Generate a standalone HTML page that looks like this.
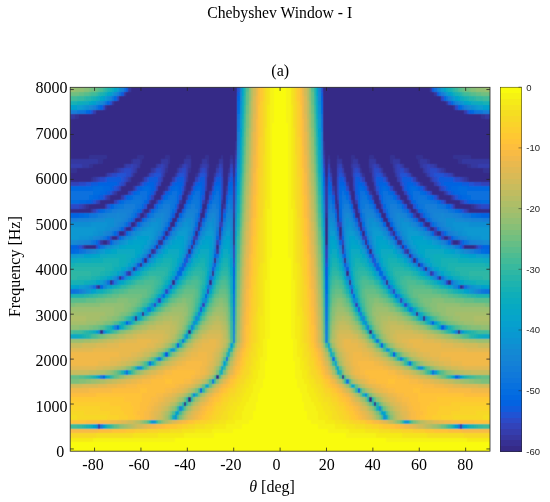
<!DOCTYPE html>
<html><head><meta charset="utf-8"><title>Chebyshev Window - I</title>
<style>
html,body{margin:0;padding:0;background:#fff;width:550px;height:502px;overflow:hidden}
svg{display:block}
.serif{font-family:"Liberation Serif","Times New Roman",serif;font-size:16px;fill:#000}
.sans{font-family:"Liberation Sans",Arial,sans-serif;font-size:9.5px;fill:#262626}
</style></head><body>
<svg width="550" height="502" viewBox="0 0 550 502">
<rect width="550" height="502" fill="#fff"/>
<defs><filter id="bl" x="-2%" y="-2%" width="104%" height="104%"><feConvolveMatrix order="3" kernelMatrix="9 42 9 42 196 42 9 42 9" divisor="400" edgeMode="duplicate" preserveAlpha="true"/></filter>
<clipPath id="axc"><rect x="70.2" y="87.3" width="419.80" height="363.90"/></clipPath></defs>
<g clip-path="url(#axc)"><g filter="url(#bl)">
<svg x="67.2" y="84.3" width="425.80" height="369.90" viewBox="-1.2935 -0.6678 183.5869 82.3355" preserveAspectRatio="none" shape-rendering="crispEdges">
<rect x="-2" y="-2" width="185" height="85" fill="#352a87"/>
<path fill="#363093" d="M15 4h1v1h-1zM165 4h1v1h-1zM2 6h2v1h-2zM177 6h2v1h-2zM71 12h1v1h-1zM109 12h1v1h-1zM71 13h1v1h-1zM109 13h1v1h-1zM8 15h8v1h-8zM29 15h3v1h-3zM41 15h2v1h-2zM50 15h2v1h-2zM58 15h2v1h-2zM65 15h1v1h-1zM69 15h1v1h-1zM111 15h1v1h-1zM115 15h1v1h-1zM121 15h2v1h-2zM129 15h2v1h-2zM138 15h2v1h-2zM149 15h3v1h-3zM165 15h8v1h-8zM12 16h2v1h-2zM26 16h1v1h-1zM30 16h1v1h-1zM42 16h1v1h-1zM59 16h1v1h-1zM121 16h1v1h-1zM138 16h1v1h-1zM150 16h1v1h-1zM154 16h1v1h-1zM167 16h2v1h-2zM8 17h2v1h-2zM47 17h1v1h-1zM63 17h1v1h-1zM117 17h1v1h-1zM133 17h1v1h-1zM171 17h2v1h-2zM-2 18h5v1h-5zM19 18h1v1h-1zM41 18h1v1h-1zM51 18h1v1h-1zM55 18h1v1h-1zM59 18h1v1h-1zM68 18h1v1h-1zM112 18h1v1h-1zM121 18h1v1h-1zM125 18h1v1h-1zM129 18h1v1h-1zM139 18h1v1h-1zM161 18h1v1h-1zM178 18h5v1h-5zM15 19h1v1h-1zM27 19h1v1h-1zM33 19h1v1h-1zM54 19h1v1h-1zM59 19h1v1h-1zM121 19h1v1h-1zM126 19h1v1h-1zM147 19h1v1h-1zM153 19h1v1h-1zM165 19h1v1h-1zM9 20h1v1h-1zM31 20h1v1h-1zM70 20h1v1h-1zM110 20h1v1h-1zM149 20h1v1h-1zM171 20h1v1h-1zM29 21h1v1h-1zM70 21h1v1h-1zM110 21h1v1h-1zM151 21h1v1h-1zM41 22h1v1h-1zM139 22h1v1h-1zM7 26h1v1h-1zM173 26h1v1h-1zM70 28h1v1h-1zM110 28h1v1h-1zM38 34h2v1h-2zM141 34h2v1h-2zM6 35h1v1h-1zM174 35h1v1h-1zM35 36h1v1h-1zM145 36h1v1h-1z"/>
<path fill="#3637a0" d="M25 -2h1v1h-1zM155 -2h1v1h-1zM25 -1h1v1h-1zM155 -1h1v1h-1zM25 0h1v1h-1zM155 0h1v1h-1zM23 1h1v1h-1zM157 1h1v1h-1zM18 3h1v1h-1zM162 3h1v1h-1zM-2 6h4v1h-4zM179 6h4v1h-4zM71 14h1v1h-1zM109 14h1v1h-1zM-2 16h14v1h-14zM27 16h3v1h-3zM39 16h3v1h-3zM49 16h3v1h-3zM57 16h2v1h-2zM64 16h2v1h-2zM69 16h1v1h-1zM111 16h1v1h-1zM115 16h2v1h-2zM122 16h2v1h-2zM129 16h3v1h-3zM139 16h3v1h-3zM151 16h3v1h-3zM169 16h14v1h-14zM5 17h3v1h-3zM23 17h1v1h-1zM29 17h1v1h-1zM37 17h1v1h-1zM41 17h1v1h-1zM51 17h1v1h-1zM56 17h1v1h-1zM59 17h1v1h-1zM121 17h1v1h-1zM124 17h1v1h-1zM129 17h1v1h-1zM139 17h1v1h-1zM143 17h1v1h-1zM151 17h1v1h-1zM157 17h1v1h-1zM173 17h3v1h-3zM20 18h1v1h-1zM28 18h1v1h-1zM35 18h1v1h-1zM46 18h1v1h-1zM134 18h1v1h-1zM145 18h1v1h-1zM152 18h1v1h-1zM160 18h1v1h-1zM40 19h1v1h-1zM45 19h1v1h-1zM62 19h1v1h-1zM118 19h1v1h-1zM135 19h1v1h-1zM140 19h1v1h-1zM10 20h1v1h-1zM25 20h1v1h-1zM50 20h1v1h-1zM130 20h1v1h-1zM155 20h1v1h-1zM170 20h1v1h-1zM61 21h1v1h-1zM119 21h1v1h-1zM27 22h1v1h-1zM49 22h1v1h-1zM67 22h1v1h-1zM70 22h1v1h-1zM110 22h1v1h-1zM113 22h1v1h-1zM131 22h1v1h-1zM153 22h1v1h-1zM19 23h1v1h-1zM51 23h1v1h-1zM70 23h1v1h-1zM110 23h1v1h-1zM129 23h1v1h-1zM161 23h1v1h-1zM16 24h1v1h-1zM50 24h1v1h-1zM70 24h1v1h-1zM110 24h1v1h-1zM130 24h1v1h-1zM164 24h1v1h-1zM34 25h1v1h-1zM47 25h1v1h-1zM65 25h1v1h-1zM70 25h1v1h-1zM110 25h1v1h-1zM115 25h1v1h-1zM133 25h1v1h-1zM146 25h1v1h-1zM6 26h1v1h-1zM66 26h1v1h-1zM70 26h1v1h-1zM110 26h1v1h-1zM114 26h1v1h-1zM174 26h1v1h-1zM9 27h1v1h-1zM70 27h1v1h-1zM110 27h1v1h-1zM171 27h1v1h-1zM30 29h1v1h-1zM150 29h1v1h-1zM43 31h1v1h-1zM137 31h1v1h-1zM64 33h1v1h-1zM116 33h1v1h-1zM13 34h1v1h-1zM167 34h1v1h-1zM63 36h1v1h-1zM117 36h1v1h-1zM25 41h1v1h-1zM155 41h1v1h-1z"/>
<path fill="#353dad" d="M10 5h1v1h-1zM170 5h1v1h-1zM71 15h1v1h-1zM109 15h1v1h-1zM-2 17h7v1h-7zM24 17h2v1h-2zM27 17h2v1h-2zM38 17h1v1h-1zM40 17h1v1h-1zM48 17h1v1h-1zM50 17h1v1h-1zM57 17h2v1h-2zM65 17h1v1h-1zM115 17h1v1h-1zM122 17h2v1h-2zM130 17h1v1h-1zM132 17h1v1h-1zM140 17h1v1h-1zM142 17h1v1h-1zM152 17h2v1h-2zM155 17h2v1h-2zM176 17h7v1h-7zM21 18h1v1h-1zM27 18h1v1h-1zM36 18h1v1h-1zM40 18h1v1h-1zM50 18h1v1h-1zM63 18h1v1h-1zM117 18h1v1h-1zM130 18h1v1h-1zM140 18h1v1h-1zM144 18h1v1h-1zM153 18h1v1h-1zM159 18h1v1h-1zM16 19h1v1h-1zM26 19h1v1h-1zM50 19h1v1h-1zM68 19h1v1h-1zM112 19h1v1h-1zM130 19h1v1h-1zM154 19h1v1h-1zM164 19h1v1h-1zM11 20h1v1h-1zM39 20h1v1h-1zM44 20h1v1h-1zM136 20h1v1h-1zM141 20h1v1h-1zM169 20h1v1h-1zM23 21h1v1h-1zM157 21h1v1h-1zM21 22h1v1h-1zM52 22h1v1h-1zM58 22h1v1h-1zM122 22h1v1h-1zM128 22h1v1h-1zM159 22h1v1h-1zM40 23h1v1h-1zM60 23h1v1h-1zM120 23h1v1h-1zM140 23h1v1h-1zM22 24h1v1h-1zM158 24h1v1h-1zM12 25h1v1h-1zM37 25h1v1h-1zM57 25h1v1h-1zM59 25h1v1h-1zM121 25h1v1h-1zM123 25h1v1h-1zM143 25h1v1h-1zM168 25h1v1h-1zM5 26h1v1h-1zM15 26h1v1h-1zM165 26h1v1h-1zM175 26h1v1h-1zM31 27h1v1h-1zM149 27h1v1h-1zM32 28h1v1h-1zM148 28h1v1h-1zM28 30h1v1h-1zM56 30h1v1h-1zM124 30h1v1h-1zM152 30h1v1h-1zM23 32h1v1h-1zM157 32h1v1h-1zM53 33h1v1h-1zM127 33h1v1h-1zM16 34h1v1h-1zM164 34h1v1h-1zM70 35h1v1h-1zM110 35h1v1h-1zM36 36h1v1h-1zM144 36h1v1h-1zM11 44h1v1h-1zM169 44h1v1h-1zM12 75h1v1h-1zM168 75h1v1h-1z"/>
<path fill="#3243ba" d="M71 16h1v1h-1zM109 16h1v1h-1zM26 17h1v1h-1zM39 17h1v1h-1zM49 17h1v1h-1zM64 17h1v1h-1zM69 17h1v1h-1zM111 17h1v1h-1zM116 17h1v1h-1zM131 17h1v1h-1zM141 17h1v1h-1zM154 17h1v1h-1zM22 18h1v1h-1zM26 18h1v1h-1zM39 18h1v1h-1zM47 18h1v1h-1zM56 18h1v1h-1zM58 18h1v1h-1zM65 18h1v1h-1zM115 18h1v1h-1zM122 18h1v1h-1zM124 18h1v1h-1zM133 18h1v1h-1zM141 18h1v1h-1zM154 18h1v1h-1zM158 18h1v1h-1zM17 19h1v1h-1zM34 19h1v1h-1zM39 19h1v1h-1zM55 19h1v1h-1zM65 19h1v1h-1zM115 19h1v1h-1zM125 19h1v1h-1zM141 19h1v1h-1zM146 19h1v1h-1zM163 19h1v1h-1zM12 20h1v1h-1zM24 20h1v1h-1zM32 20h1v1h-1zM54 20h1v1h-1zM58 20h1v1h-1zM122 20h1v1h-1zM126 20h1v1h-1zM148 20h1v1h-1zM156 20h1v1h-1zM168 20h1v1h-1zM-2 21h6v1h-6zM30 21h1v1h-1zM38 21h1v1h-1zM43 21h1v1h-1zM49 21h1v1h-1zM53 21h1v1h-1zM58 21h1v1h-1zM122 21h1v1h-1zM127 21h1v1h-1zM131 21h1v1h-1zM137 21h1v1h-1zM142 21h1v1h-1zM150 21h1v1h-1zM177 21h6v1h-6zM37 22h1v1h-1zM143 22h1v1h-1zM18 23h1v1h-1zM25 23h1v1h-1zM36 23h1v1h-1zM48 23h1v1h-1zM67 23h1v1h-1zM113 23h1v1h-1zM132 23h1v1h-1zM144 23h1v1h-1zM155 23h1v1h-1zM162 23h1v1h-1zM15 24h1v1h-1zM35 24h1v1h-1zM65 24h1v1h-1zM115 24h1v1h-1zM145 24h1v1h-1zM165 24h1v1h-1zM11 25h1v1h-1zM19 25h1v1h-1zM161 25h1v1h-1zM169 25h1v1h-1zM4 26h1v1h-1zM46 26h1v1h-1zM134 26h1v1h-1zM176 26h1v1h-1zM10 27h1v1h-1zM34 27h1v1h-1zM146 27h1v1h-1zM170 27h1v1h-1zM64 30h2v1h-2zM115 30h2v1h-2zM23 31h1v1h-1zM157 31h1v1h-1zM17 33h1v1h-1zM20 33h1v1h-1zM54 33h1v1h-1zM126 33h1v1h-1zM160 33h1v1h-1zM163 33h1v1h-1zM63 34h1v1h-1zM117 34h1v1h-1zM5 35h1v1h-1zM175 35h1v1h-1zM70 36h1v1h-1zM110 36h1v1h-1zM70 37h1v1h-1zM110 37h1v1h-1zM59 45h1v1h-1zM121 45h1v1h-1zM38 47h1v1h-1zM142 47h1v1h-1zM57 48h1v1h-1zM123 48h1v1h-1z"/>
<path fill="#2c4ac7" d="M20 2h1v1h-1zM160 2h1v1h-1zM14 4h1v1h-1zM166 4h1v1h-1zM71 17h1v1h-1zM109 17h1v1h-1zM23 18h3v1h-3zM37 18h2v1h-2zM48 18h2v1h-2zM57 18h1v1h-1zM64 18h1v1h-1zM69 18h1v1h-1zM111 18h1v1h-1zM116 18h1v1h-1zM123 18h1v1h-1zM131 18h2v1h-2zM142 18h2v1h-2zM155 18h3v1h-3zM18 19h2v1h-2zM24 19h2v1h-2zM35 19h1v1h-1zM46 19h1v1h-1zM49 19h1v1h-1zM58 19h1v1h-1zM63 19h1v1h-1zM117 19h1v1h-1zM122 19h1v1h-1zM131 19h1v1h-1zM134 19h1v1h-1zM145 19h1v1h-1zM155 19h2v1h-2zM161 19h2v1h-2zM13 20h2v1h-2zM23 20h1v1h-1zM38 20h1v1h-1zM49 20h1v1h-1zM62 20h1v1h-1zM65 20h1v1h-1zM68 20h1v1h-1zM112 20h1v1h-1zM115 20h1v1h-1zM118 20h1v1h-1zM131 20h1v1h-1zM142 20h1v1h-1zM157 20h1v1h-1zM166 20h2v1h-2zM4 21h3v1h-3zM22 21h1v1h-1zM65 21h1v1h-1zM115 21h1v1h-1zM158 21h1v1h-1zM174 21h3v1h-3zM20 22h1v1h-1zM28 22h1v1h-1zM42 22h1v1h-1zM61 22h1v1h-1zM65 22h1v1h-1zM115 22h1v1h-1zM119 22h1v1h-1zM138 22h1v1h-1zM152 22h1v1h-1zM160 22h1v1h-1zM65 23h1v1h-1zM115 23h1v1h-1zM39 24h1v1h-1zM141 24h1v1h-1zM-2 26h6v1h-6zM177 26h6v1h-6zM56 27h1v1h-1zM58 27h1v1h-1zM122 27h1v1h-1zM124 27h1v1h-1zM29 28h1v1h-1zM151 28h1v1h-1zM26 31h1v1h-1zM154 31h1v1h-1zM42 32h1v1h-1zM138 32h1v1h-1zM11 35h1v1h-1zM169 35h1v1h-1zM50 37h1v1h-1zM130 37h1v1h-1zM70 38h1v1h-1zM110 38h1v1h-1zM24 41h1v1h-1zM156 41h1v1h-1zM18 43h1v1h-1zM162 43h1v1h-1zM41 45h1v1h-1zM139 45h1v1h-1zM36 48h1v1h-1zM144 48h1v1h-1z"/>
<path fill="#2053d4" d="M72 -2h1v1h-1zM108 -2h1v1h-1zM72 -1h1v1h-1zM108 -1h1v1h-1zM72 0h1v1h-1zM108 0h1v1h-1zM17 3h1v1h-1zM163 3h1v1h-1zM9 5h1v1h-1zM171 5h1v1h-1zM71 18h1v1h-1zM109 18h1v1h-1zM20 19h4v1h-4zM36 19h3v1h-3zM47 19h2v1h-2zM56 19h2v1h-2zM64 19h1v1h-1zM69 19h1v1h-1zM111 19h1v1h-1zM116 19h1v1h-1zM123 19h2v1h-2zM132 19h2v1h-2zM142 19h3v1h-3zM157 19h4v1h-4zM15 20h1v1h-1zM22 20h1v1h-1zM33 20h1v1h-1zM45 20h1v1h-1zM55 20h1v1h-1zM125 20h1v1h-1zM135 20h1v1h-1zM147 20h1v1h-1zM158 20h1v1h-1zM165 20h1v1h-1zM7 21h2v1h-2zM21 21h1v1h-1zM31 21h1v1h-1zM37 21h1v1h-1zM143 21h1v1h-1zM149 21h1v1h-1zM159 21h1v1h-1zM172 21h2v1h-2zM19 22h1v1h-1zM48 22h1v1h-1zM132 22h1v1h-1zM161 22h1v1h-1zM17 23h1v1h-1zM26 23h1v1h-1zM154 23h1v1h-1zM163 23h1v1h-1zM14 24h1v1h-1zM23 24h1v1h-1zM47 24h1v1h-1zM57 24h1v1h-1zM60 24h1v1h-1zM120 24h1v1h-1zM123 24h1v1h-1zM133 24h1v1h-1zM157 24h1v1h-1zM166 24h1v1h-1zM10 25h1v1h-1zM20 25h1v1h-1zM160 25h1v1h-1zM170 25h1v1h-1zM16 26h1v1h-1zM32 26h1v1h-1zM36 26h1v1h-1zM144 26h1v1h-1zM148 26h1v1h-1zM164 26h1v1h-1zM11 27h1v1h-1zM45 27h1v1h-1zM66 27h1v1h-1zM114 27h1v1h-1zM135 27h1v1h-1zM169 27h1v1h-1zM27 29h1v1h-1zM55 29h1v1h-1zM125 29h1v1h-1zM153 29h1v1h-1zM25 30h1v1h-1zM155 30h1v1h-1zM54 31h1v1h-1zM126 31h1v1h-1zM20 32h1v1h-1zM160 32h1v1h-1zM39 33h1v1h-1zM141 33h1v1h-1zM12 34h1v1h-1zM168 34h1v1h-1zM4 35h1v1h-1zM176 35h1v1h-1zM33 37h1v1h-1zM147 37h1v1h-1zM50 38h1v1h-1zM130 38h1v1h-1zM49 39h1v1h-1zM70 39h1v1h-1zM110 39h1v1h-1zM131 39h1v1h-1zM22 42h1v1h-1zM158 42h1v1h-1zM43 44h1v1h-1zM137 44h1v1h-1zM56 49h1v1h-1zM124 49h1v1h-1z"/>
<path fill="#0f5cdd" d="M24 -2h1v1h-1zM156 -2h1v1h-1zM24 -1h1v1h-1zM156 -1h1v1h-1zM24 0h1v1h-1zM156 0h1v1h-1zM22 1h1v1h-1zM72 1h1v1h-1zM108 1h1v1h-1zM158 1h1v1h-1zM71 19h1v1h-1zM109 19h1v1h-1zM16 20h6v1h-6zM34 20h4v1h-4zM46 20h3v1h-3zM56 20h2v1h-2zM63 20h2v1h-2zM69 20h1v1h-1zM111 20h1v1h-1zM116 20h2v1h-2zM123 20h2v1h-2zM132 20h3v1h-3zM143 20h4v1h-4zM159 20h6v1h-6zM9 21h3v1h-3zM20 21h1v1h-1zM32 21h1v1h-1zM36 21h1v1h-1zM44 21h1v1h-1zM48 21h1v1h-1zM54 21h1v1h-1zM57 21h1v1h-1zM62 21h1v1h-1zM68 21h1v1h-1zM112 21h1v1h-1zM118 21h1v1h-1zM123 21h1v1h-1zM126 21h1v1h-1zM132 21h1v1h-1zM136 21h1v1h-1zM144 21h1v1h-1zM148 21h1v1h-1zM160 21h1v1h-1zM169 21h3v1h-3zM18 22h1v1h-1zM29 22h1v1h-1zM36 22h1v1h-1zM53 22h1v1h-1zM57 22h1v1h-1zM123 22h1v1h-1zM127 22h1v1h-1zM144 22h1v1h-1zM151 22h1v1h-1zM162 22h1v1h-1zM16 23h1v1h-1zM35 23h1v1h-1zM41 23h1v1h-1zM52 23h1v1h-1zM57 23h1v1h-1zM123 23h1v1h-1zM128 23h1v1h-1zM139 23h1v1h-1zM145 23h1v1h-1zM164 23h1v1h-1zM13 24h1v1h-1zM34 24h1v1h-1zM51 24h1v1h-1zM67 24h1v1h-1zM113 24h1v1h-1zM129 24h1v1h-1zM146 24h1v1h-1zM167 24h1v1h-1zM9 25h1v1h-1zM33 25h1v1h-1zM38 25h1v1h-1zM50 25h1v1h-1zM130 25h1v1h-1zM142 25h1v1h-1zM147 25h1v1h-1zM171 25h1v1h-1zM49 26h1v1h-1zM131 26h1v1h-1zM12 27h1v1h-1zM48 27h1v1h-1zM132 27h1v1h-1zM168 27h1v1h-1zM44 28h1v1h-1zM136 28h1v1h-1zM57 29h1v1h-1zM64 29h1v1h-1zM116 29h1v1h-1zM123 29h1v1h-1zM40 32h1v1h-1zM140 32h1v1h-1zM3 35h1v1h-1zM177 35h1v1h-1zM29 39h1v1h-1zM62 39h1v1h-1zM118 39h1v1h-1zM151 39h1v1h-1zM28 40h1v1h-1zM48 40h1v1h-1zM61 40h1v1h-1zM70 40h1v1h-1zM110 40h1v1h-1zM119 40h1v1h-1zM132 40h1v1h-1zM152 40h1v1h-1zM70 41h1v1h-1zM110 41h1v1h-1zM45 42h1v1h-1zM135 42h1v1h-1zM46 57h1v1h-1zM134 57h1v1h-1zM41 59h1v1h-1zM139 59h1v1h-1z"/>
<path fill="#0363e1" d="M72 2h1v1h-1zM108 2h1v1h-1zM13 4h1v1h-1zM167 4h1v1h-1zM8 5h1v1h-1zM172 5h1v1h-1zM12 21h8v1h-8zM33 21h3v1h-3zM45 21h3v1h-3zM55 21h2v1h-2zM63 21h2v1h-2zM69 21h1v1h-1zM111 21h1v1h-1zM116 21h2v1h-2zM124 21h2v1h-2zM133 21h3v1h-3zM145 21h3v1h-3zM161 21h8v1h-8zM17 22h1v1h-1zM30 22h1v1h-1zM35 22h1v1h-1zM43 22h1v1h-1zM47 22h1v1h-1zM68 22h1v1h-1zM112 22h1v1h-1zM133 22h1v1h-1zM137 22h1v1h-1zM145 22h1v1h-1zM150 22h1v1h-1zM163 22h1v1h-1zM15 23h1v1h-1zM27 23h1v1h-1zM47 23h1v1h-1zM61 23h1v1h-1zM119 23h1v1h-1zM133 23h1v1h-1zM153 23h1v1h-1zM165 23h1v1h-1zM12 24h1v1h-1zM24 24h1v1h-1zM40 24h1v1h-1zM140 24h1v1h-1zM156 24h1v1h-1zM168 24h1v1h-1zM7 25h2v1h-2zM21 25h1v1h-1zM46 25h1v1h-1zM134 25h1v1h-1zM159 25h1v1h-1zM172 25h2v1h-2zM17 26h1v1h-1zM56 26h1v1h-1zM59 26h1v1h-1zM121 26h1v1h-1zM124 26h1v1h-1zM163 26h1v1h-1zM30 27h1v1h-1zM150 27h1v1h-1zM-2 28h6v1h-6zM33 28h1v1h-1zM47 28h1v1h-1zM133 28h1v1h-1zM147 28h1v1h-1zM177 28h6v1h-6zM31 29h1v1h-1zM43 29h1v1h-1zM46 29h1v1h-1zM134 29h1v1h-1zM137 29h1v1h-1zM149 29h1v1h-1zM42 30h1v1h-1zM138 30h1v1h-1zM41 31h1v1h-1zM65 31h1v1h-1zM115 31h1v1h-1zM139 31h1v1h-1zM55 32h1v1h-1zM125 32h1v1h-1zM16 33h1v1h-1zM41 33h1v1h-1zM139 33h1v1h-1zM164 33h1v1h-1zM17 34h1v1h-1zM52 34h1v1h-1zM128 34h1v1h-1zM163 34h1v1h-1zM-2 35h5v1h-5zM12 35h1v1h-1zM36 35h1v1h-1zM38 35h1v1h-1zM142 35h1v1h-1zM144 35h1v1h-1zM168 35h1v1h-1zM178 35h5v1h-5zM51 37h1v1h-1zM62 37h1v1h-1zM118 37h1v1h-1zM129 37h1v1h-1zM31 38h1v1h-1zM49 38h1v1h-1zM131 38h1v1h-1zM149 38h1v1h-1zM70 42h1v1h-1zM110 42h1v1h-1zM20 53h1v1h-1zM160 53h1v1h-1zM56 67h1v1h-1zM124 67h1v1h-1z"/>
<path fill="#0268e1" d="M19 2h1v1h-1zM161 2h1v1h-1zM16 3h1v1h-1zM72 3h1v1h-1zM108 3h1v1h-1zM164 3h1v1h-1zM72 4h1v1h-1zM108 4h1v1h-1zM7 5h1v1h-1zM173 5h1v1h-1zM71 20h1v1h-1zM109 20h1v1h-1zM-2 22h12v1h-12zM14 22h3v1h-3zM31 22h1v1h-1zM34 22h1v1h-1zM44 22h1v1h-1zM46 22h1v1h-1zM54 22h1v1h-1zM56 22h1v1h-1zM62 22h1v1h-1zM64 22h1v1h-1zM69 22h1v1h-1zM111 22h1v1h-1zM116 22h1v1h-1zM118 22h1v1h-1zM124 22h1v1h-1zM126 22h1v1h-1zM134 22h1v1h-1zM136 22h1v1h-1zM146 22h1v1h-1zM149 22h1v1h-1zM164 22h3v1h-3zM171 22h12v1h-12zM13 23h2v1h-2zM28 23h1v1h-1zM34 23h1v1h-1zM42 23h1v1h-1zM56 23h1v1h-1zM64 23h1v1h-1zM116 23h1v1h-1zM124 23h1v1h-1zM138 23h1v1h-1zM146 23h1v1h-1zM152 23h1v1h-1zM166 23h2v1h-2zM10 24h2v1h-2zM25 24h1v1h-1zM33 24h1v1h-1zM46 24h1v1h-1zM56 24h1v1h-1zM124 24h1v1h-1zM134 24h1v1h-1zM147 24h1v1h-1zM155 24h1v1h-1zM169 24h2v1h-2zM4 25h3v1h-3zM32 25h1v1h-1zM56 25h1v1h-1zM60 25h1v1h-1zM67 25h1v1h-1zM113 25h1v1h-1zM120 25h1v1h-1zM124 25h1v1h-1zM148 25h1v1h-1zM174 25h3v1h-3zM18 26h1v1h-1zM31 26h1v1h-1zM37 26h1v1h-1zM45 26h1v1h-1zM135 26h1v1h-1zM143 26h1v1h-1zM149 26h1v1h-1zM162 26h1v1h-1zM13 27h1v1h-1zM35 27h1v1h-1zM64 27h1v1h-1zM116 27h1v1h-1zM145 27h1v1h-1zM167 27h1v1h-1zM4 28h2v1h-2zM28 28h1v1h-1zM55 28h1v1h-1zM58 28h1v1h-1zM64 28h1v1h-1zM66 28h1v1h-1zM114 28h1v1h-1zM116 28h1v1h-1zM122 28h1v1h-1zM125 28h1v1h-1zM152 28h1v1h-1zM175 28h2v1h-2zM29 30h1v1h-1zM45 30h1v1h-1zM135 30h1v1h-1zM151 30h1v1h-1zM22 31h1v1h-1zM158 31h1v1h-1zM19 32h1v1h-1zM24 32h1v1h-1zM156 32h1v1h-1zM161 32h1v1h-1zM21 33h1v1h-1zM63 33h1v1h-1zM117 33h1v1h-1zM159 33h1v1h-1zM11 34h1v1h-1zM64 34h1v1h-1zM116 34h1v1h-1zM169 34h1v1h-1zM-2 36h4v1h-4zM179 36h4v1h-4zM47 41h1v1h-1zM133 41h1v1h-1zM70 43h1v1h-1zM110 43h1v1h-1zM13 44h1v1h-1zM70 44h1v1h-1zM110 44h1v1h-1zM167 44h1v1h-1zM24 52h1v1h-1zM156 52h1v1h-1z"/>
<path fill="#046de0" d="M12 4h1v1h-1zM168 4h1v1h-1zM72 5h1v1h-1zM108 5h1v1h-1zM71 21h1v1h-1zM109 21h1v1h-1zM10 22h4v1h-4zM32 22h2v1h-2zM45 22h1v1h-1zM55 22h1v1h-1zM63 22h1v1h-1zM117 22h1v1h-1zM125 22h1v1h-1zM135 22h1v1h-1zM147 22h2v1h-2zM167 22h4v1h-4zM10 23h3v1h-3zM29 23h1v1h-1zM33 23h1v1h-1zM43 23h1v1h-1zM46 23h1v1h-1zM53 23h1v1h-1zM62 23h1v1h-1zM68 23h2v1h-2zM111 23h2v1h-2zM118 23h1v1h-1zM127 23h1v1h-1zM134 23h1v1h-1zM137 23h1v1h-1zM147 23h1v1h-1zM151 23h1v1h-1zM168 23h3v1h-3zM8 24h2v1h-2zM26 24h1v1h-1zM41 24h1v1h-1zM52 24h1v1h-1zM61 24h1v1h-1zM64 24h1v1h-1zM116 24h1v1h-1zM119 24h1v1h-1zM128 24h1v1h-1zM139 24h1v1h-1zM154 24h1v1h-1zM171 24h2v1h-2zM-2 25h6v1h-6zM22 25h1v1h-1zM39 25h1v1h-1zM51 25h1v1h-1zM64 25h1v1h-1zM116 25h1v1h-1zM129 25h1v1h-1zM141 25h1v1h-1zM158 25h1v1h-1zM177 25h6v1h-6zM64 26h1v1h-1zM116 26h1v1h-1zM14 27h1v1h-1zM29 27h1v1h-1zM44 27h1v1h-1zM136 27h1v1h-1zM151 27h1v1h-1zM166 27h1v1h-1zM6 28h2v1h-2zM173 28h2v1h-2zM26 29h1v1h-1zM154 29h1v1h-1zM24 30h1v1h-1zM54 30h1v1h-1zM126 30h1v1h-1zM156 30h1v1h-1zM27 31h1v1h-1zM56 31h1v1h-1zM124 31h1v1h-1zM153 31h1v1h-1zM53 32h1v1h-1zM127 32h1v1h-1zM2 36h2v1h-2zM52 36h1v1h-1zM128 36h1v1h-1zM177 36h2v1h-2zM48 39h1v1h-1zM132 39h1v1h-1zM47 40h1v1h-1zM133 40h1v1h-1zM46 41h1v1h-1zM134 41h1v1h-1zM70 45h1v1h-1zM110 45h1v1h-1zM40 46h1v1h-1zM58 46h1v1h-1zM122 46h1v1h-1zM140 46h1v1h-1zM14 64h1v1h-1zM166 64h1v1h-1z"/>
<path fill="#0871de" d="M23 -2h1v1h-1zM157 -2h1v1h-1zM23 -1h1v1h-1zM157 -1h1v1h-1zM23 0h1v1h-1zM157 0h1v1h-1zM21 1h1v1h-1zM159 1h1v1h-1zM6 5h1v1h-1zM174 5h1v1h-1zM72 6h1v1h-1zM108 6h1v1h-1zM71 22h1v1h-1zM109 22h1v1h-1zM-2 23h12v1h-12zM30 23h3v1h-3zM44 23h2v1h-2zM54 23h2v1h-2zM63 23h1v1h-1zM117 23h1v1h-1zM125 23h2v1h-2zM135 23h2v1h-2zM148 23h3v1h-3zM171 23h12v1h-12zM-2 24h10v1h-10zM27 24h1v1h-1zM31 24h2v1h-2zM42 24h1v1h-1zM45 24h1v1h-1zM55 24h1v1h-1zM68 24h2v1h-2zM111 24h2v1h-2zM125 24h1v1h-1zM135 24h1v1h-1zM138 24h1v1h-1zM148 24h2v1h-2zM153 24h1v1h-1zM173 24h10v1h-10zM23 25h1v1h-1zM31 25h1v1h-1zM45 25h1v1h-1zM135 25h1v1h-1zM149 25h1v1h-1zM157 25h1v1h-1zM19 26h1v1h-1zM30 26h1v1h-1zM50 26h1v1h-1zM67 26h1v1h-1zM113 26h1v1h-1zM130 26h1v1h-1zM150 26h1v1h-1zM161 26h1v1h-1zM15 27h1v1h-1zM36 27h1v1h-1zM49 27h1v1h-1zM55 27h1v1h-1zM59 27h1v1h-1zM121 27h1v1h-1zM125 27h1v1h-1zM131 27h1v1h-1zM144 27h1v1h-1zM165 27h1v1h-1zM8 28h1v1h-1zM27 28h1v1h-1zM34 28h1v1h-1zM43 28h1v1h-1zM137 28h1v1h-1zM146 28h1v1h-1zM153 28h1v1h-1zM172 28h1v1h-1zM32 29h1v1h-1zM66 29h1v1h-1zM114 29h1v1h-1zM148 29h1v1h-1zM44 31h1v1h-1zM136 31h1v1h-1zM63 32h1v1h-1zM117 32h1v1h-1zM15 33h1v1h-1zM165 33h1v1h-1zM10 34h1v1h-1zM37 34h1v1h-1zM40 34h1v1h-1zM140 34h1v1h-1zM143 34h1v1h-1zM170 34h1v1h-1zM13 35h1v1h-1zM51 35h1v1h-1zM53 35h1v1h-1zM127 35h1v1h-1zM129 35h1v1h-1zM167 35h1v1h-1zM4 36h1v1h-1zM176 36h1v1h-1zM63 37h1v1h-1zM117 37h1v1h-1zM33 38h1v1h-1zM147 38h1v1h-1zM16 43h1v1h-1zM164 43h1v1h-1zM10 44h1v1h-1zM170 44h1v1h-1zM-2 45h4v1h-4zM179 45h4v1h-4zM70 46h1v1h-1zM110 46h1v1h-1zM70 47h1v1h-1zM110 47h1v1h-1zM67 60h1v1h-1zM113 60h1v1h-1zM34 61h1v1h-1zM146 61h1v1h-1z"/>
<path fill="#0d75dc" d="M18 2h1v1h-1zM162 2h1v1h-1zM15 3h1v1h-1zM165 3h1v1h-1zM11 4h1v1h-1zM169 4h1v1h-1zM4 5h2v1h-2zM175 5h2v1h-2zM72 7h1v1h-1zM108 7h1v1h-1zM72 8h1v1h-1zM108 8h1v1h-1zM71 23h1v1h-1zM109 23h1v1h-1zM28 24h3v1h-3zM43 24h2v1h-2zM53 24h2v1h-2zM62 24h2v1h-2zM117 24h2v1h-2zM126 24h2v1h-2zM136 24h2v1h-2zM150 24h3v1h-3zM24 25h2v1h-2zM30 25h1v1h-1zM40 25h1v1h-1zM44 25h1v1h-1zM52 25h1v1h-1zM55 25h1v1h-1zM61 25h1v1h-1zM63 25h1v1h-1zM69 25h1v1h-1zM111 25h1v1h-1zM117 25h1v1h-1zM119 25h1v1h-1zM125 25h1v1h-1zM128 25h1v1h-1zM136 25h1v1h-1zM140 25h1v1h-1zM150 25h1v1h-1zM155 25h2v1h-2zM20 26h1v1h-1zM29 26h1v1h-1zM38 26h1v1h-1zM44 26h1v1h-1zM55 26h1v1h-1zM60 26h1v1h-1zM120 26h1v1h-1zM125 26h1v1h-1zM136 26h1v1h-1zM142 26h1v1h-1zM151 26h1v1h-1zM160 26h1v1h-1zM16 27h1v1h-1zM28 27h1v1h-1zM152 27h1v1h-1zM164 27h1v1h-1zM9 28h2v1h-2zM48 28h1v1h-1zM132 28h1v1h-1zM170 28h2v1h-2zM25 29h1v1h-1zM42 29h1v1h-1zM54 29h1v1h-1zM126 29h1v1h-1zM138 29h1v1h-1zM155 29h1v1h-1zM23 30h1v1h-1zM30 30h1v1h-1zM57 30h1v1h-1zM123 30h1v1h-1zM150 30h1v1h-1zM157 30h1v1h-1zM21 31h1v1h-1zM159 31h1v1h-1zM18 32h1v1h-1zM25 32h1v1h-1zM43 32h1v1h-1zM65 32h1v1h-1zM115 32h1v1h-1zM137 32h1v1h-1zM155 32h1v1h-1zM162 32h1v1h-1zM22 33h1v1h-1zM38 33h1v1h-1zM142 33h1v1h-1zM158 33h1v1h-1zM18 34h1v1h-1zM54 34h1v1h-1zM126 34h1v1h-1zM162 34h1v1h-1zM5 36h1v1h-1zM34 36h1v1h-1zM62 36h1v1h-1zM118 36h1v1h-1zM146 36h1v1h-1zM175 36h1v1h-1zM35 37h1v1h-1zM145 37h1v1h-1zM20 42h1v1h-1zM60 42h1v1h-1zM120 42h1v1h-1zM160 42h1v1h-1zM2 45h1v1h-1zM178 45h1v1h-1zM70 48h1v1h-1zM110 48h1v1h-1zM70 49h1v1h-1zM110 49h1v1h-1zM24 63h1v1h-1zM156 63h1v1h-1z"/>
<path fill="#1079da" d="M3 5h1v1h-1zM177 5h1v1h-1zM72 9h1v1h-1zM108 9h1v1h-1zM71 24h1v1h-1zM109 24h1v1h-1zM26 25h4v1h-4zM41 25h3v1h-3zM53 25h2v1h-2zM62 25h1v1h-1zM68 25h1v1h-1zM112 25h1v1h-1zM118 25h1v1h-1zM126 25h2v1h-2zM137 25h3v1h-3zM151 25h4v1h-4zM21 26h2v1h-2zM28 26h1v1h-1zM39 26h1v1h-1zM43 26h1v1h-1zM51 26h1v1h-1zM54 26h1v1h-1zM63 26h1v1h-1zM69 26h1v1h-1zM111 26h1v1h-1zM117 26h1v1h-1zM126 26h1v1h-1zM129 26h1v1h-1zM137 26h1v1h-1zM141 26h1v1h-1zM152 26h1v1h-1zM158 26h2v1h-2zM17 27h1v1h-1zM27 27h1v1h-1zM37 27h1v1h-1zM43 27h1v1h-1zM67 27h1v1h-1zM113 27h1v1h-1zM137 27h1v1h-1zM143 27h1v1h-1zM153 27h1v1h-1zM163 27h1v1h-1zM11 28h1v1h-1zM26 28h1v1h-1zM35 28h1v1h-1zM54 28h1v1h-1zM126 28h1v1h-1zM145 28h1v1h-1zM154 28h1v1h-1zM169 28h1v1h-1zM47 29h1v1h-1zM58 29h1v1h-1zM122 29h1v1h-1zM133 29h1v1h-1zM41 30h1v1h-1zM139 30h1v1h-1zM28 31h1v1h-1zM40 31h1v1h-1zM53 31h1v1h-1zM63 31h1v1h-1zM117 31h1v1h-1zM127 31h1v1h-1zM140 31h1v1h-1zM152 31h1v1h-1zM39 32h1v1h-1zM141 32h1v1h-1zM14 33h1v1h-1zM52 33h1v1h-1zM128 33h1v1h-1zM166 33h1v1h-1zM9 34h1v1h-1zM171 34h1v1h-1zM14 35h1v1h-1zM166 35h1v1h-1zM6 36h1v1h-1zM37 36h1v1h-1zM143 36h1v1h-1zM174 36h1v1h-1zM31 39h1v1h-1zM149 39h1v1h-1zM26 40h1v1h-1zM154 40h1v1h-1zM46 42h1v1h-1zM134 42h1v1h-1zM59 44h1v1h-1zM121 44h1v1h-1zM3 45h1v1h-1zM177 45h1v1h-1zM34 49h1v1h-1zM146 49h1v1h-1zM70 50h1v1h-1zM110 50h1v1h-1zM70 51h1v1h-1zM110 51h1v1h-1zM48 56h1v1h-1zM132 56h1v1h-1zM61 65h1v1h-1zM119 65h1v1h-1z"/>
<path fill="#127dd8" d="M20 1h1v1h-1zM160 1h1v1h-1zM10 4h1v1h-1zM170 4h1v1h-1zM-2 5h5v1h-5zM178 5h5v1h-5zM72 10h1v1h-1zM108 10h1v1h-1zM72 11h1v1h-1zM108 11h1v1h-1zM71 25h1v1h-1zM109 25h1v1h-1zM23 26h5v1h-5zM40 26h3v1h-3zM52 26h2v1h-2zM61 26h2v1h-2zM68 26h1v1h-1zM112 26h1v1h-1zM118 26h2v1h-2zM127 26h2v1h-2zM138 26h3v1h-3zM153 26h5v1h-5zM18 27h2v1h-2zM26 27h1v1h-1zM38 27h1v1h-1zM42 27h1v1h-1zM50 27h1v1h-1zM54 27h1v1h-1zM60 27h1v1h-1zM63 27h1v1h-1zM69 27h1v1h-1zM111 27h1v1h-1zM117 27h1v1h-1zM120 27h1v1h-1zM126 27h1v1h-1zM130 27h1v1h-1zM138 27h1v1h-1zM142 27h1v1h-1zM154 27h1v1h-1zM161 27h2v1h-2zM12 28h2v1h-2zM25 28h1v1h-1zM42 28h1v1h-1zM49 28h1v1h-1zM59 28h1v1h-1zM63 28h1v1h-1zM117 28h1v1h-1zM121 28h1v1h-1zM131 28h1v1h-1zM138 28h1v1h-1zM155 28h1v1h-1zM167 28h2v1h-2zM-2 29h5v1h-5zM24 29h1v1h-1zM33 29h1v1h-1zM63 29h1v1h-1zM117 29h1v1h-1zM147 29h1v1h-1zM156 29h1v1h-1zM178 29h5v1h-5zM22 30h1v1h-1zM31 30h1v1h-1zM46 30h1v1h-1zM63 30h1v1h-1zM66 30h1v1h-1zM114 30h1v1h-1zM117 30h1v1h-1zM134 30h1v1h-1zM149 30h1v1h-1zM158 30h1v1h-1zM20 31h1v1h-1zM160 31h1v1h-1zM17 32h1v1h-1zM163 32h1v1h-1zM13 33h1v1h-1zM42 33h1v1h-1zM55 33h1v1h-1zM125 33h1v1h-1zM138 33h1v1h-1zM167 33h1v1h-1zM8 34h1v1h-1zM19 34h1v1h-1zM161 34h1v1h-1zM172 34h1v1h-1zM35 35h1v1h-1zM39 35h1v1h-1zM62 35h1v1h-1zM64 35h1v1h-1zM116 35h1v1h-1zM118 35h1v1h-1zM141 35h1v1h-1zM145 35h1v1h-1zM7 36h1v1h-1zM50 36h1v1h-1zM130 36h1v1h-1zM173 36h1v1h-1zM32 37h1v1h-1zM148 37h1v1h-1zM61 39h1v1h-1zM119 39h1v1h-1zM23 41h1v1h-1zM26 41h1v1h-1zM154 41h1v1h-1zM157 41h1v1h-1zM19 43h1v1h-1zM161 43h1v1h-1zM9 44h1v1h-1zM171 44h1v1h-1zM4 45h1v1h-1zM176 45h1v1h-1zM39 46h1v1h-1zM141 46h1v1h-1zM33 49h1v1h-1zM147 49h1v1h-1zM55 50h1v1h-1zM125 50h1v1h-1zM70 52h1v1h-1zM110 52h1v1h-1zM38 60h1v1h-1zM142 60h1v1h-1zM13 64h1v1h-1zM167 64h1v1h-1zM13 75h1v1h-1zM167 75h1v1h-1z"/>
<path fill="#1481d6" d="M22 -2h1v1h-1zM158 -2h1v1h-1zM22 -1h1v1h-1zM158 -1h1v1h-1zM22 0h1v1h-1zM158 0h1v1h-1zM17 2h1v1h-1zM163 2h1v1h-1zM14 3h1v1h-1zM166 3h1v1h-1zM72 12h1v1h-1zM108 12h1v1h-1zM20 27h6v1h-6zM39 27h3v1h-3zM51 27h3v1h-3zM61 27h2v1h-2zM68 27h1v1h-1zM112 27h1v1h-1zM118 27h2v1h-2zM127 27h3v1h-3zM139 27h3v1h-3zM155 27h6v1h-6zM14 28h2v1h-2zM24 28h1v1h-1zM36 28h1v1h-1zM41 28h1v1h-1zM53 28h1v1h-1zM67 28h1v1h-1zM69 28h1v1h-1zM111 28h1v1h-1zM113 28h1v1h-1zM127 28h1v1h-1zM139 28h1v1h-1zM144 28h1v1h-1zM156 28h1v1h-1zM165 28h2v1h-2zM3 29h5v1h-5zM23 29h1v1h-1zM34 29h1v1h-1zM41 29h1v1h-1zM48 29h1v1h-1zM53 29h1v1h-1zM127 29h1v1h-1zM132 29h1v1h-1zM139 29h1v1h-1zM146 29h1v1h-1zM157 29h1v1h-1zM173 29h5v1h-5zM21 30h1v1h-1zM40 30h1v1h-1zM53 30h1v1h-1zM127 30h1v1h-1zM140 30h1v1h-1zM159 30h1v1h-1zM19 31h1v1h-1zM29 31h1v1h-1zM45 31h1v1h-1zM57 31h1v1h-1zM123 31h1v1h-1zM135 31h1v1h-1zM151 31h1v1h-1zM161 31h1v1h-1zM16 32h1v1h-1zM26 32h1v1h-1zM52 32h1v1h-1zM56 32h1v1h-1zM124 32h1v1h-1zM128 32h1v1h-1zM154 32h1v1h-1zM164 32h1v1h-1zM23 33h1v1h-1zM65 33h1v1h-1zM115 33h1v1h-1zM157 33h1v1h-1zM6 34h2v1h-2zM36 34h1v1h-1zM51 34h1v1h-1zM129 34h1v1h-1zM144 34h1v1h-1zM173 34h2v1h-2zM15 35h1v1h-1zM165 35h1v1h-1zM8 36h1v1h-1zM172 36h1v1h-1zM30 38h1v1h-1zM150 38h1v1h-1zM28 39h1v1h-1zM152 39h1v1h-1zM29 40h1v1h-1zM62 40h1v1h-1zM118 40h1v1h-1zM151 40h1v1h-1zM23 42h1v1h-1zM61 42h1v1h-1zM119 42h1v1h-1zM157 42h1v1h-1zM14 44h1v1h-1zM42 44h1v1h-1zM138 44h1v1h-1zM166 44h1v1h-1zM58 47h1v1h-1zM122 47h1v1h-1zM19 53h1v1h-1zM52 53h1v1h-1zM70 53h1v1h-1zM110 53h1v1h-1zM128 53h1v1h-1zM161 53h1v1h-1zM14 54h1v1h-1zM70 54h1v1h-1zM110 54h1v1h-1zM166 54h1v1h-1z"/>
<path fill="#1485d4" d="M73 -2h1v1h-1zM107 -2h1v1h-1zM73 -1h1v1h-1zM107 -1h1v1h-1zM73 0h1v1h-1zM107 0h1v1h-1zM9 4h1v1h-1zM171 4h1v1h-1zM72 13h1v1h-1zM108 13h1v1h-1zM72 14h1v1h-1zM108 14h1v1h-1zM71 26h1v1h-1zM109 26h1v1h-1zM16 28h4v1h-4zM21 28h3v1h-3zM37 28h2v1h-2zM40 28h1v1h-1zM50 28h3v1h-3zM60 28h1v1h-1zM62 28h1v1h-1zM68 28h1v1h-1zM112 28h1v1h-1zM118 28h1v1h-1zM120 28h1v1h-1zM128 28h3v1h-3zM140 28h1v1h-1zM142 28h2v1h-2zM157 28h3v1h-3zM161 28h4v1h-4zM8 29h3v1h-3zM22 29h1v1h-1zM40 29h1v1h-1zM59 29h1v1h-1zM67 29h1v1h-1zM69 29h1v1h-1zM111 29h1v1h-1zM113 29h1v1h-1zM121 29h1v1h-1zM140 29h1v1h-1zM158 29h1v1h-1zM170 29h3v1h-3zM20 30h1v1h-1zM32 30h1v1h-1zM47 30h1v1h-1zM58 30h1v1h-1zM69 30h1v1h-1zM111 30h1v1h-1zM122 30h1v1h-1zM133 30h1v1h-1zM148 30h1v1h-1zM160 30h1v1h-1zM18 31h1v1h-1zM39 31h1v1h-1zM66 31h1v1h-1zM114 31h1v1h-1zM141 31h1v1h-1zM162 31h1v1h-1zM15 32h1v1h-1zM38 32h1v1h-1zM44 32h1v1h-1zM136 32h1v1h-1zM142 32h1v1h-1zM165 32h1v1h-1zM11 33h2v1h-2zM37 33h1v1h-1zM143 33h1v1h-1zM168 33h2v1h-2zM3 34h3v1h-3zM20 34h1v1h-1zM41 34h1v1h-1zM62 34h1v1h-1zM118 34h1v1h-1zM139 34h1v1h-1zM160 34h1v1h-1zM175 34h3v1h-3zM9 36h1v1h-1zM33 36h1v1h-1zM147 36h1v1h-1zM171 36h1v1h-1zM49 37h1v1h-1zM131 37h1v1h-1zM63 38h1v1h-1zM117 38h1v1h-1zM15 43h1v1h-1zM45 43h1v1h-1zM135 43h1v1h-1zM165 43h1v1h-1zM60 44h1v1h-1zM120 44h1v1h-1zM5 45h1v1h-1zM42 45h1v1h-1zM138 45h1v1h-1zM175 45h1v1h-1zM70 55h1v1h-1zM110 55h1v1h-1zM70 56h1v1h-1zM110 56h1v1h-1zM47 71h1v1h-1zM133 71h1v1h-1z"/>
<path fill="#1389d3" d="M19 1h1v1h-1zM73 1h1v1h-1zM107 1h1v1h-1zM161 1h1v1h-1zM73 2h1v1h-1zM107 2h1v1h-1zM13 3h1v1h-1zM167 3h1v1h-1zM8 4h1v1h-1zM172 4h1v1h-1zM72 15h1v1h-1zM108 15h1v1h-1zM71 27h1v1h-1zM109 27h1v1h-1zM20 28h1v1h-1zM39 28h1v1h-1zM61 28h1v1h-1zM119 28h1v1h-1zM141 28h1v1h-1zM160 28h1v1h-1zM11 29h4v1h-4zM19 29h3v1h-3zM35 29h2v1h-2zM39 29h1v1h-1zM49 29h1v1h-1zM52 29h1v1h-1zM60 29h1v1h-1zM62 29h1v1h-1zM118 29h1v1h-1zM120 29h1v1h-1zM128 29h1v1h-1zM131 29h1v1h-1zM141 29h1v1h-1zM144 29h2v1h-2zM159 29h3v1h-3zM166 29h4v1h-4zM19 30h1v1h-1zM33 30h1v1h-1zM39 30h1v1h-1zM52 30h1v1h-1zM62 30h1v1h-1zM118 30h1v1h-1zM128 30h1v1h-1zM141 30h1v1h-1zM147 30h1v1h-1zM161 30h1v1h-1zM17 31h1v1h-1zM30 31h1v1h-1zM46 31h1v1h-1zM52 31h1v1h-1zM62 31h1v1h-1zM69 31h1v1h-1zM111 31h1v1h-1zM118 31h1v1h-1zM128 31h1v1h-1zM134 31h1v1h-1zM150 31h1v1h-1zM163 31h1v1h-1zM14 32h1v1h-1zM27 32h1v1h-1zM62 32h1v1h-1zM118 32h1v1h-1zM153 32h1v1h-1zM166 32h1v1h-1zM10 33h1v1h-1zM24 33h1v1h-1zM43 33h1v1h-1zM51 33h1v1h-1zM62 33h1v1h-1zM118 33h1v1h-1zM129 33h1v1h-1zM137 33h1v1h-1zM156 33h1v1h-1zM170 33h1v1h-1zM-2 34h5v1h-5zM178 34h5v1h-5zM16 35h1v1h-1zM50 35h1v1h-1zM54 35h1v1h-1zM126 35h1v1h-1zM130 35h1v1h-1zM164 35h1v1h-1zM10 36h1v1h-1zM38 36h1v1h-1zM53 36h1v1h-1zM64 36h1v1h-1zM116 36h1v1h-1zM127 36h1v1h-1zM142 36h1v1h-1zM170 36h1v1h-1zM36 37h1v1h-1zM52 37h1v1h-1zM128 37h1v1h-1zM144 37h1v1h-1zM34 38h1v1h-1zM48 38h1v1h-1zM51 38h1v1h-1zM61 38h1v1h-1zM119 38h1v1h-1zM129 38h1v1h-1zM132 38h1v1h-1zM146 38h1v1h-1zM19 42h1v1h-1zM161 42h1v1h-1zM8 44h1v1h-1zM172 44h1v1h-1zM6 45h1v1h-1zM174 45h1v1h-1zM37 47h1v1h-1zM143 47h1v1h-1zM54 51h1v1h-1zM126 51h1v1h-1zM25 52h1v1h-1zM155 52h1v1h-1zM12 54h1v1h-1zM168 54h1v1h-1z"/>
<path fill="#108ed2" d="M21 -2h1v1h-1zM159 -2h1v1h-1zM21 -1h1v1h-1zM159 -1h1v1h-1zM21 0h1v1h-1zM159 0h1v1h-1zM16 2h1v1h-1zM164 2h1v1h-1zM73 3h1v1h-1zM107 3h1v1h-1zM7 4h1v1h-1zM173 4h1v1h-1zM72 16h1v1h-1zM108 16h1v1h-1zM71 28h1v1h-1zM109 28h1v1h-1zM15 29h4v1h-4zM37 29h2v1h-2zM50 29h2v1h-2zM61 29h1v1h-1zM68 29h1v1h-1zM112 29h1v1h-1zM119 29h1v1h-1zM129 29h2v1h-2zM142 29h2v1h-2zM162 29h4v1h-4zM-2 30h11v1h-11zM16 30h3v1h-3zM34 30h1v1h-1zM38 30h1v1h-1zM48 30h1v1h-1zM51 30h1v1h-1zM59 30h1v1h-1zM61 30h1v1h-1zM67 30h1v1h-1zM113 30h1v1h-1zM119 30h1v1h-1zM121 30h1v1h-1zM129 30h1v1h-1zM132 30h1v1h-1zM142 30h1v1h-1zM146 30h1v1h-1zM162 30h3v1h-3zM172 30h11v1h-11zM15 31h2v1h-2zM31 31h1v1h-1zM38 31h1v1h-1zM58 31h1v1h-1zM122 31h1v1h-1zM142 31h1v1h-1zM149 31h1v1h-1zM164 31h2v1h-2zM12 32h2v1h-2zM28 32h1v1h-1zM37 32h1v1h-1zM45 32h1v1h-1zM51 32h1v1h-1zM57 32h1v1h-1zM66 32h1v1h-1zM69 32h1v1h-1zM111 32h1v1h-1zM114 32h1v1h-1zM123 32h1v1h-1zM129 32h1v1h-1zM135 32h1v1h-1zM143 32h1v1h-1zM152 32h1v1h-1zM167 32h2v1h-2zM8 33h2v1h-2zM25 33h1v1h-1zM36 33h1v1h-1zM56 33h1v1h-1zM69 33h1v1h-1zM111 33h1v1h-1zM124 33h1v1h-1zM144 33h1v1h-1zM155 33h1v1h-1zM171 33h2v1h-2zM21 34h1v1h-1zM35 34h1v1h-1zM55 34h1v1h-1zM65 34h1v1h-1zM115 34h1v1h-1zM125 34h1v1h-1zM145 34h1v1h-1zM159 34h1v1h-1zM17 35h1v1h-1zM34 35h1v1h-1zM40 35h1v1h-1zM140 35h1v1h-1zM146 35h1v1h-1zM163 35h1v1h-1zM11 36h1v1h-1zM169 36h1v1h-1zM31 37h1v1h-1zM149 37h1v1h-1zM32 39h1v1h-1zM47 39h1v1h-1zM50 39h1v1h-1zM130 39h1v1h-1zM133 39h1v1h-1zM148 39h1v1h-1zM25 40h1v1h-1zM49 40h1v1h-1zM131 40h1v1h-1zM155 40h1v1h-1zM60 41h1v1h-1zM120 41h1v1h-1zM43 43h1v1h-1zM137 43h1v1h-1zM15 44h1v1h-1zM165 44h1v1h-1zM35 48h1v1h-1zM145 48h1v1h-1zM53 52h1v1h-1zM127 52h1v1h-1zM50 55h1v1h-1zM130 55h1v1h-1zM53 68h1v1h-1zM127 68h1v1h-1zM11 75h1v1h-1zM169 75h1v1h-1z"/>
<path fill="#0c93d2" d="M12 3h1v1h-1zM168 3h1v1h-1zM6 4h1v1h-1zM73 4h1v1h-1zM107 4h1v1h-1zM174 4h1v1h-1zM73 5h1v1h-1zM107 5h1v1h-1zM72 17h1v1h-1zM108 17h1v1h-1zM71 29h1v1h-1zM109 29h1v1h-1zM9 30h7v1h-7zM35 30h3v1h-3zM49 30h2v1h-2zM60 30h1v1h-1zM68 30h1v1h-1zM112 30h1v1h-1zM120 30h1v1h-1zM130 30h2v1h-2zM143 30h3v1h-3zM165 30h7v1h-7zM11 31h4v1h-4zM32 31h1v1h-1zM36 31h2v1h-2zM47 31h1v1h-1zM51 31h1v1h-1zM59 31h1v1h-1zM61 31h1v1h-1zM67 31h1v1h-1zM113 31h1v1h-1zM119 31h1v1h-1zM121 31h1v1h-1zM129 31h1v1h-1zM133 31h1v1h-1zM143 31h2v1h-2zM148 31h1v1h-1zM166 31h4v1h-4zM10 32h2v1h-2zM29 32h1v1h-1zM36 32h1v1h-1zM144 32h1v1h-1zM151 32h1v1h-1zM169 32h2v1h-2zM4 33h4v1h-4zM26 33h1v1h-1zM44 33h1v1h-1zM136 33h1v1h-1zM154 33h1v1h-1zM173 33h4v1h-4zM22 34h1v1h-1zM42 34h1v1h-1zM50 34h1v1h-1zM69 34h1v1h-1zM111 34h1v1h-1zM130 34h1v1h-1zM138 34h1v1h-1zM158 34h1v1h-1zM18 35h1v1h-1zM69 35h1v1h-1zM111 35h1v1h-1zM162 35h1v1h-1zM12 36h1v1h-1zM32 36h1v1h-1zM49 36h1v1h-1zM61 36h1v1h-1zM119 36h1v1h-1zM131 36h1v1h-1zM148 36h1v1h-1zM168 36h1v1h-1zM61 37h1v1h-1zM119 37h1v1h-1zM29 38h1v1h-1zM151 38h1v1h-1zM27 39h1v1h-1zM153 39h1v1h-1zM46 40h1v1h-1zM134 40h1v1h-1zM22 41h1v1h-1zM27 41h1v1h-1zM45 41h1v1h-1zM135 41h1v1h-1zM153 41h1v1h-1zM158 41h1v1h-1zM24 42h1v1h-1zM44 42h1v1h-1zM136 42h1v1h-1zM156 42h1v1h-1zM14 43h1v1h-1zM20 43h1v1h-1zM160 43h1v1h-1zM166 43h1v1h-1zM7 44h1v1h-1zM173 44h1v1h-1zM7 45h1v1h-1zM173 45h1v1h-1zM57 47h1v1h-1zM123 47h1v1h-1zM27 51h1v1h-1zM153 51h1v1h-1zM29 62h2v1h-2zM150 62h2v1h-2zM45 73h1v1h-1zM135 73h1v1h-1z"/>
<path fill="#0998d1" d="M18 1h1v1h-1zM162 1h1v1h-1zM15 2h1v1h-1zM165 2h1v1h-1zM11 3h1v1h-1zM169 3h1v1h-1zM5 4h1v1h-1zM175 4h1v1h-1zM73 6h1v1h-1zM107 6h1v1h-1zM72 18h1v1h-1zM108 18h1v1h-1zM72 19h1v1h-1zM108 19h1v1h-1zM71 30h1v1h-1zM109 30h1v1h-1zM-2 31h13v1h-13zM33 31h3v1h-3zM48 31h3v1h-3zM60 31h1v1h-1zM68 31h1v1h-1zM112 31h1v1h-1zM120 31h1v1h-1zM130 31h3v1h-3zM145 31h3v1h-3zM170 31h13v1h-13zM-2 32h12v1h-12zM30 32h1v1h-1zM35 32h1v1h-1zM46 32h1v1h-1zM50 32h1v1h-1zM58 32h1v1h-1zM61 32h1v1h-1zM119 32h1v1h-1zM122 32h1v1h-1zM130 32h1v1h-1zM134 32h1v1h-1zM145 32h1v1h-1zM150 32h1v1h-1zM171 32h12v1h-12zM-2 33h6v1h-6zM27 33h1v1h-1zM35 33h1v1h-1zM50 33h1v1h-1zM57 33h1v1h-1zM61 33h1v1h-1zM66 33h1v1h-1zM114 33h1v1h-1zM119 33h1v1h-1zM123 33h1v1h-1zM130 33h1v1h-1zM145 33h1v1h-1zM153 33h1v1h-1zM177 33h6v1h-6zM23 34h1v1h-1zM34 34h1v1h-1zM61 34h1v1h-1zM119 34h1v1h-1zM146 34h1v1h-1zM157 34h1v1h-1zM19 35h1v1h-1zM33 35h1v1h-1zM49 35h1v1h-1zM61 35h1v1h-1zM65 35h1v1h-1zM115 35h1v1h-1zM119 35h1v1h-1zM131 35h1v1h-1zM147 35h1v1h-1zM161 35h1v1h-1zM13 36h1v1h-1zM39 36h1v1h-1zM69 36h1v1h-1zM111 36h1v1h-1zM141 36h1v1h-1zM167 36h1v1h-1zM-2 37h5v1h-5zM30 37h1v1h-1zM37 37h1v1h-1zM48 37h1v1h-1zM64 37h1v1h-1zM116 37h1v1h-1zM132 37h1v1h-1zM143 37h1v1h-1zM150 37h1v1h-1zM178 37h5v1h-5zM35 38h1v1h-1zM145 38h1v1h-1zM63 39h1v1h-1zM117 39h1v1h-1zM30 40h1v1h-1zM60 40h1v1h-1zM120 40h1v1h-1zM150 40h1v1h-1zM48 41h1v1h-1zM62 41h1v1h-1zM118 41h1v1h-1zM132 41h1v1h-1zM18 42h1v1h-1zM162 42h1v1h-1zM59 43h1v1h-1zM121 43h1v1h-1zM6 44h1v1h-1zM44 44h1v1h-1zM136 44h1v1h-1zM174 44h1v1h-1zM8 45h1v1h-1zM40 45h1v1h-1zM140 45h1v1h-1zM172 45h1v1h-1zM59 46h1v1h-1zM121 46h1v1h-1zM30 50h1v1h-1zM150 50h1v1h-1zM44 58h1v1h-1zM136 58h1v1h-1zM35 74h1v1h-1zM145 74h1v1h-1z"/>
<path fill="#079ccf" d="M20 -2h1v1h-1zM160 -2h1v1h-1zM20 -1h1v1h-1zM160 -1h1v1h-1zM20 0h1v1h-1zM160 0h1v1h-1zM3 4h2v1h-2zM176 4h2v1h-2zM73 7h1v1h-1zM107 7h1v1h-1zM73 8h1v1h-1zM107 8h1v1h-1zM72 20h1v1h-1zM108 20h1v1h-1zM71 31h1v1h-1zM109 31h1v1h-1zM31 32h4v1h-4zM47 32h3v1h-3zM59 32h2v1h-2zM67 32h2v1h-2zM112 32h2v1h-2zM120 32h2v1h-2zM131 32h3v1h-3zM146 32h4v1h-4zM28 33h1v1h-1zM34 33h1v1h-1zM45 33h1v1h-1zM49 33h1v1h-1zM131 33h1v1h-1zM135 33h1v1h-1zM146 33h1v1h-1zM152 33h1v1h-1zM24 34h1v1h-1zM33 34h1v1h-1zM43 34h1v1h-1zM49 34h1v1h-1zM56 34h1v1h-1zM124 34h1v1h-1zM131 34h1v1h-1zM137 34h1v1h-1zM147 34h1v1h-1zM156 34h1v1h-1zM20 35h1v1h-1zM32 35h1v1h-1zM41 35h1v1h-1zM55 35h1v1h-1zM125 35h1v1h-1zM139 35h1v1h-1zM148 35h1v1h-1zM160 35h1v1h-1zM14 36h1v1h-1zM31 36h1v1h-1zM54 36h1v1h-1zM126 36h1v1h-1zM149 36h1v1h-1zM166 36h1v1h-1zM3 37h3v1h-3zM53 37h1v1h-1zM69 37h1v1h-1zM111 37h1v1h-1zM127 37h1v1h-1zM175 37h3v1h-3zM28 38h1v1h-1zM152 38h1v1h-1zM26 39h1v1h-1zM33 39h1v1h-1zM147 39h1v1h-1zM154 39h1v1h-1zM24 40h1v1h-1zM156 40h1v1h-1zM21 41h1v1h-1zM159 41h1v1h-1zM47 42h1v1h-1zM133 42h1v1h-1zM13 43h1v1h-1zM61 43h1v1h-1zM119 43h1v1h-1zM167 43h1v1h-1zM4 44h2v1h-2zM16 44h1v1h-1zM164 44h1v1h-1zM175 44h2v1h-2zM58 45h1v1h-1zM122 45h1v1h-1zM39 47h1v1h-1zM141 47h1v1h-1zM32 50h1v1h-1zM148 50h1v1h-1zM29 51h1v1h-1zM151 51h1v1h-1zM23 63h1v1h-1zM157 63h1v1h-1zM36 74h1v1h-1zM144 74h1v1h-1z"/>
<path fill="#06a0cd" d="M17 1h1v1h-1zM163 1h1v1h-1zM14 2h1v1h-1zM166 2h1v1h-1zM10 3h1v1h-1zM170 3h1v1h-1zM-2 4h5v1h-5zM178 4h5v1h-5zM73 9h1v1h-1zM107 9h1v1h-1zM72 21h1v1h-1zM108 21h1v1h-1zM71 32h1v1h-1zM109 32h1v1h-1zM29 33h5v1h-5zM46 33h3v1h-3zM58 33h3v1h-3zM67 33h2v1h-2zM112 33h2v1h-2zM120 33h3v1h-3zM132 33h3v1h-3zM147 33h5v1h-5zM25 34h2v1h-2zM32 34h1v1h-1zM44 34h1v1h-1zM48 34h1v1h-1zM57 34h1v1h-1zM60 34h1v1h-1zM66 34h1v1h-1zM114 34h1v1h-1zM120 34h1v1h-1zM123 34h1v1h-1zM132 34h1v1h-1zM136 34h1v1h-1zM148 34h1v1h-1zM154 34h2v1h-2zM21 35h1v1h-1zM31 35h1v1h-1zM42 35h1v1h-1zM48 35h1v1h-1zM60 35h1v1h-1zM120 35h1v1h-1zM132 35h1v1h-1zM138 35h1v1h-1zM149 35h1v1h-1zM159 35h1v1h-1zM15 36h2v1h-2zM40 36h1v1h-1zM48 36h1v1h-1zM65 36h1v1h-1zM115 36h1v1h-1zM132 36h1v1h-1zM140 36h1v1h-1zM164 36h2v1h-2zM6 37h3v1h-3zM29 37h1v1h-1zM151 37h1v1h-1zM172 37h3v1h-3zM47 38h1v1h-1zM52 38h1v1h-1zM69 38h1v1h-1zM111 38h1v1h-1zM128 38h1v1h-1zM133 38h1v1h-1zM51 39h1v1h-1zM60 39h1v1h-1zM69 39h1v1h-1zM111 39h1v1h-1zM120 39h1v1h-1zM129 39h1v1h-1zM28 41h1v1h-1zM152 41h1v1h-1zM17 42h1v1h-1zM25 42h1v1h-1zM155 42h1v1h-1zM163 42h1v1h-1zM21 43h1v1h-1zM159 43h1v1h-1zM2 44h2v1h-2zM177 44h2v1h-2zM9 45h1v1h-1zM171 45h1v1h-1zM41 46h1v1h-1zM139 46h1v1h-1zM37 48h1v1h-1zM143 48h1v1h-1zM55 51h1v1h-1zM125 51h1v1h-1zM23 52h1v1h-1zM157 52h1v1h-1zM21 53h1v1h-1zM159 53h1v1h-1zM11 54h1v1h-1zM169 54h1v1h-1zM12 64h1v1h-1zM15 64h1v1h-1zM165 64h1v1h-1zM168 64h1v1h-1zM46 72h1v1h-1zM134 72h1v1h-1zM14 75h1v1h-1zM166 75h1v1h-1z"/>
<path fill="#06a4ca" d="M9 3h1v1h-1zM171 3h1v1h-1zM73 10h1v1h-1zM107 10h1v1h-1zM73 11h1v1h-1zM107 11h1v1h-1zM72 22h1v1h-1zM108 22h1v1h-1zM27 34h5v1h-5zM45 34h3v1h-3zM58 34h2v1h-2zM67 34h2v1h-2zM112 34h2v1h-2zM121 34h2v1h-2zM133 34h3v1h-3zM149 34h5v1h-5zM22 35h2v1h-2zM30 35h1v1h-1zM43 35h1v1h-1zM47 35h1v1h-1zM56 35h1v1h-1zM66 35h1v1h-1zM68 35h1v1h-1zM112 35h1v1h-1zM114 35h1v1h-1zM124 35h1v1h-1zM133 35h1v1h-1zM137 35h1v1h-1zM150 35h1v1h-1zM157 35h2v1h-2zM17 36h1v1h-1zM30 36h1v1h-1zM55 36h1v1h-1zM60 36h1v1h-1zM120 36h1v1h-1zM125 36h1v1h-1zM150 36h1v1h-1zM163 36h1v1h-1zM9 37h2v1h-2zM38 37h1v1h-1zM47 37h1v1h-1zM60 37h1v1h-1zM120 37h1v1h-1zM133 37h1v1h-1zM142 37h1v1h-1zM170 37h2v1h-2zM27 38h1v1h-1zM36 38h1v1h-1zM60 38h1v1h-1zM64 38h1v1h-1zM116 38h1v1h-1zM120 38h1v1h-1zM144 38h1v1h-1zM153 38h1v1h-1zM25 39h1v1h-1zM46 39h1v1h-1zM134 39h1v1h-1zM155 39h1v1h-1zM23 40h1v1h-1zM31 40h1v1h-1zM45 40h1v1h-1zM50 40h1v1h-1zM63 40h1v1h-1zM69 40h1v1h-1zM111 40h1v1h-1zM117 40h1v1h-1zM130 40h1v1h-1zM135 40h1v1h-1zM149 40h1v1h-1zM157 40h1v1h-1zM20 41h1v1h-1zM160 41h1v1h-1zM59 42h1v1h-1zM121 42h1v1h-1zM12 43h1v1h-1zM46 43h1v1h-1zM134 43h1v1h-1zM168 43h1v1h-1zM-2 44h4v1h-4zM17 44h1v1h-1zM41 44h1v1h-1zM139 44h1v1h-1zM163 44h1v1h-1zM179 44h4v1h-4zM10 45h1v1h-1zM60 45h1v1h-1zM120 45h1v1h-1zM170 45h1v1h-1zM38 46h1v1h-1zM142 46h1v1h-1zM56 48h1v1h-1zM124 48h1v1h-1zM56 50h1v1h-1zM124 50h1v1h-1zM54 52h1v1h-1zM126 52h1v1h-1zM18 53h1v1h-1zM162 53h1v1h-1zM15 54h1v1h-1zM165 54h1v1h-1zM69 57h1v1h-1zM111 57h1v1h-1zM66 61h1v1h-1zM114 61h1v1h-1zM65 62h1v1h-1zM115 62h1v1h-1zM10 75h1v1h-1zM170 75h1v1h-1z"/>
<path fill="#06a7c6" d="M19 -2h1v1h-1zM74 -2h1v1h-1zM106 -2h1v1h-1zM161 -2h1v1h-1zM19 -1h1v1h-1zM74 -1h1v1h-1zM106 -1h1v1h-1zM161 -1h1v1h-1zM19 0h1v1h-1zM74 0h1v1h-1zM106 0h1v1h-1zM161 0h1v1h-1zM16 1h1v1h-1zM74 1h1v1h-1zM106 1h1v1h-1zM164 1h1v1h-1zM13 2h1v1h-1zM167 2h1v1h-1zM8 3h1v1h-1zM172 3h1v1h-1zM73 12h1v1h-1zM107 12h1v1h-1zM73 13h1v1h-1zM107 13h1v1h-1zM72 23h1v1h-1zM108 23h1v1h-1zM71 33h1v1h-1zM109 33h1v1h-1zM24 35h6v1h-6zM44 35h3v1h-3zM57 35h3v1h-3zM67 35h1v1h-1zM113 35h1v1h-1zM121 35h3v1h-3zM134 35h3v1h-3zM151 35h6v1h-6zM18 36h2v1h-2zM28 36h2v1h-2zM41 36h1v1h-1zM47 36h1v1h-1zM68 36h1v1h-1zM112 36h1v1h-1zM133 36h1v1h-1zM139 36h1v1h-1zM151 36h2v1h-2zM161 36h2v1h-2zM11 37h2v1h-2zM28 37h1v1h-1zM39 37h1v1h-1zM54 37h1v1h-1zM65 37h1v1h-1zM115 37h1v1h-1zM126 37h1v1h-1zM141 37h1v1h-1zM152 37h1v1h-1zM168 37h2v1h-2zM26 38h1v1h-1zM46 38h1v1h-1zM134 38h1v1h-1zM154 38h1v1h-1zM34 39h1v1h-1zM146 39h1v1h-1zM22 40h1v1h-1zM158 40h1v1h-1zM29 41h1v1h-1zM44 41h1v1h-1zM49 41h1v1h-1zM59 41h1v1h-1zM69 41h1v1h-1zM111 41h1v1h-1zM121 41h1v1h-1zM131 41h1v1h-1zM136 41h1v1h-1zM151 41h1v1h-1zM16 42h1v1h-1zM43 42h1v1h-1zM62 42h1v1h-1zM118 42h1v1h-1zM137 42h1v1h-1zM164 42h1v1h-1zM11 43h1v1h-1zM22 43h1v1h-1zM42 43h1v1h-1zM138 43h1v1h-1zM158 43h1v1h-1zM169 43h1v1h-1zM58 44h1v1h-1zM122 44h1v1h-1zM43 45h1v1h-1zM137 45h1v1h-1zM32 49h1v1h-1zM35 49h1v1h-1zM57 49h1v1h-1zM123 49h1v1h-1zM145 49h1v1h-1zM148 49h1v1h-1zM43 58h1v1h-1zM137 58h1v1h-1zM45 72h1v1h-1zM135 72h1v1h-1z"/>
<path fill="#07a9c2" d="M12 2h1v1h-1zM74 2h1v1h-1zM106 2h1v1h-1zM168 2h1v1h-1zM7 3h1v1h-1zM74 3h1v1h-1zM106 3h1v1h-1zM173 3h1v1h-1zM73 14h1v1h-1zM107 14h1v1h-1zM73 15h1v1h-1zM107 15h1v1h-1zM72 24h1v1h-1zM108 24h1v1h-1zM72 25h1v1h-1zM108 25h1v1h-1zM71 34h1v1h-1zM109 34h1v1h-1zM20 36h8v1h-8zM42 36h5v1h-5zM56 36h4v1h-4zM66 36h2v1h-2zM113 36h2v1h-2zM121 36h4v1h-4zM134 36h5v1h-5zM153 36h8v1h-8zM13 37h3v1h-3zM26 37h2v1h-2zM40 37h1v1h-1zM46 37h1v1h-1zM59 37h1v1h-1zM68 37h1v1h-1zM112 37h1v1h-1zM121 37h1v1h-1zM134 37h1v1h-1zM140 37h1v1h-1zM153 37h2v1h-2zM165 37h3v1h-3zM-2 38h5v1h-5zM25 38h1v1h-1zM37 38h1v1h-1zM53 38h1v1h-1zM59 38h1v1h-1zM121 38h1v1h-1zM127 38h1v1h-1zM143 38h1v1h-1zM155 38h1v1h-1zM178 38h5v1h-5zM24 39h1v1h-1zM35 39h1v1h-1zM45 39h1v1h-1zM52 39h1v1h-1zM59 39h1v1h-1zM64 39h1v1h-1zM116 39h1v1h-1zM121 39h1v1h-1zM128 39h1v1h-1zM135 39h1v1h-1zM145 39h1v1h-1zM156 39h1v1h-1zM32 40h1v1h-1zM59 40h1v1h-1zM121 40h1v1h-1zM148 40h1v1h-1zM19 41h1v1h-1zM161 41h1v1h-1zM15 42h1v1h-1zM26 42h1v1h-1zM48 42h1v1h-1zM69 42h1v1h-1zM111 42h1v1h-1zM132 42h1v1h-1zM154 42h1v1h-1zM165 42h1v1h-1zM10 43h1v1h-1zM170 43h1v1h-1zM18 44h1v1h-1zM45 44h1v1h-1zM135 44h1v1h-1zM162 44h1v1h-1zM11 45h1v1h-1zM169 45h1v1h-1zM57 46h1v1h-1zM123 46h1v1h-1zM36 47h1v1h-1zM144 47h1v1h-1zM34 48h1v1h-1zM58 48h1v1h-1zM122 48h1v1h-1zM146 48h1v1h-1zM26 52h1v1h-1zM154 52h1v1h-1zM53 53h1v1h-1zM127 53h1v1h-1zM-2 55h5v1h-5zM49 55h1v1h-1zM131 55h1v1h-1zM178 55h5v1h-5zM68 59h1v1h-1zM112 59h1v1h-1zM37 60h1v1h-1zM143 60h1v1h-1zM35 61h1v1h-1zM145 61h1v1h-1zM59 66h1v1h-1zM121 66h1v1h-1z"/>
<path fill="#0aacbe" d="M18 -2h1v1h-1zM162 -2h1v1h-1zM18 -1h1v1h-1zM162 -1h1v1h-1zM18 0h1v1h-1zM162 0h1v1h-1zM15 1h1v1h-1zM165 1h1v1h-1zM5 3h2v1h-2zM174 3h2v1h-2zM74 4h1v1h-1zM106 4h1v1h-1zM74 5h1v1h-1zM106 5h1v1h-1zM73 16h1v1h-1zM107 16h1v1h-1zM72 26h1v1h-1zM108 26h1v1h-1zM71 35h1v1h-1zM109 35h1v1h-1zM71 36h1v1h-1zM109 36h1v1h-1zM16 37h4v1h-4zM24 37h2v1h-2zM41 37h1v1h-1zM44 37h2v1h-2zM55 37h2v1h-2zM58 37h1v1h-1zM66 37h1v1h-1zM114 37h1v1h-1zM122 37h1v1h-1zM124 37h2v1h-2zM135 37h2v1h-2zM139 37h1v1h-1zM155 37h2v1h-2zM161 37h4v1h-4zM3 38h6v1h-6zM24 38h1v1h-1zM38 38h1v1h-1zM45 38h1v1h-1zM54 38h1v1h-1zM65 38h1v1h-1zM68 38h1v1h-1zM112 38h1v1h-1zM115 38h1v1h-1zM126 38h1v1h-1zM135 38h1v1h-1zM142 38h1v1h-1zM156 38h1v1h-1zM172 38h6v1h-6zM23 39h1v1h-1zM157 39h1v1h-1zM21 40h1v1h-1zM33 40h1v1h-1zM44 40h1v1h-1zM51 40h1v1h-1zM129 40h1v1h-1zM136 40h1v1h-1zM147 40h1v1h-1zM159 40h1v1h-1zM18 41h1v1h-1zM30 41h1v1h-1zM63 41h1v1h-1zM117 41h1v1h-1zM150 41h1v1h-1zM162 41h1v1h-1zM14 42h1v1h-1zM166 42h1v1h-1zM8 43h2v1h-2zM23 43h1v1h-1zM58 43h1v1h-1zM69 43h1v1h-1zM111 43h1v1h-1zM122 43h1v1h-1zM157 43h1v1h-1zM171 43h2v1h-2zM61 44h1v1h-1zM69 44h1v1h-1zM111 44h1v1h-1zM119 44h1v1h-1zM12 45h1v1h-1zM39 45h1v1h-1zM141 45h1v1h-1zM168 45h1v1h-1zM55 49h1v1h-1zM125 49h1v1h-1zM29 50h1v1h-1zM151 50h1v1h-1zM26 51h1v1h-1zM154 51h1v1h-1zM10 54h1v1h-1zM170 54h1v1h-1zM3 55h1v1h-1zM177 55h1v1h-1zM25 63h1v1h-1zM65 63h1v1h-1zM115 63h1v1h-1zM155 63h1v1h-1zM11 64h1v1h-1zM169 64h1v1h-1zM58 66h1v1h-1zM122 66h1v1h-1zM44 73h1v1h-1zM136 73h1v1h-1zM9 75h1v1h-1zM15 75h1v1h-1zM165 75h1v1h-1zM171 75h1v1h-1z"/>
<path fill="#0faeb9" d="M11 2h1v1h-1zM169 2h1v1h-1zM3 3h2v1h-2zM176 3h2v1h-2zM74 6h1v1h-1zM106 6h1v1h-1zM73 17h1v1h-1zM107 17h1v1h-1zM73 18h1v1h-1zM107 18h1v1h-1zM72 27h1v1h-1zM108 27h1v1h-1zM20 37h4v1h-4zM42 37h2v1h-2zM57 37h1v1h-1zM67 37h1v1h-1zM71 37h1v1h-1zM109 37h1v1h-1zM113 37h1v1h-1zM123 37h1v1h-1zM137 37h2v1h-2zM157 37h4v1h-4zM9 38h5v1h-5zM21 38h3v1h-3zM39 38h1v1h-1zM44 38h1v1h-1zM55 38h1v1h-1zM58 38h1v1h-1zM122 38h1v1h-1zM125 38h1v1h-1zM136 38h1v1h-1zM141 38h1v1h-1zM157 38h3v1h-3zM167 38h5v1h-5zM21 39h2v1h-2zM36 39h1v1h-1zM44 39h1v1h-1zM53 39h1v1h-1zM58 39h1v1h-1zM68 39h1v1h-1zM112 39h1v1h-1zM122 39h1v1h-1zM127 39h1v1h-1zM136 39h1v1h-1zM144 39h1v1h-1zM158 39h2v1h-2zM19 40h2v1h-2zM64 40h1v1h-1zM116 40h1v1h-1zM160 40h2v1h-2zM17 41h1v1h-1zM43 41h1v1h-1zM50 41h1v1h-1zM130 41h1v1h-1zM137 41h1v1h-1zM163 41h1v1h-1zM13 42h1v1h-1zM27 42h1v1h-1zM42 42h1v1h-1zM58 42h1v1h-1zM122 42h1v1h-1zM138 42h1v1h-1zM153 42h1v1h-1zM167 42h1v1h-1zM6 43h2v1h-2zM41 43h1v1h-1zM47 43h1v1h-1zM62 43h1v1h-1zM118 43h1v1h-1zM133 43h1v1h-1zM139 43h1v1h-1zM173 43h2v1h-2zM19 44h1v1h-1zM40 44h1v1h-1zM140 44h1v1h-1zM161 44h1v1h-1zM13 45h1v1h-1zM57 45h1v1h-1zM69 45h1v1h-1zM111 45h1v1h-1zM123 45h1v1h-1zM167 45h1v1h-1zM37 46h1v1h-1zM42 46h1v1h-1zM138 46h1v1h-1zM143 46h1v1h-1zM40 47h1v1h-1zM59 47h1v1h-1zM121 47h1v1h-1zM140 47h1v1h-1zM38 48h1v1h-1zM142 48h1v1h-1zM33 50h1v1h-1zM147 50h1v1h-1zM30 51h1v1h-1zM150 51h1v1h-1zM22 52h1v1h-1zM158 52h1v1h-1zM22 53h1v1h-1zM158 53h1v1h-1zM16 54h1v1h-1zM164 54h1v1h-1zM4 55h1v1h-1zM176 55h1v1h-1zM68 58h1v1h-1zM112 58h1v1h-1zM40 59h1v1h-1zM140 59h1v1h-1zM16 64h1v1h-1zM164 64h1v1h-1zM48 71h1v1h-1zM132 71h1v1h-1z"/>
<path fill="#15b1b4" d="M17 -2h1v1h-1zM163 -2h1v1h-1zM17 -1h1v1h-1zM163 -1h1v1h-1zM17 0h1v1h-1zM163 0h1v1h-1zM14 1h1v1h-1zM166 1h1v1h-1zM10 2h1v1h-1zM170 2h1v1h-1zM-2 3h5v1h-5zM178 3h5v1h-5zM74 7h1v1h-1zM106 7h1v1h-1zM74 8h1v1h-1zM106 8h1v1h-1zM73 19h1v1h-1zM107 19h1v1h-1zM72 28h1v1h-1zM108 28h1v1h-1zM14 38h7v1h-7zM40 38h4v1h-4zM56 38h2v1h-2zM66 38h2v1h-2zM71 38h1v1h-1zM109 38h1v1h-1zM113 38h2v1h-2zM123 38h2v1h-2zM137 38h4v1h-4zM160 38h7v1h-7zM-2 39h4v1h-4zM18 39h3v1h-3zM37 39h2v1h-2zM43 39h1v1h-1zM54 39h1v1h-1zM65 39h1v1h-1zM71 39h1v1h-1zM109 39h1v1h-1zM115 39h1v1h-1zM126 39h1v1h-1zM137 39h1v1h-1zM142 39h2v1h-2zM160 39h3v1h-3zM179 39h4v1h-4zM18 40h1v1h-1zM34 40h1v1h-1zM43 40h1v1h-1zM52 40h1v1h-1zM58 40h1v1h-1zM68 40h1v1h-1zM112 40h1v1h-1zM122 40h1v1h-1zM128 40h1v1h-1zM137 40h1v1h-1zM146 40h1v1h-1zM162 40h1v1h-1zM15 41h2v1h-2zM31 41h1v1h-1zM42 41h1v1h-1zM58 41h1v1h-1zM122 41h1v1h-1zM138 41h1v1h-1zM149 41h1v1h-1zM164 41h2v1h-2zM11 42h2v1h-2zM28 42h1v1h-1zM49 42h1v1h-1zM63 42h1v1h-1zM117 42h1v1h-1zM131 42h1v1h-1zM152 42h1v1h-1zM168 42h2v1h-2zM-2 43h8v1h-8zM24 43h1v1h-1zM156 43h1v1h-1zM175 43h8v1h-8zM20 44h1v1h-1zM160 44h1v1h-1zM14 45h1v1h-1zM44 45h1v1h-1zM136 45h1v1h-1zM166 45h1v1h-1zM-2 46h3v1h-3zM60 46h1v1h-1zM69 46h1v1h-1zM111 46h1v1h-1zM120 46h1v1h-1zM180 46h3v1h-3zM56 47h1v1h-1zM69 47h1v1h-1zM111 47h1v1h-1zM124 47h1v1h-1zM31 49h1v1h-1zM149 49h1v1h-1zM54 50h1v1h-1zM126 50h1v1h-1zM17 53h1v1h-1zM163 53h1v1h-1zM9 54h1v1h-1zM52 54h1v1h-1zM128 54h1v1h-1zM171 54h1v1h-1zM5 55h1v1h-1zM175 55h1v1h-1zM49 56h1v1h-1zM131 56h1v1h-1zM47 57h1v1h-1zM133 57h1v1h-1zM33 61h1v1h-1zM147 61h1v1h-1zM54 68h1v1h-1zM126 68h1v1h-1zM8 75h1v1h-1zM172 75h1v1h-1z"/>
<path fill="#1db3af" d="M16 -2h1v1h-1zM164 -2h1v1h-1zM16 -1h1v1h-1zM164 -1h1v1h-1zM16 0h1v1h-1zM164 0h1v1h-1zM13 1h1v1h-1zM167 1h1v1h-1zM9 2h1v1h-1zM171 2h1v1h-1zM74 9h1v1h-1zM106 9h1v1h-1zM74 10h1v1h-1zM106 10h1v1h-1zM73 20h1v1h-1zM107 20h1v1h-1zM72 29h1v1h-1zM108 29h1v1h-1zM72 30h1v1h-1zM108 30h1v1h-1zM2 39h16v1h-16zM39 39h4v1h-4zM55 39h3v1h-3zM66 39h2v1h-2zM113 39h2v1h-2zM123 39h3v1h-3zM138 39h4v1h-4zM163 39h16v1h-16zM15 40h3v1h-3zM35 40h2v1h-2zM42 40h1v1h-1zM53 40h1v1h-1zM57 40h1v1h-1zM65 40h1v1h-1zM71 40h1v1h-1zM109 40h1v1h-1zM115 40h1v1h-1zM123 40h1v1h-1zM127 40h1v1h-1zM138 40h1v1h-1zM144 40h2v1h-2zM163 40h3v1h-3zM13 41h2v1h-2zM32 41h1v1h-1zM51 41h1v1h-1zM64 41h1v1h-1zM68 41h1v1h-1zM71 41h1v1h-1zM109 41h1v1h-1zM112 41h1v1h-1zM116 41h1v1h-1zM129 41h1v1h-1zM148 41h1v1h-1zM166 41h2v1h-2zM9 42h2v1h-2zM29 42h1v1h-1zM41 42h1v1h-1zM139 42h1v1h-1zM151 42h1v1h-1zM170 42h2v1h-2zM25 43h1v1h-1zM40 43h1v1h-1zM140 43h1v1h-1zM155 43h1v1h-1zM21 44h1v1h-1zM39 44h1v1h-1zM46 44h1v1h-1zM57 44h1v1h-1zM123 44h1v1h-1zM134 44h1v1h-1zM141 44h1v1h-1zM159 44h1v1h-1zM15 45h1v1h-1zM38 45h1v1h-1zM61 45h1v1h-1zM119 45h1v1h-1zM142 45h1v1h-1zM165 45h1v1h-1zM1 46h5v1h-5zM175 46h5v1h-5zM35 47h1v1h-1zM145 47h1v1h-1zM33 48h1v1h-1zM69 48h1v1h-1zM111 48h1v1h-1zM147 48h1v1h-1zM36 49h1v1h-1zM144 49h1v1h-1zM53 51h1v1h-1zM127 51h1v1h-1zM8 54h1v1h-1zM50 54h1v1h-1zM130 54h1v1h-1zM172 54h1v1h-1zM6 55h1v1h-1zM174 55h1v1h-1zM42 59h1v1h-1zM138 59h1v1h-1zM39 60h1v1h-1zM141 60h1v1h-1zM28 62h1v1h-1zM31 62h1v1h-1zM149 62h1v1h-1zM152 62h1v1h-1zM22 63h1v1h-1zM158 63h1v1h-1zM10 64h1v1h-1zM170 64h1v1h-1zM7 75h1v1h-1zM173 75h1v1h-1z"/>
<path fill="#25b5a9" d="M75 -2h1v1h-1zM105 -2h1v1h-1zM75 -1h1v1h-1zM105 -1h1v1h-1zM75 0h1v1h-1zM105 0h1v1h-1zM12 1h1v1h-1zM75 1h1v1h-1zM105 1h1v1h-1zM168 1h1v1h-1zM7 2h2v1h-2zM172 2h2v1h-2zM74 11h1v1h-1zM106 11h1v1h-1zM74 12h1v1h-1zM106 12h1v1h-1zM73 21h1v1h-1zM107 21h1v1h-1zM73 22h1v1h-1zM107 22h1v1h-1zM72 31h1v1h-1zM108 31h1v1h-1zM-2 40h17v1h-17zM37 40h5v1h-5zM54 40h3v1h-3zM66 40h2v1h-2zM113 40h2v1h-2zM124 40h3v1h-3zM139 40h5v1h-5zM166 40h17v1h-17zM9 41h4v1h-4zM33 41h1v1h-1zM41 41h1v1h-1zM52 41h1v1h-1zM57 41h1v1h-1zM123 41h1v1h-1zM128 41h1v1h-1zM139 41h1v1h-1zM147 41h1v1h-1zM168 41h4v1h-4zM3 42h6v1h-6zM30 42h1v1h-1zM40 42h1v1h-1zM50 42h1v1h-1zM57 42h1v1h-1zM68 42h1v1h-1zM71 42h1v1h-1zM109 42h1v1h-1zM112 42h1v1h-1zM123 42h1v1h-1zM130 42h1v1h-1zM140 42h1v1h-1zM150 42h1v1h-1zM172 42h6v1h-6zM26 43h1v1h-1zM48 43h1v1h-1zM57 43h1v1h-1zM123 43h1v1h-1zM132 43h1v1h-1zM154 43h1v1h-1zM62 44h1v1h-1zM118 44h1v1h-1zM16 45h1v1h-1zM164 45h1v1h-1zM6 46h2v1h-2zM36 46h1v1h-1zM43 46h1v1h-1zM56 46h1v1h-1zM124 46h1v1h-1zM137 46h1v1h-1zM144 46h1v1h-1zM173 46h2v1h-2zM41 47h1v1h-1zM139 47h1v1h-1zM55 48h1v1h-1zM125 48h1v1h-1zM69 49h1v1h-1zM111 49h1v1h-1zM28 50h1v1h-1zM69 50h1v1h-1zM111 50h1v1h-1zM152 50h1v1h-1zM25 51h1v1h-1zM155 51h1v1h-1zM21 52h1v1h-1zM27 52h1v1h-1zM52 52h1v1h-1zM128 52h1v1h-1zM153 52h1v1h-1zM159 52h1v1h-1zM16 53h1v1h-1zM51 53h1v1h-1zM129 53h1v1h-1zM164 53h1v1h-1zM7 54h1v1h-1zM17 54h1v1h-1zM163 54h1v1h-1zM173 54h1v1h-1zM7 55h1v1h-1zM173 55h1v1h-1zM45 57h1v1h-1zM135 57h1v1h-1zM69 58h1v1h-1zM111 58h1v1h-1zM64 63h1v1h-1zM116 63h1v1h-1zM50 69h1v1h-1zM52 69h1v1h-1zM128 69h1v1h-1zM130 69h1v1h-1zM48 70h1v1h-1zM50 70h1v1h-1zM130 70h1v1h-1zM132 70h1v1h-1zM34 74h1v1h-1zM146 74h1v1h-1zM6 75h1v1h-1zM16 75h1v1h-1zM164 75h1v1h-1zM174 75h1v1h-1z"/>
<path fill="#2eb7a4" d="M15 -2h1v1h-1zM165 -2h1v1h-1zM15 -1h1v1h-1zM165 -1h1v1h-1zM15 0h1v1h-1zM165 0h1v1h-1zM6 2h1v1h-1zM75 2h1v1h-1zM105 2h1v1h-1zM174 2h1v1h-1zM75 3h1v1h-1zM105 3h1v1h-1zM74 13h1v1h-1zM106 13h1v1h-1zM74 14h1v1h-1zM106 14h1v1h-1zM73 23h1v1h-1zM107 23h1v1h-1zM72 32h1v1h-1zM108 32h1v1h-1zM-2 41h11v1h-11zM34 41h7v1h-7zM53 41h4v1h-4zM65 41h3v1h-3zM113 41h3v1h-3zM124 41h4v1h-4zM140 41h7v1h-7zM172 41h11v1h-11zM-2 42h5v1h-5zM31 42h1v1h-1zM39 42h1v1h-1zM51 42h1v1h-1zM56 42h1v1h-1zM64 42h1v1h-1zM116 42h1v1h-1zM124 42h1v1h-1zM129 42h1v1h-1zM141 42h1v1h-1zM149 42h1v1h-1zM178 42h5v1h-5zM27 43h1v1h-1zM39 43h1v1h-1zM49 43h1v1h-1zM63 43h1v1h-1zM68 43h1v1h-1zM71 43h1v1h-1zM109 43h1v1h-1zM112 43h1v1h-1zM117 43h1v1h-1zM131 43h1v1h-1zM141 43h1v1h-1zM153 43h1v1h-1zM22 44h2v1h-2zM38 44h1v1h-1zM47 44h1v1h-1zM56 44h1v1h-1zM71 44h1v1h-1zM109 44h1v1h-1zM124 44h1v1h-1zM133 44h1v1h-1zM142 44h1v1h-1zM157 44h2v1h-2zM17 45h1v1h-1zM37 45h1v1h-1zM45 45h1v1h-1zM56 45h1v1h-1zM124 45h1v1h-1zM135 45h1v1h-1zM143 45h1v1h-1zM163 45h1v1h-1zM8 46h2v1h-2zM171 46h2v1h-2zM34 47h1v1h-1zM146 47h1v1h-1zM39 48h1v1h-1zM59 48h1v1h-1zM121 48h1v1h-1zM141 48h1v1h-1zM30 49h1v1h-1zM58 49h1v1h-1zM122 49h1v1h-1zM150 49h1v1h-1zM34 50h1v1h-1zM57 50h1v1h-1zM123 50h1v1h-1zM146 50h1v1h-1zM31 51h1v1h-1zM56 51h1v1h-1zM69 51h1v1h-1zM111 51h1v1h-1zM124 51h1v1h-1zM149 51h1v1h-1zM23 53h1v1h-1zM157 53h1v1h-1zM6 54h1v1h-1zM174 54h1v1h-1zM8 55h1v1h-1zM51 55h1v1h-1zM129 55h1v1h-1zM172 55h1v1h-1zM47 56h1v1h-1zM133 56h1v1h-1zM67 59h1v1h-1zM113 59h1v1h-1zM66 62h1v1h-1zM114 62h1v1h-1zM9 64h1v1h-1zM17 64h1v1h-1zM163 64h1v1h-1zM171 64h1v1h-1zM57 67h1v1h-1zM123 67h1v1h-1zM46 71h1v1h-1zM134 71h1v1h-1zM37 74h1v1h-1zM143 74h1v1h-1zM5 75h1v1h-1zM175 75h1v1h-1z"/>
<path fill="#38b99e" d="M14 -2h1v1h-1zM166 -2h1v1h-1zM14 -1h1v1h-1zM166 -1h1v1h-1zM14 0h1v1h-1zM166 0h1v1h-1zM11 1h1v1h-1zM169 1h1v1h-1zM3 2h3v1h-3zM175 2h3v1h-3zM75 4h1v1h-1zM105 4h1v1h-1zM75 5h1v1h-1zM105 5h1v1h-1zM74 15h1v1h-1zM106 15h1v1h-1zM74 16h1v1h-1zM106 16h1v1h-1zM73 24h1v1h-1zM107 24h1v1h-1zM73 25h1v1h-1zM107 25h1v1h-1zM72 33h1v1h-1zM108 33h1v1h-1zM32 42h2v1h-2zM37 42h2v1h-2zM52 42h1v1h-1zM55 42h1v1h-1zM65 42h1v1h-1zM67 42h1v1h-1zM113 42h1v1h-1zM115 42h1v1h-1zM125 42h1v1h-1zM128 42h1v1h-1zM142 42h2v1h-2zM147 42h2v1h-2zM28 43h1v1h-1zM38 43h1v1h-1zM56 43h1v1h-1zM124 43h1v1h-1zM142 43h1v1h-1zM152 43h1v1h-1zM24 44h1v1h-1zM37 44h1v1h-1zM68 44h1v1h-1zM112 44h1v1h-1zM143 44h1v1h-1zM156 44h1v1h-1zM18 45h1v1h-1zM36 45h1v1h-1zM62 45h1v1h-1zM71 45h1v1h-1zM109 45h1v1h-1zM118 45h1v1h-1zM144 45h1v1h-1zM162 45h1v1h-1zM10 46h2v1h-2zM35 46h1v1h-1zM61 46h1v1h-1zM71 46h1v1h-1zM109 46h1v1h-1zM119 46h1v1h-1zM145 46h1v1h-1zM169 46h2v1h-2zM55 47h1v1h-1zM60 47h1v1h-1zM120 47h1v1h-1zM125 47h1v1h-1zM32 48h1v1h-1zM148 48h1v1h-1zM37 49h1v1h-1zM54 49h1v1h-1zM126 49h1v1h-1zM143 49h1v1h-1zM27 50h1v1h-1zM153 50h1v1h-1zM24 51h1v1h-1zM156 51h1v1h-1zM55 52h1v1h-1zM69 52h1v1h-1zM111 52h1v1h-1zM125 52h1v1h-1zM15 53h1v1h-1zM69 53h1v1h-1zM111 53h1v1h-1zM165 53h1v1h-1zM5 54h1v1h-1zM18 54h1v1h-1zM162 54h1v1h-1zM175 54h1v1h-1zM45 58h1v1h-1zM135 58h1v1h-1zM36 60h1v1h-1zM144 60h1v1h-1zM36 61h1v1h-1zM67 61h1v1h-1zM113 61h1v1h-1zM144 61h1v1h-1zM26 63h1v1h-1zM154 63h1v1h-1zM8 64h1v1h-1zM172 64h1v1h-1zM62 65h1v1h-1zM118 65h1v1h-1zM55 67h1v1h-1zM125 67h1v1h-1zM52 68h1v1h-1zM128 68h1v1h-1zM3 75h2v1h-2zM17 75h1v1h-1zM163 75h1v1h-1zM176 75h2v1h-2z"/>
<path fill="#42bb98" d="M9 1h2v1h-2zM170 1h2v1h-2zM-2 2h5v1h-5zM178 2h5v1h-5zM75 6h1v1h-1zM105 6h1v1h-1zM75 7h1v1h-1zM105 7h1v1h-1zM74 17h1v1h-1zM106 17h1v1h-1zM74 18h1v1h-1zM106 18h1v1h-1zM73 26h1v1h-1zM107 26h1v1h-1zM73 27h1v1h-1zM107 27h1v1h-1zM72 34h1v1h-1zM108 34h1v1h-1zM72 35h1v1h-1zM108 35h1v1h-1zM34 42h3v1h-3zM53 42h2v1h-2zM66 42h1v1h-1zM114 42h1v1h-1zM126 42h2v1h-2zM144 42h3v1h-3zM29 43h3v1h-3zM36 43h2v1h-2zM50 43h2v1h-2zM55 43h1v1h-1zM64 43h1v1h-1zM67 43h1v1h-1zM113 43h1v1h-1zM116 43h1v1h-1zM125 43h1v1h-1zM129 43h2v1h-2zM143 43h2v1h-2zM149 43h3v1h-3zM25 44h1v1h-1zM36 44h1v1h-1zM48 44h1v1h-1zM55 44h1v1h-1zM63 44h1v1h-1zM117 44h1v1h-1zM125 44h1v1h-1zM132 44h1v1h-1zM144 44h1v1h-1zM155 44h1v1h-1zM19 45h2v1h-2zM46 45h1v1h-1zM55 45h1v1h-1zM68 45h1v1h-1zM112 45h1v1h-1zM125 45h1v1h-1zM134 45h1v1h-1zM160 45h2v1h-2zM12 46h2v1h-2zM44 46h1v1h-1zM55 46h1v1h-1zM125 46h1v1h-1zM136 46h1v1h-1zM167 46h2v1h-2zM33 47h1v1h-1zM42 47h1v1h-1zM71 47h1v1h-1zM109 47h1v1h-1zM138 47h1v1h-1zM147 47h1v1h-1zM31 48h1v1h-1zM40 48h1v1h-1zM54 48h1v1h-1zM71 48h1v1h-1zM109 48h1v1h-1zM126 48h1v1h-1zM140 48h1v1h-1zM149 48h1v1h-1zM29 49h1v1h-1zM151 49h1v1h-1zM53 50h1v1h-1zM127 50h1v1h-1zM20 52h1v1h-1zM28 52h1v1h-1zM152 52h1v1h-1zM160 52h1v1h-1zM24 53h1v1h-1zM54 53h1v1h-1zM126 53h1v1h-1zM156 53h1v1h-1zM1 54h4v1h-4zM69 54h1v1h-1zM111 54h1v1h-1zM176 54h4v1h-4zM9 55h1v1h-1zM69 55h1v1h-1zM111 55h1v1h-1zM171 55h1v1h-1zM70 57h1v1h-1zM110 57h1v1h-1zM42 58h1v1h-1zM138 58h1v1h-1zM21 63h1v1h-1zM159 63h1v1h-1zM7 64h1v1h-1zM18 64h1v1h-1zM162 64h1v1h-1zM173 64h1v1h-1zM47 72h1v1h-1zM133 72h1v1h-1zM46 73h1v1h-1zM134 73h1v1h-1zM-2 75h5v1h-5zM178 75h5v1h-5z"/>
<path fill="#4dbc92" d="M13 -2h1v1h-1zM167 -2h1v1h-1zM13 -1h1v1h-1zM167 -1h1v1h-1zM13 0h1v1h-1zM167 0h1v1h-1zM8 1h1v1h-1zM172 1h1v1h-1zM75 8h1v1h-1zM105 8h1v1h-1zM75 9h1v1h-1zM105 9h1v1h-1zM74 19h1v1h-1zM106 19h1v1h-1zM73 28h1v1h-1zM107 28h1v1h-1zM72 36h1v1h-1zM108 36h1v1h-1zM32 43h4v1h-4zM52 43h3v1h-3zM65 43h2v1h-2zM114 43h2v1h-2zM126 43h3v1h-3zM145 43h4v1h-4zM26 44h2v1h-2zM35 44h1v1h-1zM49 44h1v1h-1zM54 44h1v1h-1zM64 44h1v1h-1zM67 44h1v1h-1zM113 44h1v1h-1zM116 44h1v1h-1zM126 44h1v1h-1zM131 44h1v1h-1zM145 44h1v1h-1zM153 44h2v1h-2zM21 45h2v1h-2zM35 45h1v1h-1zM47 45h1v1h-1zM63 45h1v1h-1zM117 45h1v1h-1zM133 45h1v1h-1zM145 45h1v1h-1zM158 45h2v1h-2zM14 46h2v1h-2zM34 46h1v1h-1zM45 46h1v1h-1zM68 46h1v1h-1zM112 46h1v1h-1zM135 46h1v1h-1zM146 46h1v1h-1zM165 46h2v1h-2zM32 47h1v1h-1zM54 47h1v1h-1zM68 47h1v1h-1zM112 47h1v1h-1zM126 47h1v1h-1zM148 47h1v1h-1zM38 49h1v1h-1zM71 49h1v1h-1zM109 49h1v1h-1zM142 49h1v1h-1zM26 50h1v1h-1zM35 50h1v1h-1zM71 50h1v1h-1zM109 50h1v1h-1zM145 50h1v1h-1zM154 50h1v1h-1zM23 51h1v1h-1zM32 51h1v1h-1zM52 51h1v1h-1zM128 51h1v1h-1zM148 51h1v1h-1zM157 51h1v1h-1zM19 52h1v1h-1zM161 52h1v1h-1zM14 53h1v1h-1zM166 53h1v1h-1zM-2 54h3v1h-3zM19 54h1v1h-1zM161 54h1v1h-1zM180 54h3v1h-3zM10 55h1v1h-1zM48 55h1v1h-1zM132 55h1v1h-1zM170 55h1v1h-1zM69 56h1v1h-1zM111 56h1v1h-1zM39 59h1v1h-1zM141 59h1v1h-1zM66 60h1v1h-1zM114 60h1v1h-1zM32 61h1v1h-1zM148 61h1v1h-1zM27 62h1v1h-1zM32 62h1v1h-1zM148 62h1v1h-1zM153 62h1v1h-1zM6 64h1v1h-1zM62 64h1v1h-1zM64 64h1v1h-1zM116 64h1v1h-1zM118 64h1v1h-1zM174 64h1v1h-1zM60 65h1v1h-1zM120 65h1v1h-1zM44 72h1v1h-1zM136 72h1v1h-1zM18 75h1v1h-1zM162 75h1v1h-1z"/>
<path fill="#59bd8c" d="M12 -2h1v1h-1zM76 -2h1v1h-1zM104 -2h1v1h-1zM168 -2h1v1h-1zM12 -1h1v1h-1zM76 -1h1v1h-1zM104 -1h1v1h-1zM168 -1h1v1h-1zM12 0h1v1h-1zM76 0h1v1h-1zM104 0h1v1h-1zM168 0h1v1h-1zM6 1h2v1h-2zM173 1h2v1h-2zM75 10h1v1h-1zM105 10h1v1h-1zM75 11h1v1h-1zM105 11h1v1h-1zM75 12h1v1h-1zM105 12h1v1h-1zM74 20h1v1h-1zM106 20h1v1h-1zM74 21h1v1h-1zM106 21h1v1h-1zM73 29h1v1h-1zM107 29h1v1h-1zM73 30h1v1h-1zM107 30h1v1h-1zM72 37h1v1h-1zM108 37h1v1h-1zM72 38h1v1h-1zM108 38h1v1h-1zM28 44h7v1h-7zM50 44h4v1h-4zM65 44h2v1h-2zM114 44h2v1h-2zM127 44h4v1h-4zM146 44h7v1h-7zM23 45h2v1h-2zM33 45h2v1h-2zM48 45h1v1h-1zM54 45h1v1h-1zM67 45h1v1h-1zM113 45h1v1h-1zM126 45h1v1h-1zM132 45h1v1h-1zM146 45h2v1h-2zM156 45h2v1h-2zM16 46h2v1h-2zM33 46h1v1h-1zM46 46h1v1h-1zM54 46h1v1h-1zM62 46h1v1h-1zM118 46h1v1h-1zM126 46h1v1h-1zM134 46h1v1h-1zM147 46h1v1h-1zM163 46h2v1h-2zM-2 47h9v1h-9zM31 47h1v1h-1zM43 47h1v1h-1zM61 47h1v1h-1zM119 47h1v1h-1zM137 47h1v1h-1zM149 47h1v1h-1zM174 47h9v1h-9zM30 48h1v1h-1zM41 48h1v1h-1zM60 48h1v1h-1zM68 48h1v1h-1zM112 48h1v1h-1zM120 48h1v1h-1zM139 48h1v1h-1zM150 48h1v1h-1zM28 49h1v1h-1zM53 49h1v1h-1zM59 49h1v1h-1zM121 49h1v1h-1zM127 49h1v1h-1zM152 49h1v1h-1zM58 50h1v1h-1zM122 50h1v1h-1zM57 51h1v1h-1zM71 51h1v1h-1zM109 51h1v1h-1zM123 51h1v1h-1zM29 52h1v1h-1zM51 52h1v1h-1zM71 52h1v1h-1zM109 52h1v1h-1zM129 52h1v1h-1zM151 52h1v1h-1zM13 53h1v1h-1zM25 53h1v1h-1zM50 53h1v1h-1zM130 53h1v1h-1zM155 53h1v1h-1zM167 53h1v1h-1zM49 54h1v1h-1zM53 54h1v1h-1zM127 54h1v1h-1zM131 54h1v1h-1zM11 55h1v1h-1zM169 55h1v1h-1zM50 56h1v1h-1zM130 56h1v1h-1zM48 57h1v1h-1zM132 57h1v1h-1zM43 59h1v1h-1zM137 59h1v1h-1zM40 60h1v1h-1zM140 60h1v1h-1zM20 63h1v1h-1zM27 63h1v1h-1zM153 63h1v1h-1zM160 63h1v1h-1zM4 64h2v1h-2zM175 64h2v1h-2zM49 71h1v1h-1zM131 71h1v1h-1zM43 73h1v1h-1zM137 73h1v1h-1zM33 74h1v1h-1zM147 74h1v1h-1z"/>
<path fill="#65be86" d="M11 -2h1v1h-1zM169 -2h1v1h-1zM11 -1h1v1h-1zM169 -1h1v1h-1zM11 0h1v1h-1zM169 0h1v1h-1zM4 1h2v1h-2zM76 1h1v1h-1zM104 1h1v1h-1zM175 1h2v1h-2zM76 2h1v1h-1zM104 2h1v1h-1zM76 3h1v1h-1zM104 3h1v1h-1zM75 13h1v1h-1zM105 13h1v1h-1zM75 14h1v1h-1zM105 14h1v1h-1zM74 22h1v1h-1zM106 22h1v1h-1zM74 23h1v1h-1zM106 23h1v1h-1zM73 31h1v1h-1zM107 31h1v1h-1zM72 39h1v1h-1zM108 39h1v1h-1zM72 40h1v1h-1zM108 40h1v1h-1zM25 45h8v1h-8zM49 45h5v1h-5zM64 45h3v1h-3zM114 45h3v1h-3zM127 45h5v1h-5zM148 45h8v1h-8zM18 46h3v1h-3zM31 46h2v1h-2zM47 46h1v1h-1zM53 46h1v1h-1zM63 46h1v1h-1zM67 46h1v1h-1zM113 46h1v1h-1zM117 46h1v1h-1zM127 46h1v1h-1zM133 46h1v1h-1zM148 46h2v1h-2zM160 46h3v1h-3zM7 47h4v1h-4zM30 47h1v1h-1zM44 47h1v1h-1zM53 47h1v1h-1zM127 47h1v1h-1zM136 47h1v1h-1zM150 47h1v1h-1zM170 47h4v1h-4zM29 48h1v1h-1zM53 48h1v1h-1zM127 48h1v1h-1zM151 48h1v1h-1zM27 49h1v1h-1zM39 49h1v1h-1zM68 49h1v1h-1zM112 49h1v1h-1zM141 49h1v1h-1zM153 49h1v1h-1zM25 50h1v1h-1zM36 50h1v1h-1zM52 50h1v1h-1zM128 50h1v1h-1zM144 50h1v1h-1zM155 50h1v1h-1zM22 51h1v1h-1zM33 51h1v1h-1zM147 51h1v1h-1zM158 51h1v1h-1zM18 52h1v1h-1zM56 52h1v1h-1zM124 52h1v1h-1zM162 52h1v1h-1zM12 53h1v1h-1zM71 53h1v1h-1zM109 53h1v1h-1zM168 53h1v1h-1zM20 54h1v1h-1zM71 54h1v1h-1zM109 54h1v1h-1zM160 54h1v1h-1zM12 55h1v1h-1zM168 55h1v1h-1zM46 56h1v1h-1zM134 56h1v1h-1zM44 57h1v1h-1zM136 57h1v1h-1zM35 60h1v1h-1zM68 60h1v1h-1zM112 60h1v1h-1zM145 60h1v1h-1zM26 62h1v1h-1zM64 62h1v1h-1zM116 62h1v1h-1zM154 62h1v1h-1zM-2 64h6v1h-6zM19 64h1v1h-1zM161 64h1v1h-1zM177 64h6v1h-6zM57 66h1v1h-1zM60 66h1v1h-1zM120 66h1v1h-1zM123 66h1v1h-1zM55 68h1v1h-1zM125 68h1v1h-1zM49 69h1v1h-1zM131 69h1v1h-1zM47 70h1v1h-1zM51 70h1v1h-1zM129 70h1v1h-1zM133 70h1v1h-1zM38 74h1v1h-1zM142 74h1v1h-1zM19 75h1v1h-1zM161 75h1v1h-1z"/>
<path fill="#71bf80" d="M9 -2h2v1h-2zM170 -2h2v1h-2zM9 -1h2v1h-2zM170 -1h2v1h-2zM9 0h2v1h-2zM170 0h2v1h-2zM-2 1h6v1h-6zM177 1h6v1h-6zM76 4h1v1h-1zM104 4h1v1h-1zM76 5h1v1h-1zM104 5h1v1h-1zM75 15h1v1h-1zM105 15h1v1h-1zM75 16h1v1h-1zM105 16h1v1h-1zM74 24h1v1h-1zM106 24h1v1h-1zM74 25h1v1h-1zM106 25h1v1h-1zM73 32h1v1h-1zM107 32h1v1h-1zM73 33h1v1h-1zM107 33h1v1h-1zM72 41h1v1h-1zM108 41h1v1h-1zM72 42h1v1h-1zM108 42h1v1h-1zM21 46h10v1h-10zM48 46h5v1h-5zM64 46h3v1h-3zM114 46h3v1h-3zM128 46h5v1h-5zM150 46h10v1h-10zM11 47h4v1h-4zM29 47h1v1h-1zM45 47h1v1h-1zM52 47h1v1h-1zM62 47h1v1h-1zM67 47h1v1h-1zM113 47h1v1h-1zM118 47h1v1h-1zM128 47h1v1h-1zM135 47h1v1h-1zM151 47h1v1h-1zM166 47h4v1h-4zM28 48h1v1h-1zM42 48h1v1h-1zM52 48h1v1h-1zM61 48h1v1h-1zM119 48h1v1h-1zM128 48h1v1h-1zM138 48h1v1h-1zM152 48h1v1h-1zM26 49h1v1h-1zM40 49h1v1h-1zM52 49h1v1h-1zM60 49h1v1h-1zM120 49h1v1h-1zM128 49h1v1h-1zM140 49h1v1h-1zM154 49h1v1h-1zM24 50h1v1h-1zM37 50h1v1h-1zM68 50h1v1h-1zM112 50h1v1h-1zM143 50h1v1h-1zM156 50h1v1h-1zM21 51h1v1h-1zM51 51h1v1h-1zM68 51h1v1h-1zM112 51h1v1h-1zM129 51h1v1h-1zM159 51h1v1h-1zM17 52h1v1h-1zM30 52h1v1h-1zM150 52h1v1h-1zM163 52h1v1h-1zM10 53h2v1h-2zM26 53h1v1h-1zM55 53h1v1h-1zM125 53h1v1h-1zM154 53h1v1h-1zM169 53h2v1h-2zM13 55h1v1h-1zM52 55h1v1h-1zM71 55h1v1h-1zM109 55h1v1h-1zM128 55h1v1h-1zM167 55h1v1h-1zM71 56h1v1h-1zM109 56h1v1h-1zM68 57h1v1h-1zM112 57h1v1h-1zM41 58h1v1h-1zM46 58h1v1h-1zM134 58h1v1h-1zM139 58h1v1h-1zM38 59h1v1h-1zM142 59h1v1h-1zM31 61h1v1h-1zM37 61h1v1h-1zM65 61h1v1h-1zM115 61h1v1h-1zM143 61h1v1h-1zM149 61h1v1h-1zM33 62h1v1h-1zM147 62h1v1h-1zM19 63h1v1h-1zM161 63h1v1h-1zM20 64h1v1h-1zM160 64h1v1h-1zM53 69h1v1h-1zM127 69h1v1h-1zM45 71h1v1h-1zM135 71h1v1h-1zM20 75h1v1h-1zM160 75h1v1h-1z"/>
<path fill="#7cbf7b" d="M8 -2h1v1h-1zM172 -2h1v1h-1zM8 -1h1v1h-1zM172 -1h1v1h-1zM8 0h1v1h-1zM172 0h1v1h-1zM76 6h1v1h-1zM104 6h1v1h-1zM76 7h1v1h-1zM104 7h1v1h-1zM76 8h1v1h-1zM104 8h1v1h-1zM75 17h1v1h-1zM105 17h1v1h-1zM75 18h1v1h-1zM105 18h1v1h-1zM74 26h1v1h-1zM106 26h1v1h-1zM74 27h1v1h-1zM106 27h1v1h-1zM73 34h1v1h-1zM107 34h1v1h-1zM72 43h1v1h-1zM108 43h1v1h-1zM72 44h1v1h-1zM108 44h1v1h-1zM15 47h5v1h-5zM25 47h4v1h-4zM46 47h2v1h-2zM50 47h2v1h-2zM63 47h1v1h-1zM66 47h1v1h-1zM114 47h1v1h-1zM117 47h1v1h-1zM129 47h2v1h-2zM133 47h2v1h-2zM152 47h4v1h-4zM161 47h5v1h-5zM-2 48h4v1h-4zM26 48h2v1h-2zM43 48h1v1h-1zM51 48h1v1h-1zM62 48h1v1h-1zM67 48h1v1h-1zM113 48h1v1h-1zM118 48h1v1h-1zM129 48h1v1h-1zM137 48h1v1h-1zM153 48h2v1h-2zM179 48h4v1h-4zM25 49h1v1h-1zM51 49h1v1h-1zM129 49h1v1h-1zM155 49h1v1h-1zM22 50h2v1h-2zM51 50h1v1h-1zM59 50h1v1h-1zM121 50h1v1h-1zM129 50h1v1h-1zM157 50h2v1h-2zM20 51h1v1h-1zM34 51h1v1h-1zM58 51h1v1h-1zM122 51h1v1h-1zM146 51h1v1h-1zM160 51h1v1h-1zM15 52h2v1h-2zM31 52h1v1h-1zM50 52h1v1h-1zM68 52h1v1h-1zM112 52h1v1h-1zM130 52h1v1h-1zM149 52h1v1h-1zM164 52h2v1h-2zM8 53h2v1h-2zM49 53h1v1h-1zM131 53h1v1h-1zM171 53h2v1h-2zM21 54h1v1h-1zM48 54h1v1h-1zM54 54h1v1h-1zM126 54h1v1h-1zM132 54h1v1h-1zM159 54h1v1h-1zM14 55h1v1h-1zM47 55h1v1h-1zM133 55h1v1h-1zM166 55h1v1h-1zM67 58h1v1h-1zM113 58h1v1h-1zM69 59h1v1h-1zM111 59h1v1h-1zM41 60h1v1h-1zM139 60h1v1h-1zM28 63h1v1h-1zM63 63h1v1h-1zM66 63h1v1h-1zM114 63h1v1h-1zM117 63h1v1h-1zM152 63h1v1h-1zM-2 65h6v1h-6zM177 65h6v1h-6zM54 67h1v1h-1zM58 67h1v1h-1zM122 67h1v1h-1zM126 67h1v1h-1zM51 68h1v1h-1zM129 68h1v1h-1zM43 72h1v1h-1zM48 72h1v1h-1zM132 72h1v1h-1zM137 72h1v1h-1zM47 73h1v1h-1zM133 73h1v1h-1zM32 74h1v1h-1zM148 74h1v1h-1z"/>
<path fill="#87bf77" d="M6 -2h2v1h-2zM173 -2h2v1h-2zM6 -1h2v1h-2zM173 -1h2v1h-2zM6 0h2v1h-2zM173 0h2v1h-2zM76 9h1v1h-1zM104 9h1v1h-1zM76 10h1v1h-1zM104 10h1v1h-1zM75 19h1v1h-1zM105 19h1v1h-1zM75 20h1v1h-1zM105 20h1v1h-1zM74 28h1v1h-1zM106 28h1v1h-1zM74 29h1v1h-1zM106 29h1v1h-1zM73 35h1v1h-1zM107 35h1v1h-1zM73 36h1v1h-1zM107 36h1v1h-1zM72 45h1v1h-1zM108 45h1v1h-1zM72 46h1v1h-1zM108 46h1v1h-1zM20 47h5v1h-5zM48 47h2v1h-2zM64 47h2v1h-2zM115 47h2v1h-2zM131 47h2v1h-2zM156 47h5v1h-5zM2 48h11v1h-11zM23 48h3v1h-3zM44 48h2v1h-2zM50 48h1v1h-1zM63 48h1v1h-1zM66 48h1v1h-1zM114 48h1v1h-1zM117 48h1v1h-1zM130 48h1v1h-1zM135 48h2v1h-2zM155 48h3v1h-3zM168 48h11v1h-11zM23 49h2v1h-2zM41 49h2v1h-2zM61 49h1v1h-1zM67 49h1v1h-1zM113 49h1v1h-1zM119 49h1v1h-1zM138 49h2v1h-2zM156 49h2v1h-2zM21 50h1v1h-1zM38 50h1v1h-1zM60 50h1v1h-1zM67 50h1v1h-1zM113 50h1v1h-1zM120 50h1v1h-1zM142 50h1v1h-1zM159 50h1v1h-1zM18 51h2v1h-2zM35 51h1v1h-1zM50 51h1v1h-1zM130 51h1v1h-1zM145 51h1v1h-1zM161 51h2v1h-2zM14 52h1v1h-1zM57 52h1v1h-1zM123 52h1v1h-1zM166 52h1v1h-1zM4 53h4v1h-4zM27 53h1v1h-1zM68 53h1v1h-1zM112 53h1v1h-1zM153 53h1v1h-1zM173 53h4v1h-4zM22 54h1v1h-1zM68 54h1v1h-1zM112 54h1v1h-1zM158 54h1v1h-1zM15 55h1v1h-1zM165 55h1v1h-1zM51 56h1v1h-1zM129 56h1v1h-1zM43 57h1v1h-1zM49 57h1v1h-1zM131 57h1v1h-1zM137 57h1v1h-1zM44 59h1v1h-1zM66 59h1v1h-1zM114 59h1v1h-1zM136 59h1v1h-1zM34 60h1v1h-1zM146 60h1v1h-1zM30 61h1v1h-1zM38 61h1v1h-1zM142 61h1v1h-1zM150 61h1v1h-1zM25 62h1v1h-1zM155 62h1v1h-1zM18 63h1v1h-1zM162 63h1v1h-1zM21 64h1v1h-1zM159 64h1v1h-1zM4 65h3v1h-3zM63 65h1v1h-1zM117 65h1v1h-1zM174 65h3v1h-3zM46 70h1v1h-1zM134 70h1v1h-1zM50 71h1v1h-1zM130 71h1v1h-1zM42 73h1v1h-1zM138 73h1v1h-1zM39 74h1v1h-1zM141 74h1v1h-1zM21 75h1v1h-1zM159 75h1v1h-1z"/>
<path fill="#92bf73" d="M2 -2h4v1h-4zM77 -2h1v1h-1zM103 -2h1v1h-1zM175 -2h4v1h-4zM2 -1h4v1h-4zM77 -1h1v1h-1zM103 -1h1v1h-1zM175 -1h4v1h-4zM2 0h4v1h-4zM77 0h1v1h-1zM103 0h1v1h-1zM175 0h4v1h-4zM77 1h1v1h-1zM103 1h1v1h-1zM77 2h1v1h-1zM103 2h1v1h-1zM76 11h1v1h-1zM104 11h1v1h-1zM76 12h1v1h-1zM104 12h1v1h-1zM76 13h1v1h-1zM104 13h1v1h-1zM75 21h1v1h-1zM105 21h1v1h-1zM75 22h1v1h-1zM105 22h1v1h-1zM74 30h1v1h-1zM106 30h1v1h-1zM73 37h1v1h-1zM107 37h1v1h-1zM73 38h1v1h-1zM107 38h1v1h-1zM73 39h1v1h-1zM107 39h1v1h-1zM72 47h1v1h-1zM108 47h1v1h-1zM13 48h10v1h-10zM46 48h4v1h-4zM64 48h2v1h-2zM72 48h1v1h-1zM108 48h1v1h-1zM115 48h2v1h-2zM131 48h4v1h-4zM158 48h10v1h-10zM19 49h4v1h-4zM43 49h1v1h-1zM49 49h2v1h-2zM62 49h1v1h-1zM66 49h1v1h-1zM114 49h1v1h-1zM118 49h1v1h-1zM130 49h2v1h-2zM137 49h1v1h-1zM158 49h4v1h-4zM19 50h2v1h-2zM39 50h1v1h-1zM50 50h1v1h-1zM130 50h1v1h-1zM141 50h1v1h-1zM160 50h2v1h-2zM16 51h2v1h-2zM36 51h1v1h-1zM49 51h1v1h-1zM59 51h1v1h-1zM67 51h1v1h-1zM113 51h1v1h-1zM121 51h1v1h-1zM131 51h1v1h-1zM144 51h1v1h-1zM163 51h2v1h-2zM11 52h3v1h-3zM32 52h1v1h-1zM49 52h1v1h-1zM131 52h1v1h-1zM148 52h1v1h-1zM167 52h3v1h-3zM-2 53h6v1h-6zM28 53h1v1h-1zM48 53h1v1h-1zM56 53h1v1h-1zM124 53h1v1h-1zM132 53h1v1h-1zM152 53h1v1h-1zM177 53h6v1h-6zM23 54h1v1h-1zM47 54h1v1h-1zM133 54h1v1h-1zM157 54h1v1h-1zM16 55h1v1h-1zM46 55h1v1h-1zM53 55h1v1h-1zM68 55h1v1h-1zM112 55h1v1h-1zM127 55h1v1h-1zM134 55h1v1h-1zM164 55h1v1h-1zM45 56h1v1h-1zM135 56h1v1h-1zM40 58h1v1h-1zM47 58h1v1h-1zM70 58h1v1h-1zM110 58h1v1h-1zM133 58h1v1h-1zM140 58h1v1h-1zM37 59h1v1h-1zM143 59h1v1h-1zM65 60h1v1h-1zM115 60h1v1h-1zM68 61h1v1h-1zM112 61h1v1h-1zM24 62h1v1h-1zM34 62h1v1h-1zM67 62h1v1h-1zM113 62h1v1h-1zM146 62h1v1h-1zM156 62h1v1h-1zM17 63h1v1h-1zM29 63h1v1h-1zM151 63h1v1h-1zM163 63h1v1h-1zM22 64h1v1h-1zM61 64h1v1h-1zM119 64h1v1h-1zM158 64h1v1h-1zM7 65h2v1h-2zM59 65h1v1h-1zM121 65h1v1h-1zM172 65h2v1h-2zM56 66h1v1h-1zM124 66h1v1h-1zM56 68h1v1h-1zM124 68h1v1h-1zM48 69h1v1h-1zM132 69h1v1h-1zM52 70h1v1h-1zM128 70h1v1h-1zM44 71h1v1h-1zM136 71h1v1h-1zM31 74h1v1h-1zM149 74h1v1h-1zM22 75h1v1h-1zM158 75h1v1h-1z"/>
<path fill="#9cbf6f" d="M-2 -2h4v1h-4zM179 -2h4v1h-4zM-2 -1h4v1h-4zM179 -1h4v1h-4zM-2 0h4v1h-4zM179 0h4v1h-4zM77 3h1v1h-1zM103 3h1v1h-1zM77 4h1v1h-1zM103 4h1v1h-1zM77 5h1v1h-1zM103 5h1v1h-1zM76 14h1v1h-1zM104 14h1v1h-1zM76 15h1v1h-1zM104 15h1v1h-1zM76 16h1v1h-1zM104 16h1v1h-1zM75 23h1v1h-1zM105 23h1v1h-1zM75 24h1v1h-1zM105 24h1v1h-1zM75 25h1v1h-1zM105 25h1v1h-1zM74 31h1v1h-1zM106 31h1v1h-1zM74 32h1v1h-1zM106 32h1v1h-1zM73 40h1v1h-1zM107 40h1v1h-1zM73 41h1v1h-1zM107 41h1v1h-1zM-2 49h21v1h-21zM44 49h5v1h-5zM63 49h3v1h-3zM72 49h1v1h-1zM108 49h1v1h-1zM115 49h3v1h-3zM132 49h5v1h-5zM162 49h21v1h-21zM15 50h4v1h-4zM40 50h2v1h-2zM48 50h2v1h-2zM61 50h1v1h-1zM66 50h1v1h-1zM72 50h1v1h-1zM108 50h1v1h-1zM114 50h1v1h-1zM119 50h1v1h-1zM131 50h2v1h-2zM139 50h2v1h-2zM162 50h4v1h-4zM13 51h3v1h-3zM37 51h1v1h-1zM72 51h1v1h-1zM108 51h1v1h-1zM143 51h1v1h-1zM165 51h3v1h-3zM7 52h4v1h-4zM33 52h1v1h-1zM48 52h1v1h-1zM58 52h1v1h-1zM67 52h1v1h-1zM113 52h1v1h-1zM122 52h1v1h-1zM132 52h1v1h-1zM147 52h1v1h-1zM170 52h4v1h-4zM29 53h1v1h-1zM151 53h1v1h-1zM24 54h1v1h-1zM55 54h1v1h-1zM125 54h1v1h-1zM156 54h1v1h-1zM17 55h1v1h-1zM163 55h1v1h-1zM-2 56h8v1h-8zM68 56h1v1h-1zM112 56h1v1h-1zM175 56h8v1h-8zM42 57h1v1h-1zM71 57h1v1h-1zM109 57h1v1h-1zM138 57h1v1h-1zM45 59h1v1h-1zM135 59h1v1h-1zM33 60h1v1h-1zM42 60h1v1h-1zM138 60h1v1h-1zM147 60h1v1h-1zM29 61h1v1h-1zM151 61h1v1h-1zM63 62h1v1h-1zM117 62h1v1h-1zM16 63h1v1h-1zM164 63h1v1h-1zM65 64h1v1h-1zM115 64h1v1h-1zM9 65h2v1h-2zM170 65h2v1h-2zM61 66h1v1h-1zM119 66h1v1h-1zM53 67h1v1h-1zM127 67h1v1h-1zM50 68h1v1h-1zM130 68h1v1h-1zM54 69h1v1h-1zM126 69h1v1h-1zM42 72h1v1h-1zM49 72h1v1h-1zM131 72h1v1h-1zM138 72h1v1h-1zM48 73h1v1h-1zM132 73h1v1h-1zM40 74h1v1h-1zM140 74h1v1h-1zM23 75h1v1h-1zM157 75h1v1h-1z"/>
<path fill="#a5be6b" d="M77 6h1v1h-1zM103 6h1v1h-1zM77 7h1v1h-1zM103 7h1v1h-1zM77 8h1v1h-1zM103 8h1v1h-1zM76 17h1v1h-1zM104 17h1v1h-1zM76 18h1v1h-1zM104 18h1v1h-1zM75 26h1v1h-1zM105 26h1v1h-1zM75 27h1v1h-1zM105 27h1v1h-1zM74 33h1v1h-1zM106 33h1v1h-1zM74 34h1v1h-1zM106 34h1v1h-1zM73 42h1v1h-1zM107 42h1v1h-1zM73 43h1v1h-1zM107 43h1v1h-1zM-2 50h17v1h-17zM42 50h6v1h-6zM62 50h4v1h-4zM115 50h4v1h-4zM133 50h6v1h-6zM166 50h17v1h-17zM7 51h6v1h-6zM38 51h2v1h-2zM47 51h2v1h-2zM60 51h1v1h-1zM66 51h1v1h-1zM114 51h1v1h-1zM120 51h1v1h-1zM132 51h2v1h-2zM141 51h2v1h-2zM168 51h6v1h-6zM-2 52h9v1h-9zM34 52h2v1h-2zM47 52h1v1h-1zM59 52h1v1h-1zM72 52h1v1h-1zM108 52h1v1h-1zM121 52h1v1h-1zM133 52h1v1h-1zM145 52h2v1h-2zM174 52h9v1h-9zM30 53h1v1h-1zM47 53h1v1h-1zM57 53h1v1h-1zM67 53h1v1h-1zM72 53h1v1h-1zM108 53h1v1h-1zM113 53h1v1h-1zM123 53h1v1h-1zM133 53h1v1h-1zM150 53h1v1h-1zM25 54h1v1h-1zM46 54h1v1h-1zM134 54h1v1h-1zM155 54h1v1h-1zM18 55h2v1h-2zM45 55h1v1h-1zM54 55h1v1h-1zM126 55h1v1h-1zM135 55h1v1h-1zM161 55h2v1h-2zM6 56h3v1h-3zM44 56h1v1h-1zM52 56h1v1h-1zM128 56h1v1h-1zM136 56h1v1h-1zM172 56h3v1h-3zM50 57h1v1h-1zM67 57h1v1h-1zM113 57h1v1h-1zM130 57h1v1h-1zM39 58h1v1h-1zM48 58h1v1h-1zM66 58h1v1h-1zM114 58h1v1h-1zM132 58h1v1h-1zM141 58h1v1h-1zM36 59h1v1h-1zM144 59h1v1h-1zM69 60h1v1h-1zM111 60h1v1h-1zM39 61h1v1h-1zM64 61h1v1h-1zM116 61h1v1h-1zM141 61h1v1h-1zM23 62h1v1h-1zM35 62h1v1h-1zM145 62h1v1h-1zM157 62h1v1h-1zM15 63h1v1h-1zM30 63h1v1h-1zM150 63h1v1h-1zM165 63h1v1h-1zM23 64h1v1h-1zM157 64h1v1h-1zM11 65h2v1h-2zM168 65h2v1h-2zM59 67h1v1h-1zM121 67h1v1h-1zM47 69h1v1h-1zM133 69h1v1h-1zM45 70h1v1h-1zM135 70h1v1h-1zM43 71h1v1h-1zM51 71h1v1h-1zM129 71h1v1h-1zM137 71h1v1h-1zM41 73h1v1h-1zM139 73h1v1h-1zM30 74h1v1h-1zM150 74h1v1h-1zM24 75h1v1h-1zM156 75h1v1h-1z"/>
<path fill="#aebe67" d="M77 9h1v1h-1zM103 9h1v1h-1zM77 10h1v1h-1zM103 10h1v1h-1zM77 11h1v1h-1zM103 11h1v1h-1zM76 19h1v1h-1zM104 19h1v1h-1zM76 20h1v1h-1zM104 20h1v1h-1zM76 21h1v1h-1zM104 21h1v1h-1zM75 28h1v1h-1zM105 28h1v1h-1zM75 29h1v1h-1zM105 29h1v1h-1zM74 35h1v1h-1zM106 35h1v1h-1zM74 36h1v1h-1zM106 36h1v1h-1zM74 37h1v1h-1zM106 37h1v1h-1zM73 44h1v1h-1zM107 44h1v1h-1zM73 45h1v1h-1zM107 45h1v1h-1zM-2 51h9v1h-9zM40 51h3v1h-3zM44 51h3v1h-3zM61 51h2v1h-2zM64 51h2v1h-2zM115 51h2v1h-2zM118 51h2v1h-2zM134 51h3v1h-3zM138 51h3v1h-3zM174 51h9v1h-9zM36 52h1v1h-1zM46 52h1v1h-1zM60 52h1v1h-1zM66 52h1v1h-1zM114 52h1v1h-1zM120 52h1v1h-1zM134 52h1v1h-1zM144 52h1v1h-1zM31 53h2v1h-2zM46 53h1v1h-1zM58 53h1v1h-1zM122 53h1v1h-1zM134 53h1v1h-1zM148 53h2v1h-2zM26 54h1v1h-1zM56 54h1v1h-1zM67 54h1v1h-1zM72 54h1v1h-1zM108 54h1v1h-1zM113 54h1v1h-1zM124 54h1v1h-1zM154 54h1v1h-1zM20 55h1v1h-1zM67 55h1v1h-1zM72 55h1v1h-1zM108 55h1v1h-1zM113 55h1v1h-1zM160 55h1v1h-1zM9 56h3v1h-3zM72 56h1v1h-1zM108 56h1v1h-1zM169 56h3v1h-3zM41 57h1v1h-1zM139 57h1v1h-1zM38 58h1v1h-1zM142 58h1v1h-1zM35 59h1v1h-1zM46 59h1v1h-1zM65 59h1v1h-1zM115 59h1v1h-1zM134 59h1v1h-1zM145 59h1v1h-1zM32 60h1v1h-1zM43 60h1v1h-1zM137 60h1v1h-1zM148 60h1v1h-1zM28 61h1v1h-1zM40 61h1v1h-1zM140 61h1v1h-1zM152 61h1v1h-1zM22 62h1v1h-1zM36 62h1v1h-1zM144 62h1v1h-1zM158 62h1v1h-1zM13 63h2v1h-2zM31 63h1v1h-1zM62 63h1v1h-1zM67 63h1v1h-1zM113 63h1v1h-1zM118 63h1v1h-1zM149 63h1v1h-1zM166 63h2v1h-2zM24 64h1v1h-1zM60 64h1v1h-1zM120 64h1v1h-1zM156 64h1v1h-1zM13 65h2v1h-2zM58 65h1v1h-1zM122 65h1v1h-1zM166 65h2v1h-2zM55 66h1v1h-1zM125 66h1v1h-1zM52 67h1v1h-1zM128 67h1v1h-1zM49 68h1v1h-1zM57 68h1v1h-1zM123 68h1v1h-1zM131 68h1v1h-1zM55 69h1v1h-1zM125 69h1v1h-1zM53 70h1v1h-1zM127 70h1v1h-1zM41 72h1v1h-1zM139 72h1v1h-1zM41 74h1v1h-1zM139 74h1v1h-1zM25 75h1v1h-1zM155 75h1v1h-1z"/>
<path fill="#b7bd64" d="M78 -2h1v1h-1zM102 -2h1v1h-1zM78 -1h1v1h-1zM102 -1h1v1h-1zM78 0h1v1h-1zM102 0h1v1h-1zM78 1h1v1h-1zM102 1h1v1h-1zM78 2h1v1h-1zM102 2h1v1h-1zM77 12h1v1h-1zM103 12h1v1h-1zM77 13h1v1h-1zM103 13h1v1h-1zM77 14h1v1h-1zM103 14h1v1h-1zM76 22h1v1h-1zM104 22h1v1h-1zM76 23h1v1h-1zM104 23h1v1h-1zM75 30h1v1h-1zM105 30h1v1h-1zM75 31h1v1h-1zM105 31h1v1h-1zM74 38h1v1h-1zM106 38h1v1h-1zM74 39h1v1h-1zM106 39h1v1h-1zM73 46h1v1h-1zM107 46h1v1h-1zM73 47h1v1h-1zM107 47h1v1h-1zM73 48h1v1h-1zM107 48h1v1h-1zM43 51h1v1h-1zM63 51h1v1h-1zM117 51h1v1h-1zM137 51h1v1h-1zM37 52h3v1h-3zM44 52h2v1h-2zM61 52h1v1h-1zM65 52h1v1h-1zM115 52h1v1h-1zM119 52h1v1h-1zM135 52h2v1h-2zM141 52h3v1h-3zM33 53h1v1h-1zM45 53h1v1h-1zM59 53h1v1h-1zM66 53h1v1h-1zM114 53h1v1h-1zM121 53h1v1h-1zM135 53h1v1h-1zM147 53h1v1h-1zM27 54h2v1h-2zM45 54h1v1h-1zM57 54h1v1h-1zM123 54h1v1h-1zM135 54h1v1h-1zM152 54h2v1h-2zM21 55h2v1h-2zM44 55h1v1h-1zM55 55h1v1h-1zM125 55h1v1h-1zM136 55h1v1h-1zM158 55h2v1h-2zM12 56h2v1h-2zM43 56h1v1h-1zM53 56h1v1h-1zM67 56h1v1h-1zM113 56h1v1h-1zM127 56h1v1h-1zM137 56h1v1h-1zM167 56h2v1h-2zM51 57h1v1h-1zM129 57h1v1h-1zM49 58h1v1h-1zM131 58h1v1h-1zM70 59h1v1h-1zM110 59h1v1h-1zM31 60h1v1h-1zM64 60h1v1h-1zM116 60h1v1h-1zM149 60h1v1h-1zM27 61h1v1h-1zM153 61h1v1h-1zM20 62h2v1h-2zM62 62h1v1h-1zM68 62h1v1h-1zM112 62h1v1h-1zM118 62h1v1h-1zM159 62h2v1h-2zM11 63h2v1h-2zM168 63h2v1h-2zM25 64h1v1h-1zM155 64h1v1h-1zM15 65h1v1h-1zM64 65h1v1h-1zM116 65h1v1h-1zM165 65h1v1h-1zM62 66h1v1h-1zM118 66h1v1h-1zM46 69h1v1h-1zM134 69h1v1h-1zM44 70h1v1h-1zM136 70h1v1h-1zM42 71h1v1h-1zM138 71h1v1h-1zM50 72h1v1h-1zM130 72h1v1h-1zM40 73h1v1h-1zM49 73h1v1h-1zM131 73h1v1h-1zM140 73h1v1h-1zM29 74h1v1h-1zM151 74h1v1h-1zM26 75h1v1h-1zM154 75h1v1h-1z"/>
<path fill="#c0bc60" d="M78 3h1v1h-1zM102 3h1v1h-1zM78 4h1v1h-1zM102 4h1v1h-1zM78 5h1v1h-1zM102 5h1v1h-1zM78 6h1v1h-1zM102 6h1v1h-1zM77 15h1v1h-1zM103 15h1v1h-1zM77 16h1v1h-1zM103 16h1v1h-1zM77 17h1v1h-1zM103 17h1v1h-1zM76 24h1v1h-1zM104 24h1v1h-1zM76 25h1v1h-1zM104 25h1v1h-1zM76 26h1v1h-1zM104 26h1v1h-1zM75 32h1v1h-1zM105 32h1v1h-1zM75 33h1v1h-1zM105 33h1v1h-1zM75 34h1v1h-1zM105 34h1v1h-1zM74 40h1v1h-1zM106 40h1v1h-1zM74 41h1v1h-1zM106 41h1v1h-1zM74 42h1v1h-1zM106 42h1v1h-1zM73 49h1v1h-1zM107 49h1v1h-1zM73 50h1v1h-1zM107 50h1v1h-1zM40 52h4v1h-4zM62 52h3v1h-3zM116 52h3v1h-3zM137 52h4v1h-4zM34 53h3v1h-3zM43 53h2v1h-2zM60 53h1v1h-1zM65 53h1v1h-1zM115 53h1v1h-1zM120 53h1v1h-1zM136 53h2v1h-2zM144 53h3v1h-3zM29 54h2v1h-2zM43 54h2v1h-2zM58 54h1v1h-1zM66 54h1v1h-1zM114 54h1v1h-1zM122 54h1v1h-1zM136 54h2v1h-2zM150 54h2v1h-2zM23 55h1v1h-1zM43 55h1v1h-1zM56 55h1v1h-1zM66 55h1v1h-1zM114 55h1v1h-1zM124 55h1v1h-1zM137 55h1v1h-1zM157 55h1v1h-1zM14 56h2v1h-2zM42 56h1v1h-1zM138 56h1v1h-1zM165 56h2v1h-2zM40 57h1v1h-1zM52 57h1v1h-1zM66 57h1v1h-1zM114 57h1v1h-1zM128 57h1v1h-1zM140 57h1v1h-1zM37 58h1v1h-1zM65 58h1v1h-1zM71 58h1v1h-1zM109 58h1v1h-1zM115 58h1v1h-1zM143 58h1v1h-1zM34 59h1v1h-1zM47 59h1v1h-1zM64 59h1v1h-1zM116 59h1v1h-1zM133 59h1v1h-1zM146 59h1v1h-1zM30 60h1v1h-1zM44 60h1v1h-1zM136 60h1v1h-1zM150 60h1v1h-1zM26 61h1v1h-1zM41 61h1v1h-1zM63 61h1v1h-1zM69 61h1v1h-1zM111 61h1v1h-1zM117 61h1v1h-1zM139 61h1v1h-1zM154 61h1v1h-1zM19 62h1v1h-1zM37 62h1v1h-1zM143 62h1v1h-1zM161 62h1v1h-1zM8 63h3v1h-3zM32 63h1v1h-1zM61 63h1v1h-1zM119 63h1v1h-1zM148 63h1v1h-1zM170 63h3v1h-3zM26 64h1v1h-1zM66 64h1v1h-1zM114 64h1v1h-1zM154 64h1v1h-1zM16 65h2v1h-2zM57 65h1v1h-1zM123 65h1v1h-1zM163 65h2v1h-2zM54 66h1v1h-1zM126 66h1v1h-1zM51 67h1v1h-1zM60 67h1v1h-1zM120 67h1v1h-1zM129 67h1v1h-1zM48 68h1v1h-1zM132 68h1v1h-1zM43 70h1v1h-1zM54 70h1v1h-1zM126 70h1v1h-1zM137 70h1v1h-1zM52 71h1v1h-1zM128 71h1v1h-1zM40 72h1v1h-1zM140 72h1v1h-1zM28 74h1v1h-1zM42 74h1v1h-1zM138 74h1v1h-1zM152 74h1v1h-1zM27 75h1v1h-1zM153 75h1v1h-1z"/>
<path fill="#c8bc5d" d="M78 7h1v1h-1zM102 7h1v1h-1zM78 8h1v1h-1zM102 8h1v1h-1zM78 9h1v1h-1zM102 9h1v1h-1zM77 18h1v1h-1zM103 18h1v1h-1zM77 19h1v1h-1zM103 19h1v1h-1zM77 20h1v1h-1zM103 20h1v1h-1zM76 27h1v1h-1zM104 27h1v1h-1zM76 28h1v1h-1zM104 28h1v1h-1zM76 29h1v1h-1zM104 29h1v1h-1zM75 35h1v1h-1zM105 35h1v1h-1zM75 36h1v1h-1zM105 36h1v1h-1zM74 43h1v1h-1zM106 43h1v1h-1zM74 44h1v1h-1zM106 44h1v1h-1zM73 51h1v1h-1zM107 51h1v1h-1zM73 52h1v1h-1zM107 52h1v1h-1zM37 53h6v1h-6zM61 53h4v1h-4zM73 53h1v1h-1zM107 53h1v1h-1zM116 53h4v1h-4zM138 53h6v1h-6zM31 54h2v1h-2zM41 54h2v1h-2zM59 54h1v1h-1zM65 54h1v1h-1zM115 54h1v1h-1zM121 54h1v1h-1zM138 54h2v1h-2zM148 54h2v1h-2zM24 55h3v1h-3zM42 55h1v1h-1zM138 55h1v1h-1zM154 55h3v1h-3zM16 56h3v1h-3zM41 56h1v1h-1zM54 56h1v1h-1zM66 56h1v1h-1zM114 56h1v1h-1zM126 56h1v1h-1zM139 56h1v1h-1zM162 56h3v1h-3zM-2 57h7v1h-7zM39 57h1v1h-1zM72 57h1v1h-1zM108 57h1v1h-1zM141 57h1v1h-1zM176 57h7v1h-7zM36 58h1v1h-1zM50 58h1v1h-1zM130 58h1v1h-1zM144 58h1v1h-1zM32 59h2v1h-2zM48 59h1v1h-1zM132 59h1v1h-1zM147 59h2v1h-2zM29 60h1v1h-1zM45 60h1v1h-1zM63 60h1v1h-1zM70 60h1v1h-1zM110 60h1v1h-1zM117 60h1v1h-1zM135 60h1v1h-1zM151 60h1v1h-1zM24 61h2v1h-2zM42 61h1v1h-1zM138 61h1v1h-1zM155 61h2v1h-2zM17 62h2v1h-2zM38 62h1v1h-1zM142 62h1v1h-1zM162 62h2v1h-2zM-2 63h10v1h-10zM33 63h1v1h-1zM147 63h1v1h-1zM173 63h10v1h-10zM27 64h1v1h-1zM59 64h1v1h-1zM121 64h1v1h-1zM153 64h1v1h-1zM18 65h2v1h-2zM65 65h1v1h-1zM115 65h1v1h-1zM161 65h2v1h-2zM47 68h1v1h-1zM58 68h1v1h-1zM122 68h1v1h-1zM133 68h1v1h-1zM45 69h1v1h-1zM56 69h1v1h-1zM124 69h1v1h-1zM135 69h1v1h-1zM41 71h1v1h-1zM139 71h1v1h-1zM39 72h1v1h-1zM51 72h1v1h-1zM129 72h1v1h-1zM141 72h1v1h-1zM39 73h1v1h-1zM50 73h1v1h-1zM130 73h1v1h-1zM141 73h1v1h-1zM27 74h1v1h-1zM43 74h1v1h-1zM137 74h1v1h-1zM153 74h1v1h-1zM28 75h1v1h-1zM152 75h1v1h-1z"/>
<path fill="#d1bb59" d="M79 -2h1v1h-1zM101 -2h1v1h-1zM79 -1h1v1h-1zM101 -1h1v1h-1zM79 0h1v1h-1zM101 0h1v1h-1zM79 1h1v1h-1zM101 1h1v1h-1zM78 10h1v1h-1zM102 10h1v1h-1zM78 11h1v1h-1zM102 11h1v1h-1zM78 12h1v1h-1zM102 12h1v1h-1zM78 13h1v1h-1zM102 13h1v1h-1zM77 21h1v1h-1zM103 21h1v1h-1zM77 22h1v1h-1zM103 22h1v1h-1zM77 23h1v1h-1zM103 23h1v1h-1zM76 30h1v1h-1zM104 30h1v1h-1zM76 31h1v1h-1zM104 31h1v1h-1zM75 37h1v1h-1zM105 37h1v1h-1zM75 38h1v1h-1zM105 38h1v1h-1zM75 39h1v1h-1zM105 39h1v1h-1zM74 45h1v1h-1zM106 45h1v1h-1zM74 46h1v1h-1zM106 46h1v1h-1zM74 47h1v1h-1zM106 47h1v1h-1zM33 54h8v1h-8zM60 54h5v1h-5zM73 54h1v1h-1zM107 54h1v1h-1zM116 54h5v1h-5zM140 54h8v1h-8zM27 55h2v1h-2zM40 55h2v1h-2zM57 55h2v1h-2zM65 55h1v1h-1zM73 55h1v1h-1zM107 55h1v1h-1zM115 55h1v1h-1zM122 55h2v1h-2zM139 55h2v1h-2zM152 55h2v1h-2zM19 56h2v1h-2zM40 56h1v1h-1zM55 56h1v1h-1zM65 56h1v1h-1zM73 56h1v1h-1zM107 56h1v1h-1zM115 56h1v1h-1zM125 56h1v1h-1zM140 56h1v1h-1zM160 56h2v1h-2zM5 57h6v1h-6zM37 57h2v1h-2zM53 57h1v1h-1zM65 57h1v1h-1zM115 57h1v1h-1zM127 57h1v1h-1zM142 57h2v1h-2zM170 57h6v1h-6zM34 58h2v1h-2zM51 58h1v1h-1zM64 58h1v1h-1zM116 58h1v1h-1zM129 58h1v1h-1zM145 58h2v1h-2zM31 59h1v1h-1zM49 59h1v1h-1zM63 59h1v1h-1zM71 59h1v1h-1zM109 59h1v1h-1zM117 59h1v1h-1zM131 59h1v1h-1zM149 59h1v1h-1zM27 60h2v1h-2zM46 60h1v1h-1zM62 60h1v1h-1zM118 60h1v1h-1zM134 60h1v1h-1zM152 60h2v1h-2zM22 61h2v1h-2zM43 61h1v1h-1zM62 61h1v1h-1zM118 61h1v1h-1zM137 61h1v1h-1zM157 61h2v1h-2zM14 62h3v1h-3zM39 62h1v1h-1zM61 62h1v1h-1zM69 62h1v1h-1zM111 62h1v1h-1zM119 62h1v1h-1zM141 62h1v1h-1zM164 62h3v1h-3zM34 63h1v1h-1zM60 63h1v1h-1zM68 63h1v1h-1zM112 63h1v1h-1zM120 63h1v1h-1zM146 63h1v1h-1zM28 64h2v1h-2zM58 64h1v1h-1zM67 64h1v1h-1zM113 64h1v1h-1zM122 64h1v1h-1zM151 64h2v1h-2zM20 65h2v1h-2zM56 65h1v1h-1zM124 65h1v1h-1zM159 65h2v1h-2zM-2 66h7v1h-7zM53 66h1v1h-1zM63 66h1v1h-1zM117 66h1v1h-1zM127 66h1v1h-1zM176 66h7v1h-7zM50 67h1v1h-1zM61 67h1v1h-1zM119 67h1v1h-1zM130 67h1v1h-1zM46 68h1v1h-1zM134 68h1v1h-1zM44 69h1v1h-1zM57 69h1v1h-1zM123 69h1v1h-1zM136 69h1v1h-1zM42 70h1v1h-1zM55 70h1v1h-1zM125 70h1v1h-1zM138 70h1v1h-1zM40 71h1v1h-1zM53 71h1v1h-1zM127 71h1v1h-1zM140 71h1v1h-1zM38 73h1v1h-1zM142 73h1v1h-1zM25 74h2v1h-2zM154 74h2v1h-2zM29 75h2v1h-2zM150 75h2v1h-2z"/>
<path fill="#d9ba56" d="M79 2h1v1h-1zM101 2h1v1h-1zM79 3h1v1h-1zM101 3h1v1h-1zM79 4h1v1h-1zM101 4h1v1h-1zM79 5h1v1h-1zM101 5h1v1h-1zM78 14h1v1h-1zM102 14h1v1h-1zM78 15h1v1h-1zM102 15h1v1h-1zM78 16h1v1h-1zM102 16h1v1h-1zM78 17h1v1h-1zM102 17h1v1h-1zM77 24h1v1h-1zM103 24h1v1h-1zM77 25h1v1h-1zM103 25h1v1h-1zM77 26h1v1h-1zM103 26h1v1h-1zM76 32h1v1h-1zM104 32h1v1h-1zM76 33h1v1h-1zM104 33h1v1h-1zM76 34h1v1h-1zM104 34h1v1h-1zM75 40h1v1h-1zM105 40h1v1h-1zM75 41h1v1h-1zM105 41h1v1h-1zM75 42h1v1h-1zM105 42h1v1h-1zM74 48h1v1h-1zM106 48h1v1h-1zM74 49h1v1h-1zM106 49h1v1h-1zM74 50h1v1h-1zM106 50h1v1h-1zM29 55h11v1h-11zM59 55h6v1h-6zM116 55h6v1h-6zM141 55h11v1h-11zM21 56h3v1h-3zM38 56h2v1h-2zM56 56h1v1h-1zM64 56h1v1h-1zM116 56h1v1h-1zM124 56h1v1h-1zM141 56h2v1h-2zM157 56h3v1h-3zM11 57h5v1h-5zM36 57h1v1h-1zM54 57h1v1h-1zM64 57h1v1h-1zM116 57h1v1h-1zM126 57h1v1h-1zM144 57h1v1h-1zM165 57h5v1h-5zM32 58h2v1h-2zM52 58h1v1h-1zM63 58h1v1h-1zM72 58h1v1h-1zM108 58h1v1h-1zM117 58h1v1h-1zM128 58h1v1h-1zM147 58h2v1h-2zM29 59h2v1h-2zM50 59h1v1h-1zM62 59h1v1h-1zM118 59h1v1h-1zM130 59h1v1h-1zM150 59h2v1h-2zM25 60h2v1h-2zM47 60h1v1h-1zM133 60h1v1h-1zM154 60h2v1h-2zM20 61h2v1h-2zM44 61h1v1h-1zM61 61h1v1h-1zM70 61h1v1h-1zM110 61h1v1h-1zM119 61h1v1h-1zM136 61h1v1h-1zM159 61h2v1h-2zM11 62h3v1h-3zM40 62h1v1h-1zM60 62h1v1h-1zM120 62h1v1h-1zM140 62h1v1h-1zM167 62h3v1h-3zM35 63h2v1h-2zM144 63h2v1h-2zM30 64h1v1h-1zM150 64h1v1h-1zM22 65h2v1h-2zM55 65h1v1h-1zM125 65h1v1h-1zM157 65h2v1h-2zM5 66h7v1h-7zM52 66h1v1h-1zM128 66h1v1h-1zM169 66h7v1h-7zM49 67h1v1h-1zM131 67h1v1h-1zM45 68h1v1h-1zM59 68h1v1h-1zM121 68h1v1h-1zM135 68h1v1h-1zM43 69h1v1h-1zM137 69h1v1h-1zM41 70h1v1h-1zM139 70h1v1h-1zM39 71h1v1h-1zM54 71h1v1h-1zM126 71h1v1h-1zM141 71h1v1h-1zM38 72h1v1h-1zM52 72h1v1h-1zM128 72h1v1h-1zM142 72h1v1h-1zM37 73h1v1h-1zM51 73h1v1h-1zM129 73h1v1h-1zM143 73h1v1h-1zM24 74h1v1h-1zM44 74h1v1h-1zM136 74h1v1h-1zM156 74h1v1h-1zM31 75h1v1h-1zM149 75h1v1h-1z"/>
<path fill="#e1b952" d="M79 6h1v1h-1zM101 6h1v1h-1zM79 7h1v1h-1zM101 7h1v1h-1zM79 8h1v1h-1zM101 8h1v1h-1zM79 9h1v1h-1zM101 9h1v1h-1zM78 18h1v1h-1zM102 18h1v1h-1zM78 19h1v1h-1zM102 19h1v1h-1zM78 20h1v1h-1zM102 20h1v1h-1zM78 21h1v1h-1zM102 21h1v1h-1zM77 27h1v1h-1zM103 27h1v1h-1zM77 28h1v1h-1zM103 28h1v1h-1zM77 29h1v1h-1zM103 29h1v1h-1zM76 35h1v1h-1zM104 35h1v1h-1zM76 36h1v1h-1zM104 36h1v1h-1zM76 37h1v1h-1zM104 37h1v1h-1zM75 43h1v1h-1zM105 43h1v1h-1zM75 44h1v1h-1zM105 44h1v1h-1zM75 45h1v1h-1zM105 45h1v1h-1zM74 51h1v1h-1zM106 51h1v1h-1zM74 52h1v1h-1zM106 52h1v1h-1zM74 53h1v1h-1zM106 53h1v1h-1zM24 56h5v1h-5zM35 56h3v1h-3zM57 56h3v1h-3zM63 56h1v1h-1zM117 56h1v1h-1zM121 56h3v1h-3zM143 56h3v1h-3zM152 56h5v1h-5zM16 57h5v1h-5zM33 57h3v1h-3zM55 57h2v1h-2zM63 57h1v1h-1zM73 57h1v1h-1zM107 57h1v1h-1zM117 57h1v1h-1zM124 57h2v1h-2zM145 57h3v1h-3zM160 57h5v1h-5zM-2 58h12v1h-12zM30 58h2v1h-2zM53 58h2v1h-2zM62 58h1v1h-1zM118 58h1v1h-1zM126 58h2v1h-2zM149 58h2v1h-2zM171 58h12v1h-12zM26 59h3v1h-3zM51 59h1v1h-1zM61 59h1v1h-1zM119 59h1v1h-1zM129 59h1v1h-1zM152 59h3v1h-3zM22 60h3v1h-3zM48 60h2v1h-2zM61 60h1v1h-1zM71 60h1v1h-1zM109 60h1v1h-1zM119 60h1v1h-1zM131 60h2v1h-2zM156 60h3v1h-3zM17 61h3v1h-3zM45 61h1v1h-1zM60 61h1v1h-1zM120 61h1v1h-1zM135 61h1v1h-1zM161 61h3v1h-3zM-2 62h13v1h-13zM41 62h2v1h-2zM59 62h1v1h-1zM121 62h1v1h-1zM138 62h2v1h-2zM170 62h13v1h-13zM37 63h1v1h-1zM59 63h1v1h-1zM69 63h1v1h-1zM111 63h1v1h-1zM121 63h1v1h-1zM143 63h1v1h-1zM31 64h2v1h-2zM57 64h1v1h-1zM123 64h1v1h-1zM148 64h2v1h-2zM24 65h2v1h-2zM54 65h1v1h-1zM66 65h1v1h-1zM114 65h1v1h-1zM126 65h1v1h-1zM155 65h2v1h-2zM12 66h4v1h-4zM51 66h1v1h-1zM64 66h1v1h-1zM116 66h1v1h-1zM129 66h1v1h-1zM165 66h4v1h-4zM48 67h1v1h-1zM62 67h1v1h-1zM118 67h1v1h-1zM132 67h1v1h-1zM44 68h1v1h-1zM60 68h1v1h-1zM120 68h1v1h-1zM136 68h1v1h-1zM41 69h2v1h-2zM58 69h1v1h-1zM122 69h1v1h-1zM138 69h2v1h-2zM39 70h2v1h-2zM56 70h1v1h-1zM124 70h1v1h-1zM140 70h2v1h-2zM38 71h1v1h-1zM55 71h1v1h-1zM125 71h1v1h-1zM142 71h1v1h-1zM36 72h2v1h-2zM53 72h1v1h-1zM127 72h1v1h-1zM143 72h2v1h-2zM36 73h1v1h-1zM52 73h1v1h-1zM128 73h1v1h-1zM144 73h1v1h-1zM22 74h2v1h-2zM45 74h1v1h-1zM135 74h1v1h-1zM157 74h2v1h-2zM32 75h1v1h-1zM148 75h1v1h-1z"/>
<path fill="#e9b94e" d="M80 -2h1v1h-1zM100 -2h1v1h-1zM80 -1h1v1h-1zM100 -1h1v1h-1zM80 0h1v1h-1zM100 0h1v1h-1zM80 1h1v1h-1zM100 1h1v1h-1zM79 10h1v1h-1zM101 10h1v1h-1zM79 11h1v1h-1zM101 11h1v1h-1zM79 12h1v1h-1zM101 12h1v1h-1zM79 13h1v1h-1zM101 13h1v1h-1zM79 14h1v1h-1zM101 14h1v1h-1zM78 22h1v1h-1zM102 22h1v1h-1zM78 23h1v1h-1zM102 23h1v1h-1zM78 24h1v1h-1zM102 24h1v1h-1zM77 30h1v1h-1zM103 30h1v1h-1zM77 31h1v1h-1zM103 31h1v1h-1zM77 32h1v1h-1zM103 32h1v1h-1zM77 33h1v1h-1zM103 33h1v1h-1zM76 38h1v1h-1zM104 38h1v1h-1zM76 39h1v1h-1zM104 39h1v1h-1zM76 40h1v1h-1zM104 40h1v1h-1zM76 41h1v1h-1zM104 41h1v1h-1zM75 46h1v1h-1zM105 46h1v1h-1zM75 47h1v1h-1zM105 47h1v1h-1zM75 48h1v1h-1zM105 48h1v1h-1zM75 49h1v1h-1zM105 49h1v1h-1zM74 54h1v1h-1zM106 54h1v1h-1zM74 55h1v1h-1zM106 55h1v1h-1zM29 56h6v1h-6zM60 56h3v1h-3zM74 56h1v1h-1zM106 56h1v1h-1zM118 56h3v1h-3zM146 56h6v1h-6zM21 57h12v1h-12zM57 57h6v1h-6zM118 57h6v1h-6zM148 57h12v1h-12zM10 58h20v1h-20zM55 58h7v1h-7zM119 58h7v1h-7zM151 58h20v1h-20zM21 59h5v1h-5zM52 59h3v1h-3zM59 59h2v1h-2zM72 59h1v1h-1zM108 59h1v1h-1zM120 59h2v1h-2zM126 59h3v1h-3zM155 59h5v1h-5zM17 60h5v1h-5zM50 60h2v1h-2zM59 60h2v1h-2zM120 60h2v1h-2zM129 60h2v1h-2zM159 60h5v1h-5zM12 61h5v1h-5zM46 61h2v1h-2zM59 61h1v1h-1zM71 61h1v1h-1zM109 61h1v1h-1zM121 61h1v1h-1zM133 61h2v1h-2zM164 61h5v1h-5zM43 62h1v1h-1zM58 62h1v1h-1zM70 62h1v1h-1zM110 62h1v1h-1zM122 62h1v1h-1zM137 62h1v1h-1zM38 63h2v1h-2zM58 63h1v1h-1zM122 63h1v1h-1zM141 63h2v1h-2zM33 64h2v1h-2zM56 64h1v1h-1zM68 64h1v1h-1zM112 64h1v1h-1zM124 64h1v1h-1zM146 64h2v1h-2zM26 65h3v1h-3zM53 65h1v1h-1zM127 65h1v1h-1zM152 65h3v1h-3zM16 66h4v1h-4zM49 66h2v1h-2zM130 66h2v1h-2zM161 66h4v1h-4zM46 67h2v1h-2zM63 67h1v1h-1zM117 67h1v1h-1zM133 67h2v1h-2zM42 68h2v1h-2zM137 68h2v1h-2zM40 69h1v1h-1zM59 69h1v1h-1zM121 69h1v1h-1zM140 69h1v1h-1zM38 70h1v1h-1zM57 70h1v1h-1zM123 70h1v1h-1zM142 70h1v1h-1zM36 71h2v1h-2zM143 71h2v1h-2zM35 72h1v1h-1zM54 72h1v1h-1zM126 72h1v1h-1zM145 72h1v1h-1zM35 73h1v1h-1zM53 73h1v1h-1zM127 73h1v1h-1zM145 73h1v1h-1zM20 74h2v1h-2zM46 74h1v1h-1zM134 74h1v1h-1zM159 74h2v1h-2zM33 75h2v1h-2zM146 75h2v1h-2z"/>
<path fill="#f1b94a" d="M80 2h1v1h-1zM100 2h1v1h-1zM80 3h1v1h-1zM100 3h1v1h-1zM80 4h1v1h-1zM100 4h1v1h-1zM80 5h1v1h-1zM100 5h1v1h-1zM80 6h1v1h-1zM100 6h1v1h-1zM79 15h1v1h-1zM101 15h1v1h-1zM79 16h1v1h-1zM101 16h1v1h-1zM79 17h1v1h-1zM101 17h1v1h-1zM79 18h1v1h-1zM101 18h1v1h-1zM78 25h1v1h-1zM102 25h1v1h-1zM78 26h1v1h-1zM102 26h1v1h-1zM78 27h1v1h-1zM102 27h1v1h-1zM78 28h1v1h-1zM102 28h1v1h-1zM77 34h1v1h-1zM103 34h1v1h-1zM77 35h1v1h-1zM103 35h1v1h-1zM77 36h1v1h-1zM103 36h1v1h-1zM76 42h1v1h-1zM104 42h1v1h-1zM76 43h1v1h-1zM104 43h1v1h-1zM76 44h1v1h-1zM104 44h1v1h-1zM75 50h1v1h-1zM105 50h1v1h-1zM75 51h1v1h-1zM105 51h1v1h-1zM75 52h1v1h-1zM105 52h1v1h-1zM74 57h1v1h-1zM106 57h1v1h-1zM73 58h1v1h-1zM107 58h1v1h-1zM-2 59h23v1h-23zM55 59h4v1h-4zM122 59h4v1h-4zM160 59h23v1h-23zM-2 60h19v1h-19zM52 60h7v1h-7zM72 60h1v1h-1zM108 60h1v1h-1zM122 60h7v1h-7zM164 60h19v1h-19zM-2 61h14v1h-14zM48 61h2v1h-2zM57 61h2v1h-2zM122 61h2v1h-2zM131 61h2v1h-2zM169 61h14v1h-14zM44 62h2v1h-2zM56 62h2v1h-2zM123 62h2v1h-2zM135 62h2v1h-2zM40 63h1v1h-1zM56 63h2v1h-2zM70 63h1v1h-1zM110 63h1v1h-1zM123 63h2v1h-2zM140 63h1v1h-1zM35 64h2v1h-2zM54 64h2v1h-2zM125 64h2v1h-2zM144 64h2v1h-2zM29 65h2v1h-2zM52 65h1v1h-1zM67 65h1v1h-1zM113 65h1v1h-1zM128 65h1v1h-1zM150 65h2v1h-2zM20 66h4v1h-4zM47 66h2v1h-2zM65 66h1v1h-1zM115 66h1v1h-1zM132 66h2v1h-2zM157 66h4v1h-4zM-2 67h10v1h-10zM44 67h2v1h-2zM135 67h2v1h-2zM173 67h10v1h-10zM40 68h2v1h-2zM61 68h1v1h-1zM119 68h1v1h-1zM139 68h2v1h-2zM38 69h2v1h-2zM141 69h2v1h-2zM36 70h2v1h-2zM58 70h1v1h-1zM122 70h1v1h-1zM143 70h2v1h-2zM35 71h1v1h-1zM56 71h1v1h-1zM124 71h1v1h-1zM145 71h1v1h-1zM34 72h1v1h-1zM55 72h1v1h-1zM125 72h1v1h-1zM146 72h1v1h-1zM34 73h1v1h-1zM54 73h1v1h-1zM126 73h1v1h-1zM146 73h1v1h-1zM17 74h3v1h-3zM47 74h1v1h-1zM133 74h1v1h-1zM161 74h3v1h-3zM35 75h2v1h-2zM144 75h2v1h-2z"/>
<path fill="#f8bb44" d="M80 7h1v1h-1zM100 7h1v1h-1zM80 8h1v1h-1zM100 8h1v1h-1zM80 9h1v1h-1zM100 9h1v1h-1zM80 10h1v1h-1zM100 10h1v1h-1zM80 11h1v1h-1zM100 11h1v1h-1zM80 12h1v1h-1zM100 12h1v1h-1zM79 19h1v1h-1zM101 19h1v1h-1zM79 20h1v1h-1zM101 20h1v1h-1zM79 21h1v1h-1zM101 21h1v1h-1zM79 22h1v1h-1zM101 22h1v1h-1zM79 23h1v1h-1zM101 23h1v1h-1zM78 29h1v1h-1zM102 29h1v1h-1zM78 30h1v1h-1zM102 30h1v1h-1zM78 31h1v1h-1zM102 31h1v1h-1zM78 32h1v1h-1zM102 32h1v1h-1zM77 37h1v1h-1zM103 37h1v1h-1zM77 38h1v1h-1zM103 38h1v1h-1zM77 39h1v1h-1zM103 39h1v1h-1zM77 40h1v1h-1zM103 40h1v1h-1zM76 45h1v1h-1zM104 45h1v1h-1zM76 46h1v1h-1zM104 46h1v1h-1zM76 47h1v1h-1zM104 47h1v1h-1zM76 48h1v1h-1zM104 48h1v1h-1zM75 53h1v1h-1zM105 53h1v1h-1zM75 54h1v1h-1zM105 54h1v1h-1zM75 55h1v1h-1zM105 55h1v1h-1zM75 56h1v1h-1zM105 56h1v1h-1zM73 59h1v1h-1zM107 59h1v1h-1zM50 61h7v1h-7zM72 61h1v1h-1zM108 61h1v1h-1zM124 61h7v1h-7zM46 62h10v1h-10zM71 62h1v1h-1zM109 62h1v1h-1zM125 62h10v1h-10zM41 63h3v1h-3zM54 63h2v1h-2zM125 63h2v1h-2zM137 63h3v1h-3zM37 64h3v1h-3zM52 64h2v1h-2zM69 64h1v1h-1zM111 64h1v1h-1zM127 64h2v1h-2zM141 64h3v1h-3zM31 65h4v1h-4zM49 65h3v1h-3zM68 65h1v1h-1zM112 65h1v1h-1zM129 65h3v1h-3zM146 65h4v1h-4zM24 66h5v1h-5zM45 66h2v1h-2zM66 66h1v1h-1zM114 66h1v1h-1zM134 66h2v1h-2zM152 66h5v1h-5zM8 67h10v1h-10zM41 67h3v1h-3zM64 67h1v1h-1zM116 67h1v1h-1zM137 67h3v1h-3zM163 67h10v1h-10zM37 68h3v1h-3zM62 68h1v1h-1zM118 68h1v1h-1zM141 68h3v1h-3zM35 69h3v1h-3zM60 69h1v1h-1zM120 69h1v1h-1zM143 69h3v1h-3zM34 70h2v1h-2zM59 70h1v1h-1zM121 70h1v1h-1zM145 70h2v1h-2zM33 71h2v1h-2zM57 71h1v1h-1zM123 71h1v1h-1zM146 71h2v1h-2zM32 72h2v1h-2zM56 72h1v1h-1zM124 72h1v1h-1zM147 72h2v1h-2zM32 73h2v1h-2zM55 73h1v1h-1zM125 73h1v1h-1zM147 73h2v1h-2zM13 74h4v1h-4zM48 74h2v1h-2zM131 74h2v1h-2zM164 74h4v1h-4zM37 75h2v1h-2zM142 75h2v1h-2zM-2 76h14v1h-14zM169 76h14v1h-14z"/>
<path fill="#fdbe3d" d="M81 -2h1v1h-1zM99 -2h1v1h-1zM81 -1h1v1h-1zM99 -1h1v1h-1zM81 0h1v1h-1zM99 0h1v1h-1zM81 1h1v1h-1zM99 1h1v1h-1zM81 2h1v1h-1zM99 2h1v1h-1zM81 3h1v1h-1zM99 3h1v1h-1zM80 13h1v1h-1zM100 13h1v1h-1zM80 14h1v1h-1zM100 14h1v1h-1zM80 15h1v1h-1zM100 15h1v1h-1zM80 16h1v1h-1zM100 16h1v1h-1zM80 17h1v1h-1zM100 17h1v1h-1zM79 24h1v1h-1zM101 24h1v1h-1zM79 25h1v1h-1zM101 25h1v1h-1zM79 26h1v1h-1zM101 26h1v1h-1zM79 27h1v1h-1zM101 27h1v1h-1zM79 28h1v1h-1zM101 28h1v1h-1zM78 33h1v1h-1zM102 33h1v1h-1zM78 34h1v1h-1zM102 34h1v1h-1zM78 35h1v1h-1zM102 35h1v1h-1zM78 36h1v1h-1zM102 36h1v1h-1zM77 41h1v1h-1zM103 41h1v1h-1zM77 42h1v1h-1zM103 42h1v1h-1zM77 43h1v1h-1zM103 43h1v1h-1zM77 44h1v1h-1zM103 44h1v1h-1zM76 49h1v1h-1zM104 49h1v1h-1zM76 50h1v1h-1zM104 50h1v1h-1zM76 51h1v1h-1zM104 51h1v1h-1zM76 52h1v1h-1zM104 52h1v1h-1zM75 57h1v1h-1zM105 57h1v1h-1zM74 58h1v1h-1zM106 58h1v1h-1zM73 60h1v1h-1zM107 60h1v1h-1zM72 62h1v1h-1zM108 62h1v1h-1zM44 63h10v1h-10zM71 63h1v1h-1zM109 63h1v1h-1zM127 63h10v1h-10zM40 64h12v1h-12zM70 64h1v1h-1zM110 64h1v1h-1zM129 64h12v1h-12zM35 65h6v1h-6zM44 65h5v1h-5zM132 65h5v1h-5zM140 65h6v1h-6zM29 66h16v1h-16zM67 66h1v1h-1zM113 66h1v1h-1zM136 66h16v1h-16zM18 67h12v1h-12zM33 67h8v1h-8zM65 67h1v1h-1zM115 67h1v1h-1zM140 67h8v1h-8zM151 67h12v1h-12zM-2 68h13v1h-13zM31 68h6v1h-6zM63 68h1v1h-1zM117 68h1v1h-1zM144 68h6v1h-6zM170 68h13v1h-13zM31 69h4v1h-4zM61 69h1v1h-1zM119 69h1v1h-1zM146 69h4v1h-4zM30 70h4v1h-4zM60 70h1v1h-1zM120 70h1v1h-1zM147 70h4v1h-4zM30 71h3v1h-3zM58 71h1v1h-1zM122 71h1v1h-1zM148 71h3v1h-3zM29 72h3v1h-3zM57 72h1v1h-1zM123 72h1v1h-1zM149 72h3v1h-3zM30 73h2v1h-2zM56 73h1v1h-1zM124 73h1v1h-1zM149 73h2v1h-2zM7 74h6v1h-6zM50 74h1v1h-1zM130 74h1v1h-1zM168 74h6v1h-6zM39 75h2v1h-2zM140 75h2v1h-2zM12 76h6v1h-6zM163 76h6v1h-6z"/>
<path fill="#ffc337" d="M81 4h1v1h-1zM99 4h1v1h-1zM81 5h1v1h-1zM99 5h1v1h-1zM81 6h1v1h-1zM99 6h1v1h-1zM81 7h1v1h-1zM99 7h1v1h-1zM81 8h1v1h-1zM99 8h1v1h-1zM81 9h1v1h-1zM99 9h1v1h-1zM81 10h1v1h-1zM99 10h1v1h-1zM80 18h1v1h-1zM100 18h1v1h-1zM80 19h1v1h-1zM100 19h1v1h-1zM80 20h1v1h-1zM100 20h1v1h-1zM80 21h1v1h-1zM100 21h1v1h-1zM80 22h1v1h-1zM100 22h1v1h-1zM80 23h1v1h-1zM100 23h1v1h-1zM79 29h1v1h-1zM101 29h1v1h-1zM79 30h1v1h-1zM101 30h1v1h-1zM79 31h1v1h-1zM101 31h1v1h-1zM79 32h1v1h-1zM101 32h1v1h-1zM78 37h1v1h-1zM102 37h1v1h-1zM78 38h1v1h-1zM102 38h1v1h-1zM78 39h1v1h-1zM102 39h1v1h-1zM78 40h1v1h-1zM102 40h1v1h-1zM78 41h1v1h-1zM102 41h1v1h-1zM77 45h1v1h-1zM103 45h1v1h-1zM77 46h1v1h-1zM103 46h1v1h-1zM77 47h1v1h-1zM103 47h1v1h-1zM77 48h1v1h-1zM103 48h1v1h-1zM77 49h1v1h-1zM103 49h1v1h-1zM76 53h1v1h-1zM104 53h1v1h-1zM76 54h1v1h-1zM104 54h1v1h-1zM76 55h1v1h-1zM104 55h1v1h-1zM76 56h1v1h-1zM104 56h1v1h-1zM75 58h1v1h-1zM105 58h1v1h-1zM74 59h1v1h-1zM106 59h1v1h-1zM73 61h1v1h-1zM107 61h1v1h-1zM72 63h1v1h-1zM108 63h1v1h-1zM71 64h1v1h-1zM109 64h1v1h-1zM41 65h3v1h-3zM69 65h1v1h-1zM111 65h1v1h-1zM137 65h3v1h-3zM68 66h1v1h-1zM112 66h1v1h-1zM30 67h3v1h-3zM66 67h1v1h-1zM114 67h1v1h-1zM148 67h3v1h-3zM11 68h20v1h-20zM64 68h1v1h-1zM116 68h1v1h-1zM150 68h20v1h-20zM23 69h8v1h-8zM62 69h2v1h-2zM117 69h2v1h-2zM150 69h8v1h-8zM26 70h4v1h-4zM61 70h1v1h-1zM119 70h1v1h-1zM151 70h4v1h-4zM27 71h3v1h-3zM59 71h2v1h-2zM120 71h2v1h-2zM151 71h3v1h-3zM27 72h2v1h-2zM58 72h1v1h-1zM122 72h1v1h-1zM152 72h2v1h-2zM28 73h2v1h-2zM57 73h1v1h-1zM123 73h1v1h-1zM151 73h2v1h-2zM-2 74h9v1h-9zM51 74h2v1h-2zM128 74h2v1h-2zM174 74h9v1h-9zM41 75h2v1h-2zM138 75h2v1h-2zM18 76h6v1h-6zM157 76h6v1h-6z"/>
<path fill="#fec832" d="M82 -2h1v1h-1zM98 -2h1v1h-1zM82 -1h1v1h-1zM98 -1h1v1h-1zM82 0h1v1h-1zM98 0h1v1h-1zM82 1h1v1h-1zM98 1h1v1h-1zM82 2h1v1h-1zM98 2h1v1h-1zM81 11h1v1h-1zM99 11h1v1h-1zM81 12h1v1h-1zM99 12h1v1h-1zM81 13h1v1h-1zM99 13h1v1h-1zM81 14h1v1h-1zM99 14h1v1h-1zM81 15h1v1h-1zM99 15h1v1h-1zM81 16h1v1h-1zM99 16h1v1h-1zM81 17h1v1h-1zM99 17h1v1h-1zM80 24h1v1h-1zM100 24h1v1h-1zM80 25h1v1h-1zM100 25h1v1h-1zM80 26h1v1h-1zM100 26h1v1h-1zM80 27h1v1h-1zM100 27h1v1h-1zM80 28h1v1h-1zM100 28h1v1h-1zM79 33h1v1h-1zM101 33h1v1h-1zM79 34h1v1h-1zM101 34h1v1h-1zM79 35h1v1h-1zM101 35h1v1h-1zM79 36h1v1h-1zM101 36h1v1h-1zM79 37h1v1h-1zM101 37h1v1h-1zM78 42h1v1h-1zM102 42h1v1h-1zM78 43h1v1h-1zM102 43h1v1h-1zM78 44h1v1h-1zM102 44h1v1h-1zM78 45h1v1h-1zM102 45h1v1h-1zM78 46h1v1h-1zM102 46h1v1h-1zM77 50h1v1h-1zM103 50h1v1h-1zM77 51h1v1h-1zM103 51h1v1h-1zM77 52h1v1h-1zM103 52h1v1h-1zM77 53h1v1h-1zM103 53h1v1h-1zM77 54h1v1h-1zM103 54h1v1h-1zM76 57h1v1h-1zM104 57h1v1h-1zM75 59h1v1h-1zM105 59h1v1h-1zM74 60h1v1h-1zM106 60h1v1h-1zM74 61h1v1h-1zM106 61h1v1h-1zM73 62h1v1h-1zM107 62h1v1h-1zM70 65h1v1h-1zM110 65h1v1h-1zM69 66h1v1h-1zM111 66h1v1h-1zM67 67h1v1h-1zM113 67h1v1h-1zM65 68h1v1h-1zM115 68h1v1h-1zM-2 69h25v1h-25zM64 69h1v1h-1zM116 69h1v1h-1zM158 69h25v1h-25zM17 70h9v1h-9zM62 70h1v1h-1zM118 70h1v1h-1zM155 70h9v1h-9zM22 71h5v1h-5zM61 71h1v1h-1zM119 71h1v1h-1zM154 71h5v1h-5zM23 72h4v1h-4zM59 72h2v1h-2zM120 72h2v1h-2zM154 72h4v1h-4zM25 73h3v1h-3zM58 73h2v1h-2zM121 73h2v1h-2zM153 73h3v1h-3zM53 74h1v1h-1zM127 74h1v1h-1zM43 75h3v1h-3zM135 75h3v1h-3zM24 76h4v1h-4zM153 76h4v1h-4z"/>
<path fill="#fcce2e" d="M82 3h1v1h-1zM98 3h1v1h-1zM82 4h1v1h-1zM98 4h1v1h-1zM82 5h1v1h-1zM98 5h1v1h-1zM82 6h1v1h-1zM98 6h1v1h-1zM82 7h1v1h-1zM98 7h1v1h-1zM82 8h1v1h-1zM98 8h1v1h-1zM82 9h1v1h-1zM98 9h1v1h-1zM82 10h1v1h-1zM98 10h1v1h-1zM81 18h1v1h-1zM99 18h1v1h-1zM81 19h1v1h-1zM99 19h1v1h-1zM81 20h1v1h-1zM99 20h1v1h-1zM81 21h1v1h-1zM99 21h1v1h-1zM81 22h1v1h-1zM99 22h1v1h-1zM81 23h1v1h-1zM99 23h1v1h-1zM81 24h1v1h-1zM99 24h1v1h-1zM80 29h1v1h-1zM100 29h1v1h-1zM80 30h1v1h-1zM100 30h1v1h-1zM80 31h1v1h-1zM100 31h1v1h-1zM80 32h1v1h-1zM100 32h1v1h-1zM80 33h1v1h-1zM100 33h1v1h-1zM80 34h1v1h-1zM100 34h1v1h-1zM79 38h1v1h-1zM101 38h1v1h-1zM79 39h1v1h-1zM101 39h1v1h-1zM79 40h1v1h-1zM101 40h1v1h-1zM79 41h1v1h-1zM101 41h1v1h-1zM79 42h1v1h-1zM101 42h1v1h-1zM79 43h1v1h-1zM101 43h1v1h-1zM78 47h1v1h-1zM102 47h1v1h-1zM78 48h1v1h-1zM102 48h1v1h-1zM78 49h1v1h-1zM102 49h1v1h-1zM78 50h1v1h-1zM102 50h1v1h-1zM78 51h1v1h-1zM102 51h1v1h-1zM77 55h1v1h-1zM103 55h1v1h-1zM77 56h1v1h-1zM103 56h1v1h-1zM77 57h1v1h-1zM103 57h1v1h-1zM76 58h1v1h-1zM104 58h1v1h-1zM76 59h1v1h-1zM104 59h1v1h-1zM75 60h1v1h-1zM105 60h1v1h-1zM75 61h1v1h-1zM105 61h1v1h-1zM74 62h1v1h-1zM106 62h1v1h-1zM73 63h1v1h-1zM107 63h1v1h-1zM72 64h1v1h-1zM108 64h1v1h-1zM71 65h1v1h-1zM109 65h1v1h-1zM70 66h1v1h-1zM110 66h1v1h-1zM68 67h1v1h-1zM112 67h1v1h-1zM66 68h2v1h-2zM113 68h2v1h-2zM65 69h1v1h-1zM115 69h1v1h-1zM-2 70h19v1h-19zM63 70h2v1h-2zM116 70h2v1h-2zM164 70h19v1h-19zM13 71h9v1h-9zM62 71h1v1h-1zM118 71h1v1h-1zM159 71h9v1h-9zM17 72h6v1h-6zM61 72h1v1h-1zM119 72h1v1h-1zM158 72h6v1h-6zM21 73h4v1h-4zM60 73h1v1h-1zM120 73h1v1h-1zM156 73h4v1h-4zM54 74h2v1h-2zM125 74h2v1h-2zM46 75h2v1h-2zM133 75h2v1h-2zM28 76h5v1h-5zM148 76h5v1h-5z"/>
<path fill="#fad32a" d="M83 -2h1v1h-1zM97 -2h1v1h-1zM83 -1h1v1h-1zM97 -1h1v1h-1zM83 0h1v1h-1zM97 0h1v1h-1zM83 1h1v1h-1zM97 1h1v1h-1zM83 2h1v1h-1zM97 2h1v1h-1zM82 11h1v1h-1zM98 11h1v1h-1zM82 12h1v1h-1zM98 12h1v1h-1zM82 13h1v1h-1zM98 13h1v1h-1zM82 14h1v1h-1zM98 14h1v1h-1zM82 15h1v1h-1zM98 15h1v1h-1zM82 16h1v1h-1zM98 16h1v1h-1zM82 17h1v1h-1zM98 17h1v1h-1zM82 18h1v1h-1zM98 18h1v1h-1zM82 19h1v1h-1zM98 19h1v1h-1zM81 25h1v1h-1zM99 25h1v1h-1zM81 26h1v1h-1zM99 26h1v1h-1zM81 27h1v1h-1zM99 27h1v1h-1zM81 28h1v1h-1zM99 28h1v1h-1zM81 29h1v1h-1zM99 29h1v1h-1zM81 30h1v1h-1zM99 30h1v1h-1zM81 31h1v1h-1zM99 31h1v1h-1zM80 35h1v1h-1zM100 35h1v1h-1zM80 36h1v1h-1zM100 36h1v1h-1zM80 37h1v1h-1zM100 37h1v1h-1zM80 38h1v1h-1zM100 38h1v1h-1zM80 39h1v1h-1zM100 39h1v1h-1zM80 40h1v1h-1zM100 40h1v1h-1zM80 41h1v1h-1zM100 41h1v1h-1zM79 44h1v1h-1zM101 44h1v1h-1zM79 45h1v1h-1zM101 45h1v1h-1zM79 46h1v1h-1zM101 46h1v1h-1zM79 47h1v1h-1zM101 47h1v1h-1zM79 48h1v1h-1zM101 48h1v1h-1zM79 49h1v1h-1zM101 49h1v1h-1zM79 50h1v1h-1zM101 50h1v1h-1zM78 52h1v1h-1zM102 52h1v1h-1zM78 53h1v1h-1zM102 53h1v1h-1zM78 54h1v1h-1zM102 54h1v1h-1zM78 55h1v1h-1zM102 55h1v1h-1zM78 56h1v1h-1zM102 56h1v1h-1zM77 58h1v1h-1zM103 58h1v1h-1zM76 60h1v1h-1zM104 60h1v1h-1zM75 62h1v1h-1zM105 62h1v1h-1zM74 63h1v1h-1zM106 63h1v1h-1zM73 64h1v1h-1zM107 64h1v1h-1zM72 65h1v1h-1zM108 65h1v1h-1zM71 66h1v1h-1zM109 66h1v1h-1zM69 67h2v1h-2zM110 67h2v1h-2zM68 68h1v1h-1zM112 68h1v1h-1zM66 69h2v1h-2zM113 69h2v1h-2zM65 70h1v1h-1zM115 70h1v1h-1zM-2 71h15v1h-15zM63 71h2v1h-2zM116 71h2v1h-2zM168 71h15v1h-15zM6 72h11v1h-11zM62 72h2v1h-2zM117 72h2v1h-2zM164 72h11v1h-11zM16 73h5v1h-5zM61 73h2v1h-2zM118 73h2v1h-2zM160 73h5v1h-5zM56 74h3v1h-3zM122 74h3v1h-3zM48 75h3v1h-3zM130 75h3v1h-3zM33 76h5v1h-5zM143 76h5v1h-5z"/>
<path fill="#f7d826" d="M83 3h1v1h-1zM97 3h1v1h-1zM83 4h1v1h-1zM97 4h1v1h-1zM83 5h1v1h-1zM97 5h1v1h-1zM83 6h1v1h-1zM97 6h1v1h-1zM83 7h1v1h-1zM97 7h1v1h-1zM83 8h1v1h-1zM97 8h1v1h-1zM83 9h1v1h-1zM97 9h1v1h-1zM83 10h1v1h-1zM97 10h1v1h-1zM83 11h1v1h-1zM97 11h1v1h-1zM83 12h1v1h-1zM97 12h1v1h-1zM83 13h1v1h-1zM97 13h1v1h-1zM83 14h1v1h-1zM97 14h1v1h-1zM82 20h1v1h-1zM98 20h1v1h-1zM82 21h1v1h-1zM98 21h1v1h-1zM82 22h1v1h-1zM98 22h1v1h-1zM82 23h1v1h-1zM98 23h1v1h-1zM82 24h1v1h-1zM98 24h1v1h-1zM82 25h1v1h-1zM98 25h1v1h-1zM82 26h1v1h-1zM98 26h1v1h-1zM82 27h1v1h-1zM98 27h1v1h-1zM82 28h1v1h-1zM98 28h1v1h-1zM81 32h1v1h-1zM99 32h1v1h-1zM81 33h1v1h-1zM99 33h1v1h-1zM81 34h1v1h-1zM99 34h1v1h-1zM81 35h1v1h-1zM99 35h1v1h-1zM81 36h1v1h-1zM99 36h1v1h-1zM81 37h1v1h-1zM99 37h1v1h-1zM81 38h1v1h-1zM99 38h1v1h-1zM81 39h1v1h-1zM99 39h1v1h-1zM80 42h1v1h-1zM100 42h1v1h-1zM80 43h1v1h-1zM100 43h1v1h-1zM80 44h1v1h-1zM100 44h1v1h-1zM80 45h1v1h-1zM100 45h1v1h-1zM80 46h1v1h-1zM100 46h1v1h-1zM80 47h1v1h-1zM100 47h1v1h-1zM80 48h1v1h-1zM100 48h1v1h-1zM80 49h1v1h-1zM100 49h1v1h-1zM79 51h1v1h-1zM101 51h1v1h-1zM79 52h1v1h-1zM101 52h1v1h-1zM79 53h1v1h-1zM101 53h1v1h-1zM79 54h1v1h-1zM101 54h1v1h-1zM79 55h1v1h-1zM101 55h1v1h-1zM79 56h1v1h-1zM101 56h1v1h-1zM78 57h1v1h-1zM102 57h1v1h-1zM78 58h1v1h-1zM102 58h1v1h-1zM77 59h1v1h-1zM103 59h1v1h-1zM77 60h1v1h-1zM103 60h1v1h-1zM76 61h2v1h-2zM103 61h2v1h-2zM76 62h1v1h-1zM104 62h1v1h-1zM75 63h2v1h-2zM104 63h2v1h-2zM74 64h2v1h-2zM105 64h2v1h-2zM73 65h2v1h-2zM106 65h2v1h-2zM72 66h1v1h-1zM108 66h1v1h-1zM71 67h1v1h-1zM109 67h1v1h-1zM69 68h2v1h-2zM110 68h2v1h-2zM68 69h1v1h-1zM112 69h1v1h-1zM66 70h2v1h-2zM113 70h2v1h-2zM65 71h2v1h-2zM114 71h2v1h-2zM-2 72h8v1h-8zM64 72h2v1h-2zM115 72h2v1h-2zM175 72h8v1h-8zM3 73h13v1h-13zM63 73h2v1h-2zM116 73h2v1h-2zM165 73h13v1h-13zM59 74h2v1h-2zM120 74h2v1h-2zM51 75h3v1h-3zM127 75h3v1h-3zM38 76h5v1h-5zM138 76h5v1h-5zM-2 77h13v1h-13zM170 77h13v1h-13z"/>
<path fill="#f5de21" d="M84 -2h1v1h-1zM96 -2h1v1h-1zM84 -1h1v1h-1zM96 -1h1v1h-1zM84 0h1v1h-1zM96 0h1v1h-1zM84 1h1v1h-1zM96 1h1v1h-1zM84 2h1v1h-1zM96 2h1v1h-1zM84 3h1v1h-1zM96 3h1v1h-1zM84 4h1v1h-1zM96 4h1v1h-1zM84 5h1v1h-1zM96 5h1v1h-1zM84 6h1v1h-1zM96 6h1v1h-1zM84 7h1v1h-1zM96 7h1v1h-1zM84 8h1v1h-1zM96 8h1v1h-1zM83 15h1v1h-1zM97 15h1v1h-1zM83 16h1v1h-1zM97 16h1v1h-1zM83 17h1v1h-1zM97 17h1v1h-1zM83 18h1v1h-1zM97 18h1v1h-1zM83 19h1v1h-1zM97 19h1v1h-1zM83 20h1v1h-1zM97 20h1v1h-1zM83 21h1v1h-1zM97 21h1v1h-1zM83 22h1v1h-1zM97 22h1v1h-1zM83 23h1v1h-1zM97 23h1v1h-1zM83 24h1v1h-1zM97 24h1v1h-1zM83 25h1v1h-1zM97 25h1v1h-1zM83 26h1v1h-1zM97 26h1v1h-1zM82 29h1v1h-1zM98 29h1v1h-1zM82 30h1v1h-1zM98 30h1v1h-1zM82 31h1v1h-1zM98 31h1v1h-1zM82 32h1v1h-1zM98 32h1v1h-1zM82 33h1v1h-1zM98 33h1v1h-1zM82 34h1v1h-1zM98 34h1v1h-1zM82 35h1v1h-1zM98 35h1v1h-1zM82 36h1v1h-1zM98 36h1v1h-1zM82 37h1v1h-1zM98 37h1v1h-1zM82 38h1v1h-1zM98 38h1v1h-1zM81 40h1v1h-1zM99 40h1v1h-1zM81 41h1v1h-1zM99 41h1v1h-1zM81 42h1v1h-1zM99 42h1v1h-1zM81 43h1v1h-1zM99 43h1v1h-1zM81 44h1v1h-1zM99 44h1v1h-1zM81 45h1v1h-1zM99 45h1v1h-1zM81 46h1v1h-1zM99 46h1v1h-1zM81 47h1v1h-1zM99 47h1v1h-1zM81 48h1v1h-1zM99 48h1v1h-1zM80 50h1v1h-1zM100 50h1v1h-1zM80 51h1v1h-1zM100 51h1v1h-1zM80 52h1v1h-1zM100 52h1v1h-1zM80 53h1v1h-1zM100 53h1v1h-1zM80 54h1v1h-1zM100 54h1v1h-1zM80 55h1v1h-1zM100 55h1v1h-1zM80 56h1v1h-1zM100 56h1v1h-1zM79 57h1v1h-1zM101 57h1v1h-1zM79 58h1v1h-1zM101 58h1v1h-1zM78 59h2v1h-2zM101 59h2v1h-2zM78 60h1v1h-1zM102 60h1v1h-1zM78 61h1v1h-1zM102 61h1v1h-1zM77 62h1v1h-1zM103 62h1v1h-1zM77 63h1v1h-1zM103 63h1v1h-1zM76 64h1v1h-1zM104 64h1v1h-1zM75 65h1v1h-1zM105 65h1v1h-1zM73 66h2v1h-2zM106 66h2v1h-2zM72 67h2v1h-2zM107 67h2v1h-2zM71 68h2v1h-2zM108 68h2v1h-2zM69 69h3v1h-3zM109 69h3v1h-3zM68 70h2v1h-2zM111 70h2v1h-2zM67 71h2v1h-2zM112 71h2v1h-2zM66 72h2v1h-2zM113 72h2v1h-2zM-2 73h5v1h-5zM65 73h3v1h-3zM113 73h3v1h-3zM178 73h5v1h-5zM61 74h3v1h-3zM117 74h3v1h-3zM54 75h4v1h-4zM123 75h4v1h-4zM43 76h5v1h-5zM133 76h5v1h-5zM11 77h16v1h-16zM154 77h16v1h-16z"/>
<path fill="#f5e41d" d="M85 -2h1v1h-1zM95 -2h1v1h-1zM85 -1h1v1h-1zM95 -1h1v1h-1zM85 0h1v1h-1zM95 0h1v1h-1zM85 1h1v1h-1zM95 1h1v1h-1zM85 2h1v1h-1zM95 2h1v1h-1zM85 3h1v1h-1zM95 3h1v1h-1zM84 9h1v1h-1zM96 9h1v1h-1zM84 10h1v1h-1zM96 10h1v1h-1zM84 11h1v1h-1zM96 11h1v1h-1zM84 12h1v1h-1zM96 12h1v1h-1zM84 13h1v1h-1zM96 13h1v1h-1zM84 14h1v1h-1zM96 14h1v1h-1zM84 15h1v1h-1zM96 15h1v1h-1zM84 16h1v1h-1zM96 16h1v1h-1zM84 17h1v1h-1zM96 17h1v1h-1zM84 18h1v1h-1zM96 18h1v1h-1zM84 19h1v1h-1zM96 19h1v1h-1zM84 20h1v1h-1zM96 20h1v1h-1zM84 21h1v1h-1zM96 21h1v1h-1zM84 22h1v1h-1zM96 22h1v1h-1zM84 23h1v1h-1zM96 23h1v1h-1zM84 24h1v1h-1zM96 24h1v1h-1zM83 27h1v1h-1zM97 27h1v1h-1zM83 28h1v1h-1zM97 28h1v1h-1zM83 29h1v1h-1zM97 29h1v1h-1zM83 30h1v1h-1zM97 30h1v1h-1zM83 31h1v1h-1zM97 31h1v1h-1zM83 32h1v1h-1zM97 32h1v1h-1zM83 33h1v1h-1zM97 33h1v1h-1zM83 34h1v1h-1zM97 34h1v1h-1zM83 35h1v1h-1zM97 35h1v1h-1zM83 36h1v1h-1zM97 36h1v1h-1zM83 37h1v1h-1zM97 37h1v1h-1zM83 38h1v1h-1zM97 38h1v1h-1zM82 39h1v1h-1zM98 39h1v1h-1zM82 40h1v1h-1zM98 40h1v1h-1zM82 41h1v1h-1zM98 41h1v1h-1zM82 42h1v1h-1zM98 42h1v1h-1zM82 43h1v1h-1zM98 43h1v1h-1zM82 44h1v1h-1zM98 44h1v1h-1zM82 45h1v1h-1zM98 45h1v1h-1zM82 46h1v1h-1zM98 46h1v1h-1zM82 47h1v1h-1zM98 47h1v1h-1zM82 48h1v1h-1zM98 48h1v1h-1zM81 49h2v1h-2zM98 49h2v1h-2zM81 50h2v1h-2zM98 50h2v1h-2zM81 51h1v1h-1zM99 51h1v1h-1zM81 52h1v1h-1zM99 52h1v1h-1zM81 53h1v1h-1zM99 53h1v1h-1zM81 54h1v1h-1zM99 54h1v1h-1zM81 55h1v1h-1zM99 55h1v1h-1zM81 56h1v1h-1zM99 56h1v1h-1zM80 57h2v1h-2zM99 57h2v1h-2zM80 58h1v1h-1zM100 58h1v1h-1zM80 59h1v1h-1zM100 59h1v1h-1zM79 60h2v1h-2zM100 60h2v1h-2zM79 61h1v1h-1zM101 61h1v1h-1zM78 62h2v1h-2zM101 62h2v1h-2zM78 63h1v1h-1zM102 63h1v1h-1zM77 64h2v1h-2zM102 64h2v1h-2zM76 65h2v1h-2zM103 65h2v1h-2zM75 66h2v1h-2zM104 66h2v1h-2zM74 67h2v1h-2zM105 67h2v1h-2zM73 68h2v1h-2zM106 68h2v1h-2zM72 69h2v1h-2zM107 69h2v1h-2zM70 70h3v1h-3zM108 70h3v1h-3zM69 71h3v1h-3zM109 71h3v1h-3zM68 72h3v1h-3zM110 72h3v1h-3zM68 73h2v1h-2zM111 73h2v1h-2zM64 74h3v1h-3zM114 74h3v1h-3zM58 75h4v1h-4zM119 75h4v1h-4zM48 76h6v1h-6zM127 76h6v1h-6zM27 77h11v1h-11zM143 77h11v1h-11z"/>
<path fill="#f5eb18" d="M85 4h1v1h-1zM95 4h1v1h-1zM85 5h1v1h-1zM95 5h1v1h-1zM85 6h1v1h-1zM95 6h1v1h-1zM85 7h1v1h-1zM95 7h1v1h-1zM85 8h1v1h-1zM95 8h1v1h-1zM85 9h1v1h-1zM95 9h1v1h-1zM85 10h1v1h-1zM95 10h1v1h-1zM85 11h1v1h-1zM95 11h1v1h-1zM85 12h1v1h-1zM95 12h1v1h-1zM85 13h1v1h-1zM95 13h1v1h-1zM85 14h1v1h-1zM95 14h1v1h-1zM85 15h1v1h-1zM95 15h1v1h-1zM85 16h1v1h-1zM95 16h1v1h-1zM85 17h1v1h-1zM95 17h1v1h-1zM85 18h1v1h-1zM95 18h1v1h-1zM85 19h1v1h-1zM95 19h1v1h-1zM85 20h1v1h-1zM95 20h1v1h-1zM85 21h1v1h-1zM95 21h1v1h-1zM85 22h1v1h-1zM95 22h1v1h-1zM85 23h1v1h-1zM95 23h1v1h-1zM85 24h1v1h-1zM95 24h1v1h-1zM84 25h2v1h-2zM95 25h2v1h-2zM84 26h2v1h-2zM95 26h2v1h-2zM84 27h1v1h-1zM96 27h1v1h-1zM84 28h1v1h-1zM96 28h1v1h-1zM84 29h1v1h-1zM96 29h1v1h-1zM84 30h1v1h-1zM96 30h1v1h-1zM84 31h1v1h-1zM96 31h1v1h-1zM84 32h1v1h-1zM96 32h1v1h-1zM84 33h1v1h-1zM96 33h1v1h-1zM84 34h1v1h-1zM96 34h1v1h-1zM84 35h1v1h-1zM96 35h1v1h-1zM84 36h1v1h-1zM96 36h1v1h-1zM84 37h1v1h-1zM96 37h1v1h-1zM84 38h1v1h-1zM96 38h1v1h-1zM83 39h2v1h-2zM96 39h2v1h-2zM83 40h2v1h-2zM96 40h2v1h-2zM83 41h2v1h-2zM96 41h2v1h-2zM83 42h2v1h-2zM96 42h2v1h-2zM83 43h1v1h-1zM97 43h1v1h-1zM83 44h1v1h-1zM97 44h1v1h-1zM83 45h1v1h-1zM97 45h1v1h-1zM83 46h1v1h-1zM97 46h1v1h-1zM83 47h1v1h-1zM97 47h1v1h-1zM83 48h1v1h-1zM97 48h1v1h-1zM83 49h1v1h-1zM97 49h1v1h-1zM83 50h1v1h-1zM97 50h1v1h-1zM82 51h2v1h-2zM97 51h2v1h-2zM82 52h2v1h-2zM97 52h2v1h-2zM82 53h2v1h-2zM97 53h2v1h-2zM82 54h2v1h-2zM97 54h2v1h-2zM82 55h2v1h-2zM97 55h2v1h-2zM82 56h1v1h-1zM98 56h1v1h-1zM82 57h1v1h-1zM98 57h1v1h-1zM81 58h2v1h-2zM98 58h2v1h-2zM81 59h2v1h-2zM98 59h2v1h-2zM81 60h1v1h-1zM99 60h1v1h-1zM80 61h2v1h-2zM99 61h2v1h-2zM80 62h2v1h-2zM99 62h2v1h-2zM79 63h2v1h-2zM100 63h2v1h-2zM79 64h2v1h-2zM100 64h2v1h-2zM78 65h2v1h-2zM101 65h2v1h-2zM77 66h2v1h-2zM102 66h2v1h-2zM76 67h3v1h-3zM102 67h3v1h-3zM75 68h3v1h-3zM103 68h3v1h-3zM74 69h3v1h-3zM104 69h3v1h-3zM73 70h3v1h-3zM105 70h3v1h-3zM72 71h3v1h-3zM106 71h3v1h-3zM71 72h3v1h-3zM107 72h3v1h-3zM70 73h4v1h-4zM107 73h4v1h-4zM67 74h4v1h-4zM110 74h4v1h-4zM62 75h5v1h-5zM114 75h5v1h-5zM54 76h7v1h-7zM120 76h7v1h-7zM38 77h11v1h-11zM132 77h11v1h-11zM-2 78h12v1h-12zM171 78h12v1h-12z"/>
<path fill="#f6f313" d="M86 -2h2v1h-2zM93 -2h2v1h-2zM86 -1h2v1h-2zM93 -1h2v1h-2zM86 0h2v1h-2zM93 0h2v1h-2zM86 1h2v1h-2zM93 1h2v1h-2zM86 2h2v1h-2zM93 2h2v1h-2zM86 3h2v1h-2zM93 3h2v1h-2zM86 4h2v1h-2zM93 4h2v1h-2zM86 5h2v1h-2zM93 5h2v1h-2zM86 6h2v1h-2zM93 6h2v1h-2zM86 7h2v1h-2zM93 7h2v1h-2zM86 8h1v1h-1zM94 8h1v1h-1zM86 9h1v1h-1zM94 9h1v1h-1zM86 10h1v1h-1zM94 10h1v1h-1zM86 11h1v1h-1zM94 11h1v1h-1zM86 12h1v1h-1zM94 12h1v1h-1zM86 13h1v1h-1zM94 13h1v1h-1zM86 14h1v1h-1zM94 14h1v1h-1zM86 15h1v1h-1zM94 15h1v1h-1zM86 16h1v1h-1zM94 16h1v1h-1zM86 17h1v1h-1zM94 17h1v1h-1zM86 18h1v1h-1zM94 18h1v1h-1zM86 19h1v1h-1zM94 19h1v1h-1zM86 20h1v1h-1zM94 20h1v1h-1zM86 21h1v1h-1zM94 21h1v1h-1zM86 22h1v1h-1zM94 22h1v1h-1zM86 23h1v1h-1zM94 23h1v1h-1zM86 24h1v1h-1zM94 24h1v1h-1zM86 25h1v1h-1zM94 25h1v1h-1zM86 26h1v1h-1zM94 26h1v1h-1zM85 27h2v1h-2zM94 27h2v1h-2zM85 28h2v1h-2zM94 28h2v1h-2zM85 29h2v1h-2zM94 29h2v1h-2zM85 30h2v1h-2zM94 30h2v1h-2zM85 31h2v1h-2zM94 31h2v1h-2zM85 32h2v1h-2zM94 32h2v1h-2zM85 33h2v1h-2zM94 33h2v1h-2zM85 34h2v1h-2zM94 34h2v1h-2zM85 35h2v1h-2zM94 35h2v1h-2zM85 36h2v1h-2zM94 36h2v1h-2zM85 37h2v1h-2zM94 37h2v1h-2zM85 38h1v1h-1zM95 38h1v1h-1zM85 39h1v1h-1zM95 39h1v1h-1zM85 40h1v1h-1zM95 40h1v1h-1zM85 41h1v1h-1zM95 41h1v1h-1zM85 42h1v1h-1zM95 42h1v1h-1zM84 43h2v1h-2zM95 43h2v1h-2zM84 44h2v1h-2zM95 44h2v1h-2zM84 45h2v1h-2zM95 45h2v1h-2zM84 46h2v1h-2zM95 46h2v1h-2zM84 47h2v1h-2zM95 47h2v1h-2zM84 48h2v1h-2zM95 48h2v1h-2zM84 49h2v1h-2zM95 49h2v1h-2zM84 50h2v1h-2zM95 50h2v1h-2zM84 51h2v1h-2zM95 51h2v1h-2zM84 52h2v1h-2zM95 52h2v1h-2zM84 53h2v1h-2zM95 53h2v1h-2zM84 54h2v1h-2zM95 54h2v1h-2zM84 55h2v1h-2zM95 55h2v1h-2zM83 56h2v1h-2zM96 56h2v1h-2zM83 57h2v1h-2zM96 57h2v1h-2zM83 58h2v1h-2zM96 58h2v1h-2zM83 59h2v1h-2zM96 59h2v1h-2zM82 60h3v1h-3zM96 60h3v1h-3zM82 61h2v1h-2zM97 61h2v1h-2zM82 62h2v1h-2zM97 62h2v1h-2zM81 63h3v1h-3zM97 63h3v1h-3zM81 64h3v1h-3zM97 64h3v1h-3zM80 65h3v1h-3zM98 65h3v1h-3zM79 66h4v1h-4zM98 66h4v1h-4zM79 67h3v1h-3zM99 67h3v1h-3zM78 68h3v1h-3zM100 68h3v1h-3zM77 69h4v1h-4zM100 69h4v1h-4zM76 70h4v1h-4zM101 70h4v1h-4zM75 71h5v1h-5zM101 71h5v1h-5zM74 72h5v1h-5zM102 72h5v1h-5zM74 73h5v1h-5zM102 73h5v1h-5zM71 74h6v1h-6zM104 74h6v1h-6zM67 75h7v1h-7zM107 75h7v1h-7zM61 76h9v1h-9zM111 76h9v1h-9zM49 77h13v1h-13zM119 77h13v1h-13zM10 78h35v1h-35zM136 78h35v1h-35z"/>
<path fill="#f9fb0e" d="M88 -2h5v1h-5zM88 -1h5v1h-5zM88 0h5v1h-5zM88 1h5v1h-5zM88 2h5v1h-5zM88 3h5v1h-5zM88 4h5v1h-5zM88 5h5v1h-5zM88 6h5v1h-5zM88 7h5v1h-5zM87 8h7v1h-7zM87 9h7v1h-7zM87 10h7v1h-7zM87 11h7v1h-7zM87 12h7v1h-7zM87 13h7v1h-7zM87 14h7v1h-7zM87 15h7v1h-7zM87 16h7v1h-7zM87 17h7v1h-7zM87 18h7v1h-7zM87 19h7v1h-7zM87 20h7v1h-7zM87 21h7v1h-7zM87 22h7v1h-7zM87 23h7v1h-7zM87 24h7v1h-7zM87 25h7v1h-7zM87 26h7v1h-7zM87 27h7v1h-7zM87 28h7v1h-7zM87 29h7v1h-7zM87 30h7v1h-7zM87 31h7v1h-7zM87 32h7v1h-7zM87 33h7v1h-7zM87 34h7v1h-7zM87 35h7v1h-7zM87 36h7v1h-7zM87 37h7v1h-7zM86 38h9v1h-9zM86 39h9v1h-9zM86 40h9v1h-9zM86 41h9v1h-9zM86 42h9v1h-9zM86 43h9v1h-9zM86 44h9v1h-9zM86 45h9v1h-9zM86 46h9v1h-9zM86 47h9v1h-9zM86 48h9v1h-9zM86 49h9v1h-9zM86 50h9v1h-9zM86 51h9v1h-9zM86 52h9v1h-9zM86 53h9v1h-9zM86 54h9v1h-9zM86 55h9v1h-9zM85 56h11v1h-11zM85 57h11v1h-11zM85 58h11v1h-11zM85 59h11v1h-11zM85 60h11v1h-11zM84 61h13v1h-13zM84 62h13v1h-13zM84 63h13v1h-13zM84 64h13v1h-13zM83 65h15v1h-15zM83 66h15v1h-15zM82 67h17v1h-17zM81 68h19v1h-19zM81 69h19v1h-19zM80 70h21v1h-21zM80 71h21v1h-21zM79 72h23v1h-23zM79 73h23v1h-23zM77 74h27v1h-27zM74 75h33v1h-33zM70 76h41v1h-41zM62 77h57v1h-57zM45 78h91v1h-91zM-2 79h185v1h-185zM-2 80h185v1h-185zM-2 81h185v1h-185zM-2 82h185v1h-185z"/>
</svg></g></g>
<rect x="70.2" y="87.3" width="419.80" height="363.90" fill="none" stroke="#262626" stroke-width="0.8"/>
<path d="M94.55 451.2v-3.6M94.55 87.3v3.6M140.94 451.2v-3.6M140.94 87.3v3.6M187.33 451.2v-3.6M187.33 87.3v3.6M233.71 451.2v-3.6M233.71 87.3v3.6M280.10 451.2v-3.6M280.10 87.3v3.6M326.49 451.2v-3.6M326.49 87.3v3.6M372.87 451.2v-3.6M372.87 87.3v3.6M419.26 451.2v-3.6M419.26 87.3v3.6M465.65 451.2v-3.6M465.65 87.3v3.6M70.2 448.95h3.6M490.0 448.95h-3.6M70.2 404.03h3.6M490.0 404.03h-3.6M70.2 359.10h3.6M490.0 359.10h-3.6M70.2 314.18h3.6M490.0 314.18h-3.6M70.2 269.25h3.6M490.0 269.25h-3.6M70.2 224.32h3.6M490.0 224.32h-3.6M70.2 179.40h3.6M490.0 179.40h-3.6M70.2 134.47h3.6M490.0 134.47h-3.6M70.2 89.55h3.6M490.0 89.55h-3.6" stroke="#262626" stroke-width="0.8" fill="none"/>
<g class="serif">
<text x="279.7" y="18.3" text-anchor="middle" style="font-size:15.7px">Chebyshev Window - I</text>
<text x="280.2" y="76.1" text-anchor="middle">(a)</text>
<text x="93.0" y="470.4" text-anchor="middle">-80</text><text x="139.1" y="470.4" text-anchor="middle">-60</text><text x="185.0" y="470.4" text-anchor="middle">-40</text><text x="230.9" y="470.4" text-anchor="middle">-20</text><text x="276.4" y="470.4" text-anchor="middle">0</text><text x="326.7" y="470.4" text-anchor="middle">20</text><text x="372.7" y="470.4" text-anchor="middle">40</text><text x="419.1" y="470.4" text-anchor="middle">60</text><text x="465.3" y="470.4" text-anchor="middle">80</text>
<text x="67.5" y="93.4" text-anchor="end">8000</text><text x="67.5" y="138.9" text-anchor="end">7000</text><text x="67.5" y="184.4" text-anchor="end">6000</text><text x="67.5" y="229.9" text-anchor="end">5000</text><text x="67.5" y="275.4" text-anchor="end">4000</text><text x="67.5" y="320.9" text-anchor="end">3000</text><text x="67.5" y="366.4" text-anchor="end">2000</text><text x="67.5" y="411.9" text-anchor="end">1000</text><text x="64.2" y="457.4" text-anchor="end">0</text>
<text x="249.2" y="492.2"><tspan font-style="italic">θ</tspan> [deg]</text>
<text transform="translate(19.9 266.7) rotate(-90)" text-anchor="middle">Frequency [Hz]</text>
</g>
<g shape-rendering="crispEdges"><g shape-rendering="crispEdges"><rect x="500.3" y="445.71" width="21.4" height="5.99" fill="#352a87"/><rect x="500.3" y="440.02" width="21.4" height="5.99" fill="#363093"/><rect x="500.3" y="434.33" width="21.4" height="5.99" fill="#3637a0"/><rect x="500.3" y="428.64" width="21.4" height="5.99" fill="#353dad"/><rect x="500.3" y="422.95" width="21.4" height="5.99" fill="#3243ba"/><rect x="500.3" y="417.26" width="21.4" height="5.99" fill="#2c4ac7"/><rect x="500.3" y="411.57" width="21.4" height="5.99" fill="#2053d4"/><rect x="500.3" y="405.88" width="21.4" height="5.99" fill="#0f5cdd"/><rect x="500.3" y="400.18" width="21.4" height="5.99" fill="#0363e1"/><rect x="500.3" y="394.49" width="21.4" height="5.99" fill="#0268e1"/><rect x="500.3" y="388.80" width="21.4" height="5.99" fill="#046de0"/><rect x="500.3" y="383.11" width="21.4" height="5.99" fill="#0871de"/><rect x="500.3" y="377.42" width="21.4" height="5.99" fill="#0d75dc"/><rect x="500.3" y="371.73" width="21.4" height="5.99" fill="#1079da"/><rect x="500.3" y="366.04" width="21.4" height="5.99" fill="#127dd8"/><rect x="500.3" y="360.35" width="21.4" height="5.99" fill="#1481d6"/><rect x="500.3" y="354.66" width="21.4" height="5.99" fill="#1485d4"/><rect x="500.3" y="348.97" width="21.4" height="5.99" fill="#1389d3"/><rect x="500.3" y="343.28" width="21.4" height="5.99" fill="#108ed2"/><rect x="500.3" y="337.59" width="21.4" height="5.99" fill="#0c93d2"/><rect x="500.3" y="331.90" width="21.4" height="5.99" fill="#0998d1"/><rect x="500.3" y="326.21" width="21.4" height="5.99" fill="#079ccf"/><rect x="500.3" y="320.52" width="21.4" height="5.99" fill="#06a0cd"/><rect x="500.3" y="314.82" width="21.4" height="5.99" fill="#06a4ca"/><rect x="500.3" y="309.13" width="21.4" height="5.99" fill="#06a7c6"/><rect x="500.3" y="303.44" width="21.4" height="5.99" fill="#07a9c2"/><rect x="500.3" y="297.75" width="21.4" height="5.99" fill="#0aacbe"/><rect x="500.3" y="292.06" width="21.4" height="5.99" fill="#0faeb9"/><rect x="500.3" y="286.37" width="21.4" height="5.99" fill="#15b1b4"/><rect x="500.3" y="280.68" width="21.4" height="5.99" fill="#1db3af"/><rect x="500.3" y="274.99" width="21.4" height="5.99" fill="#25b5a9"/><rect x="500.3" y="269.30" width="21.4" height="5.99" fill="#2eb7a4"/><rect x="500.3" y="263.61" width="21.4" height="5.99" fill="#38b99e"/><rect x="500.3" y="257.92" width="21.4" height="5.99" fill="#42bb98"/><rect x="500.3" y="252.23" width="21.4" height="5.99" fill="#4dbc92"/><rect x="500.3" y="246.54" width="21.4" height="5.99" fill="#59bd8c"/><rect x="500.3" y="240.85" width="21.4" height="5.99" fill="#65be86"/><rect x="500.3" y="235.16" width="21.4" height="5.99" fill="#71bf80"/><rect x="500.3" y="229.47" width="21.4" height="5.99" fill="#7cbf7b"/><rect x="500.3" y="223.77" width="21.4" height="5.99" fill="#87bf77"/><rect x="500.3" y="218.08" width="21.4" height="5.99" fill="#92bf73"/><rect x="500.3" y="212.39" width="21.4" height="5.99" fill="#9cbf6f"/><rect x="500.3" y="206.70" width="21.4" height="5.99" fill="#a5be6b"/><rect x="500.3" y="201.01" width="21.4" height="5.99" fill="#aebe67"/><rect x="500.3" y="195.32" width="21.4" height="5.99" fill="#b7bd64"/><rect x="500.3" y="189.63" width="21.4" height="5.99" fill="#c0bc60"/><rect x="500.3" y="183.94" width="21.4" height="5.99" fill="#c8bc5d"/><rect x="500.3" y="178.25" width="21.4" height="5.99" fill="#d1bb59"/><rect x="500.3" y="172.56" width="21.4" height="5.99" fill="#d9ba56"/><rect x="500.3" y="166.87" width="21.4" height="5.99" fill="#e1b952"/><rect x="500.3" y="161.18" width="21.4" height="5.99" fill="#e9b94e"/><rect x="500.3" y="155.49" width="21.4" height="5.99" fill="#f1b94a"/><rect x="500.3" y="149.80" width="21.4" height="5.99" fill="#f8bb44"/><rect x="500.3" y="144.11" width="21.4" height="5.99" fill="#fdbe3d"/><rect x="500.3" y="138.42" width="21.4" height="5.99" fill="#ffc337"/><rect x="500.3" y="132.72" width="21.4" height="5.99" fill="#fec832"/><rect x="500.3" y="127.03" width="21.4" height="5.99" fill="#fcce2e"/><rect x="500.3" y="121.34" width="21.4" height="5.99" fill="#fad32a"/><rect x="500.3" y="115.65" width="21.4" height="5.99" fill="#f7d826"/><rect x="500.3" y="109.96" width="21.4" height="5.99" fill="#f5de21"/><rect x="500.3" y="104.27" width="21.4" height="5.99" fill="#f5e41d"/><rect x="500.3" y="98.58" width="21.4" height="5.99" fill="#f5eb18"/><rect x="500.3" y="92.89" width="21.4" height="5.99" fill="#f6f313"/><rect x="500.3" y="87.20" width="21.4" height="5.99" fill="#f9fb0e"/></g></g>
<rect x="500.3" y="87.2" width="21.4" height="364.2" fill="none" stroke="#262626" stroke-width="0.5"/>
<path d="M521.7 87.20h-3.2M521.7 147.90h-3.2M521.7 208.60h-3.2M521.7 269.30h-3.2M521.7 330.00h-3.2M521.7 390.70h-3.2M521.7 451.40h-3.2" stroke="#262626" stroke-width="0.5" fill="none"/>
<g class="sans"><text x="526.3" y="90.6">0</text><text x="526.3" y="151.3">-10</text><text x="526.3" y="212.0">-20</text><text x="526.3" y="272.7">-30</text><text x="526.3" y="333.4">-40</text><text x="526.3" y="394.1">-50</text><text x="526.3" y="454.8">-60</text></g>
</svg>
</body></html>
